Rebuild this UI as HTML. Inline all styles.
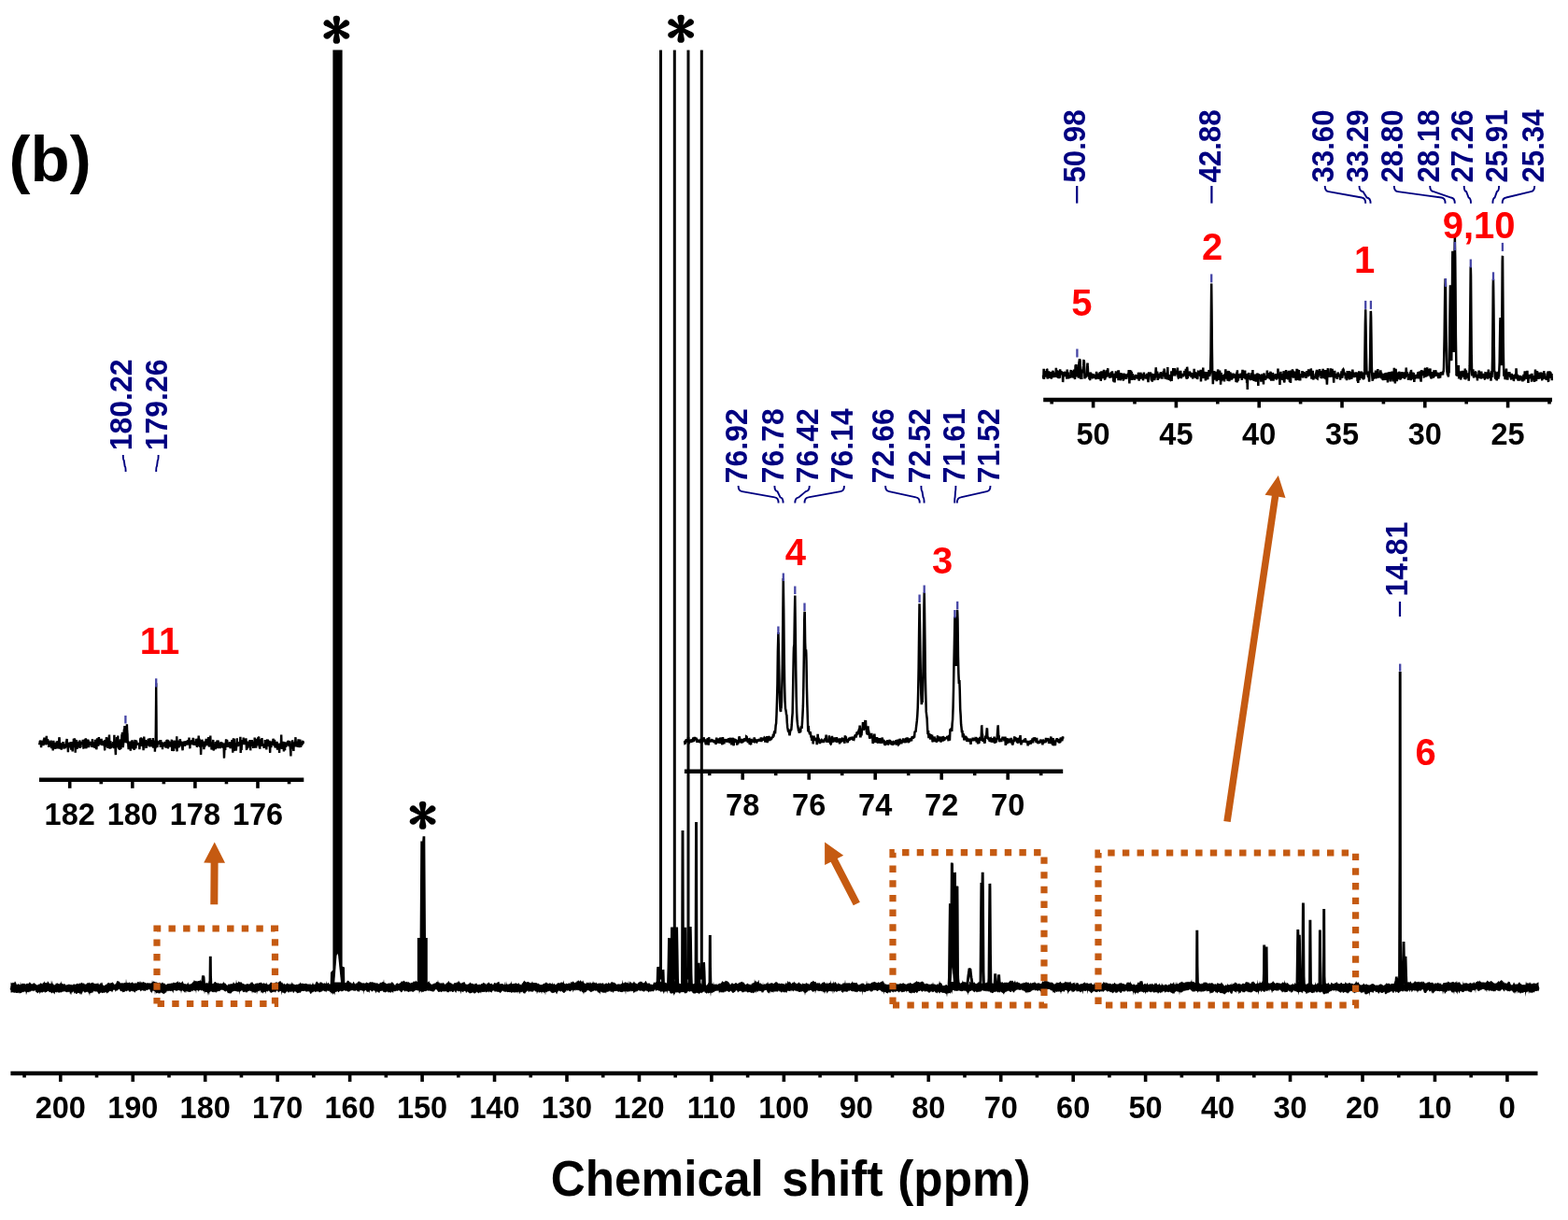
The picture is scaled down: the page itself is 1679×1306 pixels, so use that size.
<!DOCTYPE html>
<html><head><meta charset="utf-8"><title>13C NMR spectrum (b)</title>
<style>html,body{margin:0;padding:0;background:#fff;width:1679px;height:1306px;overflow:hidden}</style>
</head><body>
<svg width="1679" height="1306" viewBox="0 0 1679 1306" font-family="'Liberation Sans', Arial, sans-serif" style="display:block">
<rect width="1679" height="1306" fill="#fff"/>
<path d="M42 795.81L42.3 796.79L42.6 794.9L42.9 792.86L43.2 794.3L43.5 792.53L43.8 796.01L44.1 800.24L44.4 794.2L44.7 793.78L45 797.46L45.3 797.03L45.6 796.21L45.9 792.8L46.2 795.79L46.5 798.2L46.8 791.48L47.1 794.42L47.4 789.68L47.7 791.71L48 789.91L48.3 795.23L48.6 791.84L48.9 796.94L49.2 796.59L49.5 795.48L49.8 787.81L50.1 794.37L50.4 796.01L50.7 796.57L51 791.17L51.3 794.67L51.6 793.05L51.9 793.64L52.2 799.84L52.5 793.7L52.8 796.29L53.1 799.34L53.4 794.53L53.7 796.12L54 796.89L54.3 796.76L54.6 792.54L54.9 796.87L55.2 801.13L55.5 797.61L55.8 799.55L56.1 797.14L56.4 794.67L56.7 803.42L57 799.37L57.3 792.93L57.6 797.16L57.9 798.85L58.2 796.36L58.5 799.27L58.8 796.83L59.1 799.28L59.4 801.86L59.7 794.91L60 797.84L60.3 795.68L60.6 797.66L60.9 793.35L61.2 795.38L61.5 796.68L61.8 800.32L62.1 801.16L62.4 793.04L62.7 801.47L63 799.59L63.3 790.91L63.6 789.31L63.9 797.21L64.2 801.7L64.5 799.85L64.8 796.51L65.1 796.4L65.4 796.81L65.7 802.68L66 796.26L66.3 796.68L66.6 798.86L66.9 797.31L67.2 797.07L67.5 794.06L67.8 797.71L68.1 796.3L68.4 801.62L68.7 799.93L69 797.7L69.3 799.99L69.6 796.67L69.9 801.27L70.2 797.78L70.5 799.72L70.8 793.54L71.1 798.94L71.4 792.23L71.7 791.08L72 796.78L72.3 794.81L72.6 798.32L72.9 805.18L73.2 795.02L73.5 795.69L73.8 798.42L74.1 799.36L74.4 797.13L74.7 797.02L75 800.01L75.3 799.39L75.6 794.24L75.9 797.38L76.2 802.64L76.5 794.12L76.8 798.44L77.1 794.73L77.4 800.74L77.7 804.44L78 797.78L78.3 795.51L78.6 797.05L78.9 790.82L79.2 793.65L79.5 798.55L79.8 790.31L80.1 800.09L80.4 791.51L80.7 805.72L81 794.42L81.3 799.75L81.6 797.58L81.9 792.05L82.2 801.21L82.5 801.81L82.8 796.81L83.1 796.09L83.4 796.43L83.7 793.71L84 800.52L84.3 795.07L84.6 796.66L84.9 794.17L85.2 794.69L85.5 792.51L85.8 800.84L86.1 796.15L86.4 799.81L86.7 796.64L87 794.27L87.3 795.45L87.6 794.65L87.9 796.49L88.2 795.2L88.5 795.41L88.8 791.82L89.1 793.68L89.4 801.77L89.7 794.07L90 792.78L90.3 797.34L90.6 800.85L90.9 791.38L91.2 795.46L91.5 794.04L91.8 790.29L92.1 798.5L92.4 801.26L92.7 796.27L93 793.53L93.3 797.49L93.6 794.19L93.9 795.48L94.2 792.28L94.5 791.91L94.8 800.31L95.1 794.22L95.4 796.84L95.7 795.75L96 794.4L96.3 794.17L96.6 797.91L96.9 794.83L97.2 795.32L97.5 795.89L97.8 799.69L98.1 798.05L98.4 797.06L98.7 793.94L99 791.24L99.3 798.93L99.6 798.99L99.9 795.34L100.2 797.6L100.5 798.39L100.8 798.56L101.1 798.87L101.4 794.33L101.7 800.85L102 791.74L102.3 798.71L102.6 797.51L102.9 798.78L103.2 802.11L103.5 800.82L103.8 792.16L104.1 790.39L104.4 798.67L104.7 792.65L105 795.98L105.3 798.81L105.6 790.64L105.9 789.12L106.2 796.96L106.5 796.28L106.8 795.34L107.1 796.31L107.4 793.37L107.7 791.24L108 795.71L108.3 793.09L108.6 790.9L108.9 798.02L109.2 796.18L109.5 797.75L109.8 793.18L110.1 794.3L110.4 793.21L110.7 793.61L111 797.21L111.3 794.02L111.6 797.81L111.9 797.79L112.2 803.38L112.5 792.14L112.8 799.7L113.1 796.5L113.4 796.79L113.7 792.08L114 789.01L114.3 799.39L114.6 796.69L114.9 797.27L115.2 796.07L115.5 800.87L115.8 797.02L116.1 789.87L116.4 794.87L116.7 790.69L117 786.49L117.3 795.5L117.6 801.68L117.9 797.46L118.2 793.47L118.5 794.26L118.8 801.12L119.1 797.94L119.4 797.6L119.7 797.29L120 797.62L120.3 800.18L120.6 799.36L120.9 798.27L121.2 794.14L121.5 799.29L121.8 795.37L122.1 801.25L122.4 786.75L122.7 797.22L123 797.67L123.3 793.33L123.6 803.4L123.9 808.09L124.2 796.21L124.5 800.3L124.8 799.01L125.1 789.15L125.4 798.61L125.7 797.58L126 798.07L126.3 787.48L126.6 796.91L126.9 797.21L127.2 801.72L127.5 798.9L127.8 797.78L128.1 802.84L128.4 795.94L128.7 796.42L129 791.44L129.3 801.8L129.6 797.96L129.9 794.71L130.2 790.35L130.5 786.26L130.6 786.44L130.8 785.54L131.1 783.99L131.4 792.86L131.7 800.05L132 797.33L132.3 793.33L132.6 787.04L132.9 780.67L133.2 783.02L133.4 778.25L133.5 777.07L133.8 779.53L134.1 782.93L134.4 790.93L134.7 795.19L135 788.57L135.3 784.53L135.6 780.57L135.8 780.74L135.9 775.35L136.2 782.96L136.5 785.89L136.8 795.97L137.1 793.09L137.4 798.65L137.7 802.11L138 796.11L138.3 795.15L138.6 797.73L138.9 797.06L139.2 793.76L139.5 798.53L139.8 803.62L140.1 796.09L140.4 796.24L140.7 793.43L141 797.89L141.3 792.69L141.6 793.12L141.9 800.96L142.2 793.72L142.5 800.24L142.8 801.67L143.1 797.46L143.4 798.4L143.7 802.99L144 795.86L144.3 794.52L144.6 791.98L144.9 796.56L145.2 801.27L145.5 799.52L145.8 793.22L146.1 793.48L146.4 794.61L146.7 797.21L147 795.54L147.3 796.9L147.6 797.14L147.9 795.15L148.2 795.98L148.5 796.77L148.8 795.79L149.1 797.7L149.4 802.2L149.7 797.95L150 796.17L150.3 790.4L150.6 797.23L150.9 789.5L151.2 791.26L151.5 798.72L151.8 798.21L152.1 795.38L152.4 790.22L152.7 794.62L153 793.6L153.3 797.93L153.6 803.27L153.9 796.53L154.2 788.57L154.5 791.94L154.8 795.62L155.1 795.22L155.4 792L155.7 796.18L156 792L156.3 799.47L156.6 799.31L156.9 799.39L157.2 794.25L157.5 797.52L157.8 795.4L158.1 794.56L158.4 794.73L158.7 791.57L159 791.11L159.3 798.51L159.6 795.27L159.9 796.63L160.2 799.24L160.5 790.23L160.8 793.38L161.1 796.57L161.4 797.3L161.7 794.78L162 799.45L162.3 796.77L162.6 792.09L162.9 793.05L163.2 798.8L163.5 797.7L163.8 789.93L164.1 800.67L164.4 798.22L164.7 800.71L165 795.04L165.3 795.36L165.6 792.65L165.9 804.77L166.2 795.84L166.5 801.22L166.8 782.04L167.1 749.23L167.2 731.22L167.4 755.01L167.7 794.77L168 792.38L168.3 800.19L168.6 797.8L168.9 793.27L169.2 795.1L169.5 795.27L169.8 796.65L170.1 795.08L170.4 794.15L170.7 795.91L171 793.56L171.3 792.73L171.6 796.86L171.9 799.96L172.2 792.03L172.5 797.12L172.8 795L173.1 793.95L173.4 800.02L173.7 795.53L174 802.21L174.3 794.72L174.6 798.6L174.9 796.6L175.2 794.89L175.5 799.34L175.8 796.92L176.1 799.45L176.4 797.33L176.7 793.92L177 797.19L177.3 797.72L177.6 800.74L177.9 794.6L178.2 797.48L178.5 791.95L178.8 799.8L179.1 794.1L179.4 791.72L179.7 797.5L180 801.36L180.3 792.7L180.6 794.15L180.9 795.3L181.2 794.03L181.5 799.02L181.8 795.11L182.1 795.4L182.4 799.71L182.7 795.3L183 799.22L183.3 794.59L183.6 793.8L183.9 791.74L184.2 803.94L184.5 796.74L184.8 798.6L185.1 797.69L185.4 798.31L185.7 797.94L186 804.07L186.3 794.33L186.6 792.61L186.9 794.4L187.2 793.32L187.5 800.18L187.8 800.41L188.1 794.51L188.4 793.08L188.7 796.48L189 802.23L189.3 788.31L189.6 804.39L189.9 794.03L190.2 800.99L190.5 793.98L190.8 796.57L191.1 792.52L191.4 794.24L191.7 796.17L192 800.12L192.3 796.06L192.6 794.49L192.9 791.08L193.2 796L193.5 797.17L193.8 796.96L194.1 796.9L194.4 793.48L194.7 796.93L195 796.99L195.3 801.35L195.6 803.22L195.9 796.57L196.2 794.46L196.5 796.74L196.8 794.92L197.1 794.44L197.4 796.66L197.7 793.38L198 798.79L198.3 796.41L198.6 797.55L198.9 796.09L199.2 794.26L199.5 793.5L199.8 795.81L200.1 794.75L200.4 797.3L200.7 796.48L201 791.97L201.3 796.65L201.6 791.97L201.9 794.34L202.2 795.37L202.5 789.46L202.8 796.59L203.1 796.75L203.4 801.3L203.7 794.8L204 794.94L204.3 792.93L204.6 795.23L204.9 794.28L205.2 796.38L205.5 792.08L205.8 796.81L206.1 796.48L206.4 795.52L206.7 789.91L207 797.78L207.3 790.44L207.6 797.44L207.9 796.71L208.2 796.83L208.5 797.14L208.8 793.71L209.1 795L209.4 797.95L209.7 797.26L210 796.51L210.3 790.82L210.6 797.59L210.9 799.67L211.2 799.14L211.5 796.57L211.8 790.66L212.1 798.91L212.4 795.31L212.7 787.45L213 797.05L213.3 790.89L213.6 791.54L213.9 793.73L214.2 800.03L214.5 794.61L214.8 796.74L215.1 807.94L215.4 801.13L215.7 795.54L216 795.1L216.3 791.75L216.6 793.63L216.9 797.34L217.2 797.26L217.5 796.34L217.8 799.28L218.1 793.47L218.4 802.13L218.7 798.47L219 798.01L219.3 799.64L219.6 797.44L219.9 795.14L220.2 797.38L220.5 792.9L220.8 790.83L221.1 798.18L221.4 796.11L221.7 797.34L222 790.75L222.3 795.18L222.6 794.43L222.9 793.59L223.2 789.03L223.5 795.4L223.8 799.5L224.1 797.83L224.4 794.62L224.7 796.59L225 799.17L225.3 787.59L225.6 796.32L225.9 798.56L226.2 794.45L226.5 802.45L226.8 800.61L227.1 797.93L227.4 797.93L227.7 799.56L228 795.22L228.3 791.97L228.6 800.05L228.9 803.56L229.2 796.6L229.5 797L229.8 797.84L230.1 801.65L230.4 797.15L230.7 802.13L231 794.12L231.3 796.72L231.6 796.71L231.9 799.99L232.2 800.87L232.5 792.46L232.8 794.45L233.1 798.61L233.4 795.34L233.7 792.52L234 800.99L234.3 799.21L234.6 799.23L234.9 796.05L235.2 801.04L235.5 796.87L235.8 801.29L236.1 794.68L236.4 794.89L236.7 798.4L237 795.41L237.3 799.97L237.6 798.61L237.9 794.72L238.2 798.01L238.5 796.62L238.8 800.81L239.1 795.7L239.4 796.35L239.7 801.79L240 811.63L240.3 804.4L240.6 798.01L240.9 798.52L241.2 802.86L241.5 797.38L241.8 794.56L242.1 791.41L242.4 799.26L242.7 795.03L243 792.32L243.3 793L243.6 799.93L243.9 795.22L244.2 797.24L244.5 798.4L244.8 799.72L245.1 796.56L245.4 799.29L245.7 794.69L246 796.41L246.3 794.21L246.6 801.3L246.9 797.46L247.2 795.08L247.5 796.34L247.8 796.74L248.1 799.76L248.4 792.16L248.7 793.98L249 796.12L249.3 805.7L249.6 800.47L249.9 790.28L250.2 799.61L250.5 804.02L250.8 790.82L251.1 795.96L251.4 801.13L251.7 798.73L252 799.29L252.3 795.36L252.6 803.36L252.9 802.62L253.2 798.81L253.5 799.17L253.8 790.18L254.1 798.95L254.4 796.17L254.7 798.21L255 798.99L255.3 795.58L255.6 796.32L255.9 797.86L256.2 794.16L256.5 795.49L256.8 794.55L257.1 795.38L257.4 788.86L257.7 805.91L258 797.25L258.3 800.05L258.6 802.89L258.9 796.4L259.2 795.04L259.5 793.32L259.8 792.26L260.1 794.56L260.4 796.45L260.7 789.55L261 797.27L261.3 791.13L261.6 797.07L261.9 795.7L262.2 795.01L262.5 795.78L262.8 794.22L263.1 793.96L263.4 790.41L263.7 795.85L264 802.02L264.3 802.45L264.6 800.26L264.9 798.21L265.2 793.64L265.5 800.62L265.8 795.66L266.1 795.61L266.4 794.87L266.7 796.13L267 794.38L267.3 795.53L267.6 792.23L267.9 794.57L268.2 803.33L268.5 795.57L268.8 795.01L269.1 797.56L269.4 798.14L269.7 792.13L270 795.13L270.3 798.85L270.6 796.71L270.9 796.23L271.2 800.97L271.5 793.61L271.8 796.14L272.1 794.16L272.4 800.81L272.7 789.46L273 793.71L273.3 794.19L273.6 798.14L273.9 797.97L274.2 800.59L274.5 790.81L274.8 798.5L275.1 795.08L275.4 793.88L275.7 797.88L276 793.08L276.3 789.29L276.6 794.95L276.9 791.25L277.2 788.49L277.5 797.48L277.8 797.31L278.1 801.54L278.4 800.52L278.7 791.31L279 793.9L279.3 798.05L279.6 792.44L279.9 797.93L280.2 794.39L280.5 790.03L280.8 798.89L281.1 796.25L281.4 797.83L281.7 797.03L282 798.8L282.3 796.88L282.6 800.86L282.9 798.22L283.2 798.14L283.5 798.24L283.8 792.11L284.1 796.41L284.4 796.13L284.7 797.7L285 792.56L285.3 802.47L285.6 797.46L285.9 793.15L286.2 791.54L286.5 796.28L286.8 791.67L287.1 794.9L287.4 797.6L287.7 795.21L288 799.17L288.3 794.99L288.6 792.9L288.9 800.66L289.2 805.94L289.5 794.16L289.8 795.97L290.1 794.76L290.4 800.14L290.7 793.78L291 796L291.3 797.52L291.6 794.4L291.9 794.49L292.2 796.1L292.5 790.75L292.8 792.93L293.1 796.35L293.4 798.22L293.7 797.13L294 791.9L294.3 796.23L294.6 800.4L294.9 799.61L295.2 797.52L295.5 794.86L295.8 799.88L296.1 795.89L296.4 793.94L296.7 795.15L297 802.58L297.3 798.53L297.6 801.62L297.9 796.21L298.2 800.89L298.5 795.8L298.8 797.26L299.1 805.97L299.4 800.29L299.7 796.1L300 797.46L300.3 798.81L300.6 801.71L300.9 796.09L301.2 786.42L301.5 796.75L301.8 797.71L302.1 798L302.4 801.96L302.7 798.64L303 800.26L303.3 793.92L303.6 800.4L303.9 804.43L304.2 800.04L304.5 798.3L304.8 797.95L305.1 803.31L305.4 794.32L305.7 796.99L306 798.85L306.3 799.76L306.6 795.83L306.9 798.26L307.2 796.29L307.5 797.58L307.8 796.71L308.1 793.35L308.4 797.02L308.7 793.8L309 793.83L309.3 796.19L309.6 799.15L309.9 793.39L310.2 797.49L310.5 793.36L310.8 800.57L311.1 804.42L311.4 809.45L311.7 796L312 799.13L312.3 797.06L312.6 796.96L312.9 801.7L313.2 792.21L313.5 800.01L313.8 796.33L314.1 801.11L314.4 803.98L314.7 794.18L315 797.29L315.3 798.77L315.6 796.43L315.9 797.89L316.2 794.53L316.5 789.19L316.8 799.17L317.1 798.48L317.4 796.64L317.7 796.35L318 799.52L318.3 794.57L318.6 793.72L318.9 795.41L319.2 799.94L319.5 791.41L319.8 799.9L320.1 793.84L320.4 792.3L320.7 800.08L321 795.58L321.3 791.6L321.6 794.69L321.9 798.94L322.2 799.79L322.5 794.43L322.8 797.17L323.1 798.18L323.4 793.69L323.7 796.98L324 795.7L324.3 794.04L324.6 794.18L324.9 796.02" fill="none" stroke="#000" stroke-width="2.4" stroke-linejoin="miter" stroke-miterlimit="2"/>
<path d="M733 793.02L733.45 795.8L733.9 795.52L734.35 791.88L734.8 792.32L735.25 791.84L735.7 794.14L736.15 792.83L736.6 794.51L737.05 789.07L737.5 796.24L737.95 792.74L738.4 794.37L738.85 792.66L739.3 792.15L739.75 793.92L740.2 794.67L740.65 792.52L741.1 792.62L741.55 794.38L742 791.11L742.45 789.76L742.9 793.77L743.35 791.53L743.8 788.91L744.25 791.23L744.7 791.96L745.15 790.43L745.6 789.8L746.05 793.01L746.5 794.82L746.95 792.45L747.4 791.37L747.85 793.74L748.3 794.44L748.75 792.3L749.2 794.08L749.65 795.12L750.1 792.5L750.55 791.22L751 793.66L751.45 793.45L751.9 795.24L752.35 790.23L752.8 791.54L753.25 791.17L753.7 789.28L754.15 793.19L754.6 794.03L755.05 791.37L755.5 795.83L755.95 797.23L756.4 794.24L756.85 793.76L757.3 794.93L757.75 790.12L758.2 794.21L758.65 797.67L759.1 789.2L759.55 793.65L760 792.39L760.45 794.56L760.9 791.99L761.35 792.87L761.8 793.63L762.25 791.07L762.7 794.17L763.15 792.69L763.6 793.94L764.05 791.81L764.5 795.19L764.95 794.18L765.4 792.53L765.85 794.23L766.3 795.55L766.75 796.66L767.2 789.6L767.65 794.75L768.1 793.87L768.55 792.7L769 790.78L769.45 795.53L769.9 790.24L770.35 794.08L770.8 795.62L771.25 789.53L771.7 792.25L772.15 790.14L772.6 793.4L773.05 796.06L773.5 797.13L773.95 789.15L774.4 791.67L774.85 794.36L775.3 796.19L775.75 793.76L776.2 791.31L776.65 793.5L777.1 792.84L777.55 792.44L778 791.32L778.45 793.68L778.9 793.51L779.35 792.67L779.8 792.39L780.25 790.16L780.7 791.83L781.15 795.39L781.6 792.45L782.05 789.83L782.5 795.65L782.95 793.96L783.4 797.27L783.85 792.97L784.3 791.87L784.75 789.8L785.2 795.61L785.65 798.23L786.1 791.1L786.55 791.47L787 794.07L787.45 791.08L787.9 794.85L788.35 792.08L788.8 793.21L789.25 797.63L789.7 792.85L790.15 794.73L790.6 794.94L791.05 793.48L791.5 788.3L791.95 789.74L792.4 794.46L792.85 791.54L793.3 793.99L793.75 793.91L794.2 795.54L794.65 790.97L795.1 794.9L795.55 792.52L796 794.26L796.45 791.21L796.9 791.72L797.35 790.36L797.8 791.58L798.25 792.53L798.7 793.25L799.15 788.4L799.6 788.67L800.05 792.55L800.5 793.17L800.95 794.96L801.4 793.89L801.85 791.32L802.3 791.15L802.75 796.88L803.2 794.24L803.65 796.49L804.1 797.1L804.55 790.91L805 793.42L805.45 793.57L805.9 793.77L806.35 793.72L806.8 793L807.25 792.93L807.7 789.39L808.15 795.32L808.6 790.95L809.05 792.77L809.5 791.51L809.95 793.78L810.4 794.18L810.85 793.09L811.3 793.09L811.75 792.6L812.2 791.45L812.65 792.02L813.1 791.31L813.55 793.14L814 792.33L814.45 793.49L814.9 789.45L815.35 794.08L815.8 790.58L816.25 790.61L816.7 791.7L817.15 790.89L817.6 792.65L818.05 790.78L818.5 789.7L818.95 790.11L819.4 794.59L819.85 791.87L820.3 789.25L820.75 791.65L821.2 788.29L821.65 795.23L822.1 788.17L822.55 792.27L823 792.29L823.45 787.97L823.9 791.49L824.35 792.79L824.8 791.48L825.25 790.83L825.7 792.02L826.15 790.07L826.6 790.08L827.05 788.69L827.5 789.78L827.95 785.85L828.4 788.71L828.85 784.99L829.3 782.44L829.75 783.76L830 785.36L830.2 782.73L830.65 776.47L831.1 774.26L831.55 764.29L832 749.67L832.45 732.17L832.9 696.83L833.35 679.98L833.4 677.06L833.8 691.87L834.25 716.27L834.7 740.36L835.15 752.65L835.6 760.56L836.05 761.87L836.2 757.74L836.5 758.69L836.95 750.51L837.4 733.51L837.85 710.19L838.3 663.45L838.75 618.98L838.8 623.38L839.2 652.32L839.65 700.21L840.1 731.35L840.55 750.78L841 758.46L841.45 760.19L841.9 763.46L842 765.54L842.35 764.76L842.8 773.41L843.25 778.66L843.7 781.13L844.15 783.6L844.6 781.59L845.05 784.45L845.5 787.22L845.95 784.34L846.4 780.6L846.85 781.88L847.3 781.17L847.75 775.97L848.2 768.49L848.65 763.16L849.1 739.12L849.55 713.99L849.8 699.94L850 693.07L850.45 689.82L850.9 658.36L851.3 637.53L851.35 642.26L851.8 677.54L852.25 717.54L852.7 746.07L853.15 762.44L853.6 771.48L854.05 775.49L854.5 778.39L854.95 781.31L855.4 781.15L855.85 784.79L856.3 782.91L856.75 783.11L857.2 783.09L857.65 778.72L858.1 777.78L858.55 779.88L859 773.31L859.45 765.5L859.9 755.93L860.35 735.31L860.8 705.01L861.25 664.02L861.5 655.57L861.7 654.86L862.15 688L862.6 700.47L863.05 695.42L863.3 699.52L863.5 707.12L863.95 736.5L864.4 754.67L864.85 769.65L865.3 783.2L865.75 777.09L866.2 783.26L866.65 783.84L867.1 786.3L867.55 783.16L868 785.37L868.45 789.41L868.9 788.89L869.35 792.84L869.8 788.28L870.25 787.79L870.7 796.44L871.15 788.94L871.6 788.84L872.05 790.84L872.5 790.96L872.95 792.96L873.4 791.58L873.85 789.82L874.3 791.95L874.75 797.13L875.2 794.34L875.65 785.89L876.1 791.5L876.55 790.02L877 793.22L877.45 791.6L877.9 796.07L878.35 794.01L878.8 793.96L879.25 792.52L879.7 792.08L880.15 792.91L880.6 794.94L881.05 793.37L881.5 791.54L881.95 794.98L882.4 792.73L882.85 792.18L883.3 790.7L883.75 791.2L884.2 791.07L884.65 786.56L885.1 794.57L885.55 793.64L886 792.02L886.45 794.68L886.9 793.41L887.35 793.29L887.8 787.32L888.25 792.04L888.7 793.66L889.15 795.93L889.6 796.43L890.05 795.56L890.5 790.14L890.95 787.97L891.4 793.79L891.85 792.66L892.3 794.63L892.75 792.35L893.2 793.08L893.65 789.48L894.1 793.58L894.55 791.71L895 793.38L895.45 793.61L895.9 789.06L896.35 793.32L896.8 792.63L897.25 794.25L897.7 793.71L898.15 791.5L898.6 791.42L899.05 796.31L899.5 792.43L899.95 794.72L900.4 793.45L900.85 791.43L901.3 791.02L901.75 792.83L902.2 793.1L902.65 793.82L903.1 789.84L903.55 791.22L904 792.23L904.45 795.75L904.9 787.38L905.35 793.2L905.8 788.41L906.25 793.04L906.7 791.02L907.15 792.73L907.6 795.15L908.05 792.5L908.5 792.54L908.95 792.28L909.4 789.78L909.85 792.34L910.3 790.6L910.75 789.15L911.2 790.58L911.65 789.98L912.1 791.82L912.55 789.92L913 788.66L913.45 792.57L913.9 791.33L914.35 791.65L914.8 789.98L915.25 788.19L915.7 787.25L916.15 787.24L916.6 789.51L917.05 787.44L917.5 783.77L917.95 786.47L918.4 783.21L918.85 786.09L919.3 782.6L919.75 781.34L920.2 781.65L920.5 779.62L920.65 776.66L921.1 788.2L921.55 788.18L922 780.68L922.45 787.38L922.9 781.46L923.35 780.19L923.8 776.83L924 773L924.25 780.2L924.7 781.78L925.15 779.85L925.6 779.83L926.05 773.82L926.5 771.06L926.6 773.47L926.95 771.18L927.4 779.01L927.85 782.58L928.3 785.25L928.75 785.41L929.2 779.21L929.5 777.35L929.65 780.47L930.1 782.5L930.55 784.74L931 788.73L931.45 790.69L931.9 788.21L932.35 787.69L932.8 789.68L933.25 784.88L933.7 789.15L934.15 787.29L934.6 794.84L935.05 794.89L935.5 790.71L935.95 790.28L936.4 785.67L936.85 792.7L937.3 794.87L937.75 790.14L938.2 793.33L938.65 793.62L939.1 789.04L939.55 794.45L940 795.5L940.45 793.31L940.9 790.12L941.35 794.79L941.8 790.04L942.25 793.61L942.7 795.75L943.15 791.05L943.6 795.86L944.05 793L944.5 789.62L944.95 791.39L945.4 792.14L945.85 794.94L946.3 791.89L946.75 796.63L947.2 792.95L947.65 798.06L948.1 796.3L948.55 794.02L949 797.26L949.45 795.26L949.9 794.03L950.35 792.28L950.8 797.38L951.25 796.52L951.7 794.33L952.15 795.55L952.6 792.9L953.05 792.95L953.5 793.35L953.95 795.84L954.4 795.72L954.85 793.53L955.3 796.64L955.75 796.72L956.2 795.42L956.65 797.21L957.1 794.4L957.55 794.73L958 795.93L958.45 794.82L958.9 796.51L959.35 792.16L959.8 797.73L960.25 793.04L960.7 794.27L961.15 791.66L961.6 795.74L962.05 797.08L962.5 796.58L962.95 796L963.4 790.9L963.85 792.45L964.3 793.03L964.75 791.95L965.2 796.18L965.65 794.12L966.1 793.59L966.55 794.56L967 791.44L967.45 791.44L967.9 794.71L968.35 794.18L968.8 793.75L969.25 794.14L969.7 795.08L970.15 789.85L970.6 791.4L971.05 792.77L971.5 789.5L971.95 791.08L972.4 794.19L972.85 794.23L973.3 794.02L973.75 791.69L974.2 790.97L974.65 793.49L975.1 790.23L975.55 791.48L976 793.29L976.45 789.44L976.9 788.6L977.35 789.47L977.8 790.29L978.25 789.51L978.7 788.18L979.15 788.24L979.6 782.74L980.05 783.06L980.5 783.61L980.95 779.19L981.4 775.38L981.85 771.47L982.3 765.81L982.75 757.52L983.2 739.53L983.65 715.12L984.1 678.79L984.55 646.2L984.6 648.73L985 665.17L985.45 700.56L985.9 726.52L986.35 743.6L986.8 754.14L987.25 751.14L987.7 751.96L988.15 739.08L988.6 711.66L989.05 681.11L989.5 644.69L989.7 634.35L989.95 647.45L990.4 683.2L990.85 724.5L991.3 743.6L991.75 761.9L992.2 765.66L992.65 769.41L993.1 779.54L993.55 786.17L994 782.07L994.45 790.08L994.9 786.17L995.35 786.16L995.8 788.85L996.25 791.59L996.7 786.03L997.15 790.22L997.6 790.1L998.05 786.67L998.5 793.3L998.95 794.21L999.4 788.3L999.85 794.1L1000.3 790.71L1000.75 790.37L1001.2 793.97L1001.65 791.38L1002.1 791.66L1002.55 794.23L1003 793.8L1003.45 793.02L1003.9 788.24L1004.35 787.91L1004.8 793.6L1005.25 789.31L1005.7 791.58L1006.15 789.01L1006.6 790.88L1007.05 788.57L1007.5 794.66L1007.95 789.07L1008.4 790.92L1008.85 790.74L1009.3 793.62L1009.75 788.05L1010.2 790.9L1010.65 790.45L1011.1 791.91L1011.55 791.68L1012 789.59L1012.45 790.93L1012.9 789.47L1013.35 791.05L1013.8 789.63L1014.25 788.21L1014.7 789.23L1015.15 789.69L1015.6 793.26L1016.05 786.96L1016.5 788.01L1016.95 792.77L1017.4 781.27L1017.85 780.76L1018.3 780.34L1018.75 780.49L1019.2 782.98L1019.65 774.6L1020.1 770.32L1020.55 758.07L1021 738.59L1021.45 711.86L1021.9 689.59L1022.35 664.05L1022.4 660.27L1022.8 675.84L1023.25 694.37L1023.7 712.82L1024.15 708.69L1024.6 680.65L1025.05 652.72L1025.2 654.77L1025.5 662.95L1025.95 702.22L1026.4 721.35L1026.85 731.9L1027.3 729.08L1027.4 729.09L1027.75 739.05L1028.2 758.87L1028.65 765.61L1029.1 775.49L1029.55 779.21L1030 784.08L1030.45 781.86L1030.9 789.44L1031.35 786.22L1031.8 785.28L1032.25 791.23L1032.7 792.34L1033.15 788.89L1033.6 787.78L1034.05 789.99L1034.5 788.77L1034.95 789.8L1035.4 793.93L1035.85 791.65L1036.3 791.29L1036.75 791.85L1037.2 791.12L1037.65 793.12L1038.1 793.3L1038.55 790.77L1039 791.85L1039.45 796.77L1039.9 792.65L1040.35 791.43L1040.8 792.9L1041.25 791.95L1041.7 789.67L1042.15 793.43L1042.6 790.17L1043.05 791.05L1043.5 792.81L1043.95 791.88L1044.4 790.57L1044.85 791.04L1045.3 790.96L1045.75 794.67L1046.2 790.72L1046.65 791.03L1047.1 796.51L1047.55 791.05L1048 795.3L1048.45 794.88L1048.9 791.69L1049.35 788.83L1049.8 792.37L1050.25 791.89L1050.7 789.58L1051.15 777.56L1051.3 777.53L1051.6 784.73L1052.05 786.73L1052.5 793.87L1052.95 791.9L1053.4 790.63L1053.85 791.25L1054.3 795.85L1054.75 793.84L1055.2 787.69L1055.65 790.85L1056.1 788.34L1056.55 782.94L1056.8 779.92L1057 779.55L1057.45 790.11L1057.9 788.66L1058.35 790.76L1058.8 790.69L1059.25 790.65L1059.7 793.88L1060.15 793.21L1060.6 791.04L1061.05 790.52L1061.5 791.55L1061.95 794.58L1062.4 792.83L1062.85 790.19L1063.3 794.63L1063.75 792.02L1064.2 793L1064.65 788.65L1065.1 795.87L1065.55 790.77L1066 791.12L1066.45 794.95L1066.9 792.29L1067.35 791.26L1067.8 788.34L1068.25 781.34L1068.7 776.39L1069.15 787.14L1069.6 787.7L1070.05 794.06L1070.5 792.54L1070.95 790.65L1071.4 793.44L1071.85 792.5L1072.3 794.02L1072.75 791.07L1073.2 790.5L1073.65 788.78L1074.1 790.19L1074.55 790.48L1075 789.76L1075.45 793.42L1075.9 791.39L1076.35 788.61L1076.8 798.01L1077.25 791.05L1077.7 790.18L1078.15 795.42L1078.6 795.27L1079.05 790.41L1079.5 793.24L1079.95 790.74L1080.4 795.21L1080.85 792.19L1081.3 791.15L1081.75 792.79L1082.2 795.38L1082.65 789.94L1083.1 792.05L1083.55 792.57L1084 797.43L1084.45 796.69L1084.9 794.87L1085.35 792.59L1085.8 794.26L1086.25 788.46L1086.7 793.46L1087.15 790.07L1087.6 790.1L1088.05 791.4L1088.5 792.15L1088.95 794.09L1089.4 794.36L1089.85 790.02L1090.3 790.91L1090.75 794.31L1091.2 792.64L1091.65 795.37L1092.1 790.97L1092.55 787.1L1093 794.33L1093.45 797.42L1093.9 793.89L1094.35 792.5L1094.8 794.76L1095.25 793.96L1095.7 793.88L1096.15 791.83L1096.6 793.07L1097.05 793.33L1097.5 791.56L1097.95 790.56L1098.4 793.21L1098.85 794.95L1099.3 794.27L1099.75 793.95L1100.2 793.98L1100.65 798.34L1101.1 793.46L1101.55 795.11L1102 797.03L1102.45 793.03L1102.9 793.48L1103.35 795.12L1103.8 796.47L1104.25 793.58L1104.7 793.69L1105.15 793.12L1105.6 790.39L1106.05 795.27L1106.5 792.4L1106.95 789.32L1107.4 792.63L1107.85 789.3L1108.3 790.82L1108.75 792.98L1109.2 791.01L1109.65 795.19L1110.1 789.86L1110.55 793.5L1111 794.12L1111.45 796.02L1111.9 794.89L1112.35 793.44L1112.8 795.82L1113.25 792.83L1113.7 795.35L1114.15 791.58L1114.6 794.05L1115.05 792.76L1115.5 793.47L1115.95 792.41L1116.4 797.45L1116.85 791.58L1117.3 793.5L1117.75 793.54L1118.2 794.24L1118.65 793.91L1119.1 793.86L1119.55 795.03L1120 789.81L1120.45 792.99L1120.9 790.38L1121.35 793.46L1121.8 790.49L1122.25 790.96L1122.7 792.85L1123.15 795.91L1123.6 794.19L1124.05 793.6L1124.5 795.92L1124.95 790.99L1125.4 788.58L1125.85 792.09L1126.3 792.39L1126.75 795.57L1127.2 797.47L1127.65 790.19L1128.1 798.18L1128.55 796.27L1129 794.74L1129.45 793.75L1129.9 798.08L1130.35 793.15L1130.8 791.99L1131.25 793.28L1131.7 790.11L1132.15 793.98L1132.6 792.75L1133.05 793.68L1133.5 793.74L1133.95 790.76L1134.4 795.75L1134.85 790.86L1135.3 794.85L1135.75 789.64L1136.2 790.3L1136.65 791.27L1137.1 793.08L1137.55 791.62L1138 788.4L1138.45 790.65" fill="none" stroke="#000" stroke-width="2.5" stroke-linejoin="miter" stroke-miterlimit="2"/>
<path d="M1117 401.76L1117.33 405.44L1117.66 394.89L1117.99 406L1118.32 400.45L1118.65 398.04L1118.98 398.03L1119.31 397.14L1119.64 399.88L1119.97 403.27L1120.3 402.47L1120.63 402.64L1120.96 395.18L1121.29 395.57L1121.62 405.58L1121.95 403.7L1122.28 403.93L1122.61 404.48L1122.94 397.33L1123.27 404.73L1123.6 402.63L1123.93 401.31L1124.26 398L1124.59 400.63L1124.92 400.16L1125.25 403.49L1125.58 401.03L1125.91 405.71L1126.24 398.17L1126.57 402.16L1126.9 402.25L1127.23 397.89L1127.56 396.88L1127.89 403.91L1128.22 402.33L1128.55 400.16L1128.88 401.95L1129.21 398.53L1129.54 401.46L1129.87 398.77L1130.2 401.32L1130.53 403.88L1130.86 393.9L1131.19 403.46L1131.52 397.44L1131.85 399.83L1132.18 396.4L1132.51 400.45L1132.84 404.77L1133.17 400.16L1133.5 399.94L1133.83 405.1L1134.16 401.44L1134.49 396.94L1134.82 404.6L1135.15 395.34L1135.48 398.51L1135.81 400.32L1136.14 401.24L1136.47 397.54L1136.8 398.6L1137.13 401.16L1137.46 398.71L1137.79 398.89L1138.12 409.08L1138.45 403.95L1138.78 400.79L1139.11 401.05L1139.44 400.94L1139.77 399.56L1140.1 399.39L1140.43 397.72L1140.76 403.13L1141.09 400.8L1141.42 400.64L1141.75 401.74L1142.08 402.81L1142.41 405.67L1142.74 395.52L1143.07 399.87L1143.4 401.81L1143.73 398.48L1144.06 405.27L1144.39 404.18L1144.72 403.45L1145.05 400.86L1145.38 403.63L1145.71 404.64L1146.04 402.89L1146.37 400.41L1146.7 395.93L1147.03 404.37L1147.36 400.22L1147.69 398.67L1148.02 404.24L1148.35 402.49L1148.68 396.88L1149.01 401.12L1149.34 400.59L1149.67 404.64L1150 395.42L1150.33 400.27L1150.66 401.07L1150.99 406.05L1151.32 397.84L1151.65 390.65L1151.98 391.74L1152.31 391.07L1152.6 390.21L1152.64 393.22L1152.97 392.94L1153.3 394.91L1153.63 403.48L1153.96 401.51L1154.29 401.04L1154.62 401.62L1154.95 404.7L1155.28 389.27L1155.61 386.82L1155.94 384.73L1156 384.58L1156.27 385L1156.6 386.21L1156.93 401.04L1157.26 405.8L1157.59 404.13L1157.92 404.09L1158.25 405.9L1158.58 395.56L1158.91 397.09L1159.24 399.45L1159.57 396.62L1159.9 393.49L1160.23 391.38L1160.5 384.92L1160.56 387.73L1160.89 386.58L1161.22 395.33L1161.55 405.53L1161.88 400.24L1162.21 403.14L1162.54 404.4L1162.87 400.56L1163.2 403.88L1163.53 401.99L1163.86 401.16L1164.19 393.08L1164.5 388.62L1164.52 389.97L1164.85 393.82L1165.18 401.1L1165.51 400.9L1165.84 400.91L1166.17 401.72L1166.5 405.84L1166.83 400.5L1167.16 407.19L1167.49 398.44L1167.82 400.49L1168.15 405.14L1168.48 404.07L1168.81 399.69L1169.14 402.1L1169.47 400.19L1169.8 405.2L1170.13 404.21L1170.46 400.22L1170.79 403.79L1171.12 401.35L1171.45 402.31L1171.78 402.76L1172.11 400.76L1172.44 403.94L1172.77 404.07L1173.1 403.97L1173.43 406.16L1173.76 401.76L1174.09 397.9L1174.42 401.09L1174.75 403.31L1175.08 402.75L1175.41 404.54L1175.74 405.28L1176.07 402.34L1176.4 402.37L1176.73 399.58L1177.06 406.05L1177.39 401.91L1177.72 399.3L1178.05 399.21L1178.38 401.46L1178.71 407.78L1179.04 405.28L1179.37 397.4L1179.7 402.43L1180.03 403.68L1180.36 404.85L1180.69 403.95L1181.02 400.81L1181.35 404.19L1181.68 401.1L1182.01 395.71L1182.34 400.62L1182.67 400.7L1183 405.96L1183.33 406.29L1183.66 399.57L1183.99 403.48L1184.32 403.22L1184.65 398.34L1184.98 396.37L1185.31 402.65L1185.64 403.39L1185.97 396.64L1186.3 394.28L1186.63 402.87L1186.96 401.12L1187.29 400.13L1187.62 401.94L1187.95 399.37L1188.28 404.77L1188.61 403.02L1188.94 401.2L1189.27 403.89L1189.6 402.89L1189.93 398.14L1190.26 402.53L1190.59 401.53L1190.92 397.43L1191.25 400.91L1191.58 404.36L1191.91 401.02L1192.24 407.5L1192.57 408.43L1192.9 402.02L1193.23 399.78L1193.56 409.37L1193.89 401.94L1194.22 400.12L1194.55 401.64L1194.88 398.59L1195.21 398.67L1195.54 403.66L1195.87 401.65L1196.2 403.77L1196.53 404.54L1196.86 400.53L1197.19 396.58L1197.52 407.09L1197.85 396.27L1198.18 400.28L1198.51 403.97L1198.84 402.5L1199.17 404.01L1199.5 406.14L1199.83 406.18L1200.16 399.37L1200.49 400.18L1200.82 402.1L1201.15 403.31L1201.48 405.91L1201.81 399.82L1202.14 401.49L1202.47 403.67L1202.8 406.81L1203.13 407.28L1203.46 399.64L1203.79 402.17L1204.12 400.26L1204.45 405.55L1204.78 404.26L1205.11 401.67L1205.44 400.85L1205.77 403.74L1206.1 405.93L1206.43 400.32L1206.76 401.73L1207.09 403.12L1207.42 402.81L1207.75 403.82L1208.08 399.53L1208.41 400.81L1208.74 395.98L1209.07 402.87L1209.4 410.57L1209.73 396.09L1210.06 400.64L1210.39 405.52L1210.72 402.18L1211.05 396.56L1211.38 406.35L1211.71 398.03L1212.04 406.97L1212.37 400.7L1212.7 400.29L1213.03 402.63L1213.36 402.46L1213.69 404.44L1214.02 404.11L1214.35 402.01L1214.68 406.7L1215.01 404.74L1215.34 403.32L1215.67 402.86L1216 402.11L1216.33 402.15L1216.66 404.51L1216.99 403.89L1217.32 402.48L1217.65 405.59L1217.98 401.48L1218.31 403.7L1218.64 405.04L1218.97 398.71L1219.3 401.42L1219.63 407.58L1219.96 399.17L1220.29 405.9L1220.62 398.81L1220.95 403.48L1221.28 398.76L1221.61 400.17L1221.94 400.93L1222.27 400.36L1222.6 405.32L1222.93 404.75L1223.26 404.85L1223.59 402.67L1223.92 407.27L1224.25 405.31L1224.58 403.04L1224.91 398.62L1225.24 404.16L1225.57 404.03L1225.9 402.23L1226.23 404.19L1226.56 404.36L1226.89 400.92L1227.22 403.67L1227.55 402.95L1227.88 402.83L1228.21 400.71L1228.54 400.31L1228.87 402.15L1229.2 406.34L1229.53 409.18L1229.86 400.54L1230.19 398.33L1230.52 400.59L1230.85 399L1231.18 400.32L1231.51 402.91L1231.84 398.69L1232.17 399.94L1232.5 404.12L1232.83 406.42L1233.16 407.37L1233.49 404.73L1233.82 408.77L1234.15 399.9L1234.48 402.37L1234.81 402.02L1235.14 402.86L1235.47 404.71L1235.8 400.38L1236.13 406.89L1236.46 405.47L1236.79 402.5L1237.12 402.86L1237.45 398.26L1237.78 393.4L1238.11 401.05L1238.44 402.33L1238.77 402.03L1239.1 397.77L1239.43 399.83L1239.76 406.86L1240.09 403.57L1240.42 403.2L1240.75 400.23L1241.08 403.56L1241.41 405.29L1241.74 403.59L1242.07 399.87L1242.4 402.06L1242.73 398.33L1243.06 400.15L1243.39 402.99L1243.72 399.39L1244.05 400.35L1244.38 405.64L1244.71 400.52L1245.04 403.49L1245.37 400.08L1245.7 397.4L1246.03 401.02L1246.36 399.86L1246.69 394.59L1247.02 397.15L1247.35 399.63L1247.68 405.64L1248.01 399.12L1248.34 400.83L1248.67 402.92L1249 401.83L1249.33 399.82L1249.66 406.29L1249.99 405.13L1250.32 393.12L1250.65 403.91L1250.98 402.58L1251.31 403.95L1251.64 401.11L1251.97 403.44L1252.3 406.93L1252.63 406.24L1252.96 406.48L1253.29 404.13L1253.62 403.71L1253.95 403.76L1254.28 397.21L1254.61 407.97L1254.94 401.51L1255.27 401.78L1255.6 401.12L1255.93 402.24L1256.26 393.99L1256.59 401.45L1256.92 396.69L1257.25 397.58L1257.58 394.8L1257.91 395.24L1258.24 402.55L1258.57 399.13L1258.9 400.35L1259.23 400.13L1259.56 396.98L1259.89 398.41L1260.22 396.66L1260.55 399.66L1260.88 393.59L1261.21 399.39L1261.54 403.53L1261.87 404.47L1262.2 404.27L1262.53 402.2L1262.86 397.43L1263.19 403.5L1263.52 402.27L1263.85 401.46L1264.18 396.76L1264.51 401.85L1264.84 405.1L1265.17 402.97L1265.5 399.88L1265.83 402.35L1266.16 400.62L1266.49 401.18L1266.82 403.3L1267.15 401.71L1267.48 400.85L1267.81 401.84L1268.14 398.01L1268.47 397.46L1268.8 402.17L1269.13 398.74L1269.46 402.41L1269.79 394.78L1270.12 404.45L1270.45 400.33L1270.78 405.94L1271.11 392.78L1271.44 395.31L1271.77 405.13L1272.1 401.17L1272.43 401.65L1272.76 401.08L1273.09 401.2L1273.42 402.41L1273.75 397.5L1274.08 400.19L1274.41 399.61L1274.74 401.31L1275.07 398.77L1275.4 401.05L1275.73 404.08L1276.06 400.13L1276.39 400.21L1276.72 402.35L1277.05 403.5L1277.38 405.5L1277.71 400.4L1278.04 401.93L1278.37 404.16L1278.7 394.8L1279.03 401.32L1279.36 402.34L1279.69 400.62L1280.02 398.19L1280.35 402.78L1280.68 404.88L1281.01 400.66L1281.34 399.42L1281.67 400.29L1282 405.94L1282.33 404.96L1282.66 401.15L1282.99 397.54L1283.32 397.02L1283.65 400.03L1283.98 400.07L1284.31 401.94L1284.64 397.5L1284.97 400.72L1285.3 402.83L1285.63 395.77L1285.96 408.48L1286.29 403.02L1286.62 402.88L1286.95 397.06L1287.28 397.96L1287.61 404.49L1287.94 404.09L1288.27 393.52L1288.6 404.98L1288.93 398.97L1289.26 403.32L1289.59 397.81L1289.92 402.19L1290.25 399.45L1290.58 403.2L1290.91 407.3L1291.24 403.49L1291.57 404.7L1291.9 400.48L1292.23 398.23L1292.56 401.56L1292.89 404.85L1293.22 406.25L1293.55 401.38L1293.88 402.4L1294.21 400.34L1294.54 396.14L1294.87 401.92L1295.2 402.77L1295.53 400.34L1295.86 400.79L1296.19 391.91L1296.52 378.72L1296.85 339.06L1297.18 303.42L1297.2 305.27L1297.51 330.33L1297.84 372.03L1298.17 397.29L1298.5 398.72L1298.83 411.15L1299.16 402.53L1299.49 398.41L1299.82 397L1300.15 406.69L1300.48 403.9L1300.81 403.23L1301.14 397.63L1301.47 400.2L1301.8 398.13L1302.13 405.53L1302.46 400.37L1302.79 408.21L1303.12 403.73L1303.45 401.06L1303.78 406.39L1304.11 395.42L1304.44 399.48L1304.77 400.88L1305.1 405.59L1305.43 405.63L1305.76 403.35L1306.09 396.55L1306.42 400.55L1306.75 398.74L1307.08 411.75L1307.41 400.88L1307.74 399L1308.07 408.26L1308.4 402.1L1308.73 404.59L1309.06 401.15L1309.39 402.54L1309.72 402.54L1310.05 402.47L1310.38 406.8L1310.71 401.2L1311.04 408.44L1311.37 400.41L1311.7 403.29L1312.03 401.56L1312.36 395.3L1312.69 405.65L1313.02 403.29L1313.35 398.17L1313.68 400.25L1314.01 397.43L1314.34 403.51L1314.67 407.61L1315 406.52L1315.33 398.5L1315.66 397.14L1315.99 404.35L1316.32 408.05L1316.65 402.84L1316.98 406.05L1317.31 398.24L1317.64 402.35L1317.97 404.13L1318.3 401.41L1318.63 406.63L1318.96 404.94L1319.29 400.76L1319.62 399.59L1319.95 405.17L1320.28 403.56L1320.61 399.61L1320.94 404.19L1321.27 401.02L1321.6 404.87L1321.93 402.8L1322.26 401.92L1322.59 400.38L1322.92 403.51L1323.25 402.72L1323.58 408.93L1323.91 402.74L1324.24 398.58L1324.57 409.52L1324.9 396.39L1325.23 408.2L1325.56 400.16L1325.89 407.37L1326.22 402.35L1326.55 404.68L1326.88 403.04L1327.21 402.6L1327.54 404.62L1327.87 400.91L1328.2 404.5L1328.53 399.51L1328.86 404.34L1329.19 401.35L1329.52 402.67L1329.85 406.88L1330.18 400.31L1330.51 395.79L1330.84 399.4L1331.17 401.7L1331.5 404.8L1331.83 400.61L1332.16 402.06L1332.49 401.12L1332.82 403.28L1333.15 396.56L1333.48 404.91L1333.81 405.97L1334.14 400.34L1334.47 402.79L1334.8 400.11L1335.13 409.89L1335.46 405.04L1335.79 416.87L1336.12 402.36L1336.45 400.22L1336.78 401.49L1337.11 399.01L1337.44 403.7L1337.77 404.03L1338.1 405.99L1338.43 404.33L1338.76 401.72L1339.09 407.18L1339.42 404.9L1339.75 405.71L1340.08 399.3L1340.41 400.38L1340.74 401L1341.07 401.79L1341.4 396.05L1341.73 406.89L1342.06 402.38L1342.39 405.76L1342.72 405.53L1343.05 407.84L1343.38 404.89L1343.71 404.26L1344.04 400.69L1344.37 403.46L1344.7 408.68L1345.03 401.49L1345.36 400.81L1345.69 403.95L1346.02 408.24L1346.35 399.56L1346.68 401.63L1347.01 403.56L1347.34 413.01L1347.67 400.3L1348 402.57L1348.33 405.45L1348.66 400.81L1348.99 404.3L1349.32 404.38L1349.65 401.91L1349.98 404.18L1350.31 408.56L1350.64 403.45L1350.97 401.68L1351.3 400.65L1351.63 403.77L1351.96 406.35L1352.29 403.49L1352.62 404.01L1352.95 411.48L1353.28 400.55L1353.61 399.54L1353.94 403.85L1354.27 402.28L1354.6 404.79L1354.93 406.9L1355.26 404.08L1355.59 402.29L1355.92 404.56L1356.25 404.44L1356.58 402.59L1356.91 396.63L1357.24 404.99L1357.57 402.2L1357.9 399.16L1358.23 404.99L1358.56 401.13L1358.89 401.05L1359.22 404.83L1359.55 400.24L1359.88 406.2L1360.21 399.57L1360.54 397.81L1360.87 403.6L1361.2 407.62L1361.53 399.84L1361.86 406.33L1362.19 406L1362.52 407.39L1362.85 399.14L1363.18 400.46L1363.51 407.79L1363.84 402.36L1364.17 402.48L1364.5 404.76L1364.83 404.44L1365.16 400.72L1365.49 401.79L1365.82 404.49L1366.15 403.3L1366.48 400.1L1366.81 406.49L1367.14 405.12L1367.47 401.37L1367.8 400.61L1368.13 405.3L1368.46 394.64L1368.79 402.67L1369.12 400.42L1369.45 400.15L1369.78 405.11L1370.11 403.25L1370.44 412.03L1370.77 401.57L1371.1 403.42L1371.43 397.77L1371.76 405.45L1372.09 400.32L1372.42 402.9L1372.75 406.33L1373.08 405.95L1373.41 403.73L1373.74 406.23L1374.07 400.72L1374.4 399.14L1374.73 397.24L1375.06 409.41L1375.39 408.34L1375.72 401.01L1376.05 402.06L1376.38 401L1376.71 403.54L1377.04 396.15L1377.37 404.68L1377.7 405.38L1378.03 399.74L1378.36 398.68L1378.69 399.07L1379.02 403.63L1379.35 406.46L1379.68 398.65L1380.01 396.88L1380.34 402.11L1380.67 402.62L1381 409.02L1381.33 399.52L1381.66 404.05L1381.99 410L1382.32 396.44L1382.65 400.69L1382.98 403.58L1383.31 404.05L1383.64 399.82L1383.97 395.35L1384.3 399.04L1384.63 396.96L1384.96 399.82L1385.29 404.75L1385.62 399.42L1385.95 401.69L1386.28 397.54L1386.61 404.36L1386.94 399.36L1387.27 398.01L1387.6 407.3L1387.93 402.39L1388.26 403.48L1388.59 394.91L1388.92 405.82L1389.25 406.74L1389.58 395.54L1389.91 400.27L1390.24 399.35L1390.57 404.63L1390.9 396.16L1391.23 402.21L1391.56 407.53L1391.89 401.58L1392.22 407.43L1392.55 401.19L1392.88 400.13L1393.21 404.01L1393.54 400.84L1393.87 401.39L1394.2 399.76L1394.53 397.19L1394.86 400.05L1395.19 403.28L1395.52 404.47L1395.85 400.78L1396.18 401.98L1396.51 398.02L1396.84 400.42L1397.17 400.48L1397.5 400.53L1397.83 401.15L1398.16 402.08L1398.49 404.84L1398.82 403.4L1399.15 402.58L1399.48 397.04L1399.81 398.35L1400.14 401.07L1400.47 401.24L1400.8 403.24L1401.13 395.29L1401.46 401.47L1401.79 401.29L1402.12 399.82L1402.45 398.36L1402.78 401.61L1403.11 400.37L1403.44 402.38L1403.77 394.47L1404.1 397.99L1404.43 405.73L1404.76 401.59L1405.09 403.96L1405.42 399.85L1405.75 396.74L1406.08 405.41L1406.41 405.43L1406.74 403.69L1407.07 404.71L1407.4 402.37L1407.73 405.07L1408.06 402.9L1408.39 405.38L1408.72 400.82L1409.05 400.62L1409.38 399.12L1409.71 399.42L1410.04 395.9L1410.37 405.14L1410.7 405.37L1411.03 403.25L1411.36 404.1L1411.69 401.65L1412.02 402.49L1412.35 396.65L1412.68 400.7L1413.01 395.19L1413.34 398.79L1413.67 400.04L1414 399.95L1414.33 397.58L1414.66 405.03L1414.99 404.1L1415.32 399.29L1415.65 397.07L1415.98 399.42L1416.31 403.94L1416.64 394.92L1416.97 403.53L1417.3 400.57L1417.63 405.22L1417.96 404.22L1418.29 401.06L1418.62 399.89L1418.95 404.94L1419.28 395.98L1419.61 406.14L1419.94 398.36L1420.27 398.4L1420.6 406.08L1420.93 411.6L1421.26 404.98L1421.59 398.43L1421.92 394.18L1422.25 401.87L1422.58 401.12L1422.91 399.27L1423.24 400.73L1423.57 399L1423.9 403.82L1424.23 400.89L1424.56 400.51L1424.89 394.22L1425.22 401.99L1425.55 396.59L1425.88 403.54L1426.21 401.11L1426.54 394.8L1426.87 400.17L1427.2 397.46L1427.53 403.01L1427.86 402.68L1428.19 409.65L1428.52 398.84L1428.85 402.85L1429.18 396.94L1429.51 402.34L1429.84 400.59L1430.17 402.08L1430.5 401.31L1430.83 404.59L1431.16 400.27L1431.49 400.8L1431.82 405.83L1432.15 401.19L1432.48 399.73L1432.81 398.57L1433.14 401.49L1433.47 401.35L1433.8 403.51L1434.13 400.95L1434.46 403.68L1434.79 400.68L1435.12 406.59L1435.45 401.4L1435.78 403.72L1436.11 402.8L1436.44 397.43L1436.77 404.88L1437.1 400.3L1437.43 404.56L1437.76 395.32L1438.09 395.8L1438.42 395.34L1438.75 395.99L1439.08 400.45L1439.41 401.59L1439.74 398.6L1440.07 400.64L1440.4 399.57L1440.73 404.09L1441.06 404.01L1441.39 402.73L1441.72 403.84L1442.05 407.24L1442.38 403.88L1442.71 397.02L1443.04 401.19L1443.37 400.93L1443.7 404.48L1444.03 403.42L1444.36 404.65L1444.69 397.04L1445.02 406.37L1445.35 401.49L1445.68 405.03L1446.01 403.52L1446.34 399.22L1446.67 399.43L1447 403.93L1447.33 405.66L1447.66 399.17L1447.99 398.45L1448.32 395.56L1448.65 399.12L1448.98 399.72L1449.31 401.16L1449.64 404.01L1449.97 400.55L1450.3 398.58L1450.63 400.92L1450.96 401.88L1451.29 402.61L1451.62 402.57L1451.95 401.6L1452.28 398.38L1452.61 401.26L1452.94 398.9L1453.27 401.66L1453.6 408.09L1453.93 399.65L1454.26 410L1454.59 406.13L1454.92 404.55L1455.25 397.22L1455.58 402L1455.91 406.88L1456.24 398.65L1456.57 400.08L1456.9 403.39L1457.23 403.51L1457.56 397.74L1457.89 398.46L1458.22 403.35L1458.55 403.39L1458.88 404.79L1459.21 401.97L1459.54 404.48L1459.87 406.33L1460.2 398.66L1460.53 405.49L1460.86 403.02L1461.19 397.53L1461.52 373.65L1461.85 347.79L1462.18 333.03L1462.2 331.21L1462.51 348.14L1462.84 372.55L1463.17 388.89L1463.5 401.12L1463.83 399L1464.16 397.75L1464.49 399.44L1464.82 402.79L1465.15 403.1L1465.48 402.4L1465.81 404.44L1466.14 408.65L1466.47 398.07L1466.8 397.91L1467.13 382.31L1467.46 351.62L1467.79 333.01L1467.9 333.56L1468.12 339.47L1468.45 362.06L1468.78 390.39L1469.11 399.86L1469.44 404.25L1469.77 407.77L1470.1 398.9L1470.43 405.97L1470.76 404.38L1471.09 400.17L1471.42 402.72L1471.75 401.61L1472.08 399.26L1472.41 405.44L1472.74 400.52L1473.07 396.59L1473.4 405.5L1473.73 401.42L1474.06 404.1L1474.39 403.59L1474.72 402L1475.05 401.77L1475.38 395.07L1475.71 401.69L1476.04 399.43L1476.37 404.55L1476.7 400.54L1477.03 400.94L1477.36 403.29L1477.69 399.4L1478.02 400.77L1478.35 396.26L1478.68 404.24L1479.01 398.47L1479.34 405.37L1479.67 402.54L1480 401.43L1480.33 404.06L1480.66 406.14L1480.99 406.58L1481.32 399.74L1481.65 407.17L1481.98 403.1L1482.31 407.06L1482.64 399.69L1482.97 402.45L1483.3 402.64L1483.63 399.03L1483.96 401.56L1484.29 405.79L1484.62 406.44L1484.95 405.01L1485.28 403.84L1485.61 401.58L1485.94 409.36L1486.27 398.76L1486.6 399.19L1486.93 400.54L1487.26 403.48L1487.59 401.49L1487.92 405.32L1488.25 398.03L1488.58 405.49L1488.91 408.37L1489.24 405.61L1489.57 401.96L1489.9 401L1490.23 402.27L1490.56 397.56L1490.89 406.15L1491.22 397.62L1491.55 402.38L1491.88 408.55L1492.21 401.47L1492.54 406.15L1492.87 393.86L1493.2 401.08L1493.53 401L1493.86 410.49L1494.19 400.03L1494.52 394.95L1494.85 398.05L1495.18 407.54L1495.51 402.91L1495.84 408.24L1496.17 398.56L1496.5 401.91L1496.83 406.26L1497.16 400.87L1497.49 399.82L1497.82 402.98L1498.15 397.84L1498.48 398.93L1498.81 400.11L1499.14 402.71L1499.47 405.82L1499.8 406.14L1500.13 401.96L1500.46 403.28L1500.79 401.58L1501.12 398.12L1501.45 403.78L1501.78 400.23L1502.11 404.82L1502.44 400.79L1502.77 399.32L1503.1 403.48L1503.43 400.73L1503.76 398.34L1504.09 405.62L1504.42 403.37L1504.75 403.35L1505.08 402.6L1505.41 400.6L1505.74 393.61L1506.07 400.56L1506.4 400.92L1506.73 403.59L1507.06 398.2L1507.39 403.72L1507.72 402.33L1508.05 406.79L1508.38 399.95L1508.71 402.23L1509.04 402.95L1509.37 403.99L1509.7 406.16L1510.03 403.62L1510.36 397.76L1510.69 407.25L1511.02 395.92L1511.35 404.08L1511.68 406.17L1512.01 399.93L1512.34 401.9L1512.67 401.8L1513 398.54L1513.33 403.15L1513.66 399L1513.99 402.98L1514.32 408.82L1514.65 405.34L1514.98 406.15L1515.31 403.23L1515.64 403.42L1515.97 401.19L1516.3 401.66L1516.63 404.6L1516.96 404.26L1517.29 403.29L1517.62 401.77L1517.95 405L1518.28 398.26L1518.61 400.1L1518.94 402.42L1519.27 405.23L1519.6 397.85L1519.93 398.36L1520.26 402.45L1520.59 403.91L1520.92 404.12L1521.25 406.39L1521.58 408.68L1521.91 397.85L1522.24 396.13L1522.57 399.83L1522.9 398.13L1523.23 401.64L1523.56 399.78L1523.89 401.93L1524.22 400.35L1524.55 396.94L1524.88 403.27L1525.21 403.16L1525.54 400.03L1525.87 394.63L1526.2 394.14L1526.53 397.04L1526.86 402.48L1527.19 403.37L1527.52 401.5L1527.85 401.48L1528.18 393.34L1528.51 402.35L1528.84 399.07L1529.17 400.33L1529.5 398.17L1529.83 394.93L1530.16 399.88L1530.49 402.29L1530.82 397.78L1531.15 396.26L1531.48 394.56L1531.81 403.75L1532.14 402.72L1532.47 405.42L1532.8 403.84L1533.13 402.05L1533.46 398.02L1533.79 402.98L1534.12 400.76L1534.45 398.35L1534.78 404.46L1535.11 402.24L1535.44 396.41L1535.77 403.27L1536.1 401.49L1536.43 399.73L1536.76 399.42L1537.09 397.65L1537.42 396.27L1537.75 401.68L1538.08 402.27L1538.41 399.75L1538.74 401.58L1539.07 399.6L1539.4 399.66L1539.73 402.33L1540.06 402.26L1540.39 405.14L1540.72 399.29L1541.05 401.8L1541.38 400.2L1541.71 401.38L1542.04 404.58L1542.37 401.93L1542.7 398.27L1543.03 399.25L1543.36 398.84L1543.69 399.85L1544.02 398.59L1544.35 399.11L1544.68 400.09L1545.01 401.52L1545.34 397.44L1545.67 398.54L1546 393.23L1546.33 378.14L1546.66 359.86L1546.99 332.22L1547.32 307L1547.6 301.8L1547.65 298.15L1547.98 307.7L1548.31 340.48L1548.64 363.61L1548.97 378.65L1549.3 396.64L1549.63 398.88L1549.96 400.76L1550.29 401.84L1550.62 399.91L1550.95 403.52L1551.28 394.28L1551.61 399.26L1551.94 381.37L1552.27 350.64L1552.6 328.84L1552.93 305.19L1553 310.26L1553.26 316.83L1553.59 344.15L1553.92 368.19L1554.25 386.13L1554.58 358.37L1554.91 321.09L1555.24 277.25L1555.4 268.81L1555.57 285.02L1555.9 322.93L1556.23 370.61L1556.56 377.02L1556.89 357.38L1557.22 318.61L1557.55 271.83L1557.88 252.36L1557.9 260.65L1558.21 274.28L1558.54 309.47L1558.87 359.35L1559.2 381.52L1559.53 402.31L1559.86 400.08L1560.19 398.18L1560.52 403.01L1560.85 398.97L1561.18 402.36L1561.51 398.86L1561.84 391.09L1562.17 405.57L1562.5 397.83L1562.83 403.71L1563.16 402.6L1563.49 399.09L1563.82 397.18L1564.15 406.57L1564.48 401.45L1564.81 404.67L1565.14 401.8L1565.47 403.66L1565.8 401.5L1566.13 396.9L1566.46 398.47L1566.79 402L1567.12 397.23L1567.45 399.82L1567.78 400.56L1568.11 404.25L1568.44 405.82L1568.77 394.64L1569.1 402.19L1569.43 406.43L1569.76 396.8L1570.09 397.66L1570.42 404.54L1570.75 401.51L1571.08 399.31L1571.41 401.63L1571.74 403.23L1572.07 401.33L1572.4 402.25L1572.73 407.56L1573.06 402.09L1573.39 399.67L1573.72 391.4L1574.05 363.65L1574.38 324.33L1574.71 287.92L1574.8 285.48L1575.04 295.1L1575.37 339.41L1575.7 379.22L1576.03 395.3L1576.36 402.34L1576.69 397.78L1577.02 399.49L1577.35 395.43L1577.68 400.63L1578.01 404.37L1578.34 402.89L1578.67 400.26L1579 402.95L1579.33 402.33L1579.66 398.8L1579.99 398.44L1580.32 398.72L1580.65 402.89L1580.98 403.31L1581.31 402.77L1581.64 400.78L1581.97 407.34L1582.3 400.99L1582.63 403.11L1582.96 402.19L1583.29 404.82L1583.62 396.58L1583.95 403.27L1584.28 401.13L1584.61 401.46L1584.94 398.56L1585.27 399.55L1585.6 405.46L1585.93 404.43L1586.26 397.47L1586.59 402.57L1586.92 400.36L1587.25 405.11L1587.58 403.24L1587.91 404.21L1588.24 401.74L1588.57 402.07L1588.9 399.97L1589.23 401.69L1589.56 400.25L1589.89 405.71L1590.22 406.08L1590.55 399.36L1590.88 399.43L1591.21 399.76L1591.54 399.66L1591.87 398.48L1592.2 399.95L1592.53 404.03L1592.86 404.27L1593.19 402L1593.52 401.58L1593.85 395.56L1594.18 400.38L1594.51 398.85L1594.84 401.05L1595.17 399.87L1595.5 405.05L1595.83 399.59L1596.16 402.16L1596.49 407.6L1596.82 402.12L1597.15 397.05L1597.48 403.93L1597.81 397.71L1598.14 380.98L1598.47 347.02L1598.8 306.61L1599 298.76L1599.13 305.56L1599.46 331.33L1599.79 370.92L1600.12 397.63L1600.45 396.98L1600.78 403.22L1601.11 405.55L1601.44 402.18L1601.77 401.03L1602.1 406.36L1602.43 398.26L1602.76 407.46L1603.09 399.73L1603.42 402.55L1603.75 399.14L1604.08 399.22L1604.41 405.48L1604.74 402.66L1605.07 403.5L1605.4 395.01L1605.73 387.43L1606.06 363.2L1606.39 344.07L1606.6 340.17L1606.72 342.1L1607.05 361.46L1607.38 380.43L1607.71 391.16L1608.04 370.25L1608.37 331.41L1608.7 280.37L1608.9 274.38L1609.03 274.07L1609.36 318.3L1609.69 365.53L1610.02 387.53L1610.35 402.77L1610.68 399.72L1611.01 397.3L1611.34 403.17L1611.67 406.19L1612 405L1612.33 400.21L1612.66 397.59L1612.99 394.66L1613.32 400.84L1613.65 401.21L1613.98 402.31L1614.31 406.57L1614.64 402.22L1614.97 399.55L1615.3 399.44L1615.63 399.95L1615.96 400.81L1616.29 398.12L1616.62 401.9L1616.95 402.64L1617.28 403.19L1617.61 403.52L1617.94 404.87L1618.27 406.46L1618.6 399.89L1618.93 402.02L1619.26 402.57L1619.59 402.46L1619.92 405.42L1620.25 405.14L1620.58 401.03L1620.91 408.03L1621.24 404.54L1621.57 405.08L1621.9 401.15L1622.23 405.38L1622.56 402.01L1622.89 400.11L1623.22 403.37L1623.55 394.37L1623.88 399.7L1624.21 404.37L1624.54 405.42L1624.87 400.92L1625.2 405.92L1625.53 406.57L1625.86 406.5L1626.19 404.05L1626.52 402.09L1626.85 407.7L1627.18 401.87L1627.51 404.47L1627.84 406.44L1628.17 402.64L1628.5 403.97L1628.83 403.87L1629.16 404.68L1629.49 403.75L1629.82 406.47L1630.15 406.34L1630.48 408.34L1630.81 402.95L1631.14 405.36L1631.47 400.96L1631.8 401.88L1632.13 407.45L1632.46 402.3L1632.79 397.37L1633.12 401.46L1633.45 401.51L1633.78 397.54L1634.11 403.68L1634.44 405.62L1634.77 401.49L1635.1 406.01L1635.43 396.78L1635.76 405.31L1636.09 402.99L1636.42 409.86L1636.75 403.08L1637.08 402.93L1637.41 402.93L1637.74 401.95L1638.07 401.84L1638.4 405.07L1638.73 403.79L1639.06 403.87L1639.39 403.79L1639.72 400.88L1640.05 408.66L1640.38 399.9L1640.71 405.74L1641.04 402.4L1641.37 406.05L1641.7 402.22L1642.03 406.19L1642.36 404.38L1642.69 406.42L1643.02 408.87L1643.35 403.52L1643.68 403.34L1644.01 395.64L1644.34 402.91L1644.67 405.54L1645 408L1645.33 403.01L1645.66 402.32L1645.99 396.99L1646.32 405.37L1646.65 400.61L1646.98 398.68L1647.31 405.7L1647.64 403.92L1647.97 404.42L1648.3 403.1L1648.63 400.73L1648.96 405.37L1649.29 400.08L1649.62 398.67L1649.95 399.66L1650.28 399.33L1650.61 405.07L1650.94 400.28L1651.27 407.39L1651.6 398.7L1651.93 400.52L1652.26 401.67L1652.59 404.86L1652.92 404.63L1653.25 397.07L1653.58 404.33L1653.91 401.55L1654.24 399.67L1654.57 405.59L1654.9 403.55L1655.23 403.67L1655.56 406.61L1655.89 405.43L1656.22 402.67L1656.55 404.65L1656.88 406.74L1657.21 400.4L1657.54 397.53L1657.87 408.04L1658.2 408.53L1658.53 397.4L1658.86 403.39L1659.19 398.01L1659.52 398.33L1659.85 400.86L1660.18 398.03L1660.51 405.04L1660.84 399.56L1661.17 403.34L1661.5 400.13L1661.83 407.23" fill="none" stroke="#000" stroke-width="2.5" stroke-linejoin="miter" stroke-miterlimit="2"/>
<line x1="11.4" y1="1149" x2="1646.5" y2="1149" stroke="#000" stroke-width="4.5"/>
<line x1="64.8" y1="1149" x2="64.8" y2="1158" stroke="#000" stroke-width="3.6"/>
<line x1="142.26" y1="1149" x2="142.26" y2="1158" stroke="#000" stroke-width="3.6"/>
<line x1="219.71" y1="1149" x2="219.71" y2="1158" stroke="#000" stroke-width="3.6"/>
<line x1="297.17" y1="1149" x2="297.17" y2="1158" stroke="#000" stroke-width="3.6"/>
<line x1="374.62" y1="1149" x2="374.62" y2="1158" stroke="#000" stroke-width="3.6"/>
<line x1="452.08" y1="1149" x2="452.08" y2="1158" stroke="#000" stroke-width="3.6"/>
<line x1="529.53" y1="1149" x2="529.53" y2="1158" stroke="#000" stroke-width="3.6"/>
<line x1="606.99" y1="1149" x2="606.99" y2="1158" stroke="#000" stroke-width="3.6"/>
<line x1="684.44" y1="1149" x2="684.44" y2="1158" stroke="#000" stroke-width="3.6"/>
<line x1="761.9" y1="1149" x2="761.9" y2="1158" stroke="#000" stroke-width="3.6"/>
<line x1="839.35" y1="1149" x2="839.35" y2="1158" stroke="#000" stroke-width="3.6"/>
<line x1="916.81" y1="1149" x2="916.81" y2="1158" stroke="#000" stroke-width="3.6"/>
<line x1="994.26" y1="1149" x2="994.26" y2="1158" stroke="#000" stroke-width="3.6"/>
<line x1="1071.72" y1="1149" x2="1071.72" y2="1158" stroke="#000" stroke-width="3.6"/>
<line x1="1149.17" y1="1149" x2="1149.17" y2="1158" stroke="#000" stroke-width="3.6"/>
<line x1="1226.62" y1="1149" x2="1226.62" y2="1158" stroke="#000" stroke-width="3.6"/>
<line x1="1304.08" y1="1149" x2="1304.08" y2="1158" stroke="#000" stroke-width="3.6"/>
<line x1="1381.54" y1="1149" x2="1381.54" y2="1158" stroke="#000" stroke-width="3.6"/>
<line x1="1458.99" y1="1149" x2="1458.99" y2="1158" stroke="#000" stroke-width="3.6"/>
<line x1="1536.45" y1="1149" x2="1536.45" y2="1158" stroke="#000" stroke-width="3.6"/>
<line x1="1613.9" y1="1149" x2="1613.9" y2="1158" stroke="#000" stroke-width="3.6"/>
<line x1="26.07" y1="1149" x2="26.07" y2="1153.5" stroke="#000" stroke-width="3.6"/>
<line x1="103.53" y1="1149" x2="103.53" y2="1153.5" stroke="#000" stroke-width="3.6"/>
<line x1="180.98" y1="1149" x2="180.98" y2="1153.5" stroke="#000" stroke-width="3.6"/>
<line x1="258.44" y1="1149" x2="258.44" y2="1153.5" stroke="#000" stroke-width="3.6"/>
<line x1="335.89" y1="1149" x2="335.89" y2="1153.5" stroke="#000" stroke-width="3.6"/>
<line x1="413.35" y1="1149" x2="413.35" y2="1153.5" stroke="#000" stroke-width="3.6"/>
<line x1="490.8" y1="1149" x2="490.8" y2="1153.5" stroke="#000" stroke-width="3.6"/>
<line x1="568.26" y1="1149" x2="568.26" y2="1153.5" stroke="#000" stroke-width="3.6"/>
<line x1="645.71" y1="1149" x2="645.71" y2="1153.5" stroke="#000" stroke-width="3.6"/>
<line x1="723.17" y1="1149" x2="723.17" y2="1153.5" stroke="#000" stroke-width="3.6"/>
<line x1="800.62" y1="1149" x2="800.62" y2="1153.5" stroke="#000" stroke-width="3.6"/>
<line x1="878.08" y1="1149" x2="878.08" y2="1153.5" stroke="#000" stroke-width="3.6"/>
<line x1="955.53" y1="1149" x2="955.53" y2="1153.5" stroke="#000" stroke-width="3.6"/>
<line x1="1032.99" y1="1149" x2="1032.99" y2="1153.5" stroke="#000" stroke-width="3.6"/>
<line x1="1110.44" y1="1149" x2="1110.44" y2="1153.5" stroke="#000" stroke-width="3.6"/>
<line x1="1187.9" y1="1149" x2="1187.9" y2="1153.5" stroke="#000" stroke-width="3.6"/>
<line x1="1265.35" y1="1149" x2="1265.35" y2="1153.5" stroke="#000" stroke-width="3.6"/>
<line x1="1342.81" y1="1149" x2="1342.81" y2="1153.5" stroke="#000" stroke-width="3.6"/>
<line x1="1420.26" y1="1149" x2="1420.26" y2="1153.5" stroke="#000" stroke-width="3.6"/>
<line x1="1497.72" y1="1149" x2="1497.72" y2="1153.5" stroke="#000" stroke-width="3.6"/>
<line x1="1575.17" y1="1149" x2="1575.17" y2="1153.5" stroke="#000" stroke-width="3.6"/>
<text x="64.8" y="1196.7" text-anchor="middle" font-size="32.5" font-weight="bold">200</text>
<text x="142.26" y="1196.7" text-anchor="middle" font-size="32.5" font-weight="bold">190</text>
<text x="219.71" y="1196.7" text-anchor="middle" font-size="32.5" font-weight="bold">180</text>
<text x="297.17" y="1196.7" text-anchor="middle" font-size="32.5" font-weight="bold">170</text>
<text x="374.62" y="1196.7" text-anchor="middle" font-size="32.5" font-weight="bold">160</text>
<text x="452.08" y="1196.7" text-anchor="middle" font-size="32.5" font-weight="bold">150</text>
<text x="529.53" y="1196.7" text-anchor="middle" font-size="32.5" font-weight="bold">140</text>
<text x="606.99" y="1196.7" text-anchor="middle" font-size="32.5" font-weight="bold">130</text>
<text x="684.44" y="1196.7" text-anchor="middle" font-size="32.5" font-weight="bold">120</text>
<text x="761.9" y="1196.7" text-anchor="middle" font-size="32.5" font-weight="bold">110</text>
<text x="839.35" y="1196.7" text-anchor="middle" font-size="32.5" font-weight="bold">100</text>
<text x="916.81" y="1196.7" text-anchor="middle" font-size="32.5" font-weight="bold">90</text>
<text x="994.26" y="1196.7" text-anchor="middle" font-size="32.5" font-weight="bold">80</text>
<text x="1071.72" y="1196.7" text-anchor="middle" font-size="32.5" font-weight="bold">70</text>
<text x="1149.17" y="1196.7" text-anchor="middle" font-size="32.5" font-weight="bold">60</text>
<text x="1226.62" y="1196.7" text-anchor="middle" font-size="32.5" font-weight="bold">50</text>
<text x="1304.08" y="1196.7" text-anchor="middle" font-size="32.5" font-weight="bold">40</text>
<text x="1381.54" y="1196.7" text-anchor="middle" font-size="32.5" font-weight="bold">30</text>
<text x="1458.99" y="1196.7" text-anchor="middle" font-size="32.5" font-weight="bold">20</text>
<text x="1536.45" y="1196.7" text-anchor="middle" font-size="32.5" font-weight="bold">10</text>
<text x="1613.9" y="1196.7" text-anchor="middle" font-size="32.5" font-weight="bold">0</text>
<line x1="42" y1="834.8" x2="325.3" y2="834.8" stroke="#000" stroke-width="4.5"/>
<line x1="74.7" y1="834.8" x2="74.7" y2="843.8" stroke="#000" stroke-width="3.6"/>
<line x1="141.8" y1="834.8" x2="141.8" y2="843.8" stroke="#000" stroke-width="3.6"/>
<line x1="208.9" y1="834.8" x2="208.9" y2="843.8" stroke="#000" stroke-width="3.6"/>
<line x1="276" y1="834.8" x2="276" y2="843.8" stroke="#000" stroke-width="3.6"/>
<line x1="108.25" y1="834.8" x2="108.25" y2="839.3" stroke="#000" stroke-width="3.6"/>
<line x1="175.35" y1="834.8" x2="175.35" y2="839.3" stroke="#000" stroke-width="3.6"/>
<line x1="242.45" y1="834.8" x2="242.45" y2="839.3" stroke="#000" stroke-width="3.6"/>
<line x1="309.55" y1="834.8" x2="309.55" y2="839.3" stroke="#000" stroke-width="3.6"/>
<text x="74.7" y="882.5" text-anchor="middle" font-size="32.5" font-weight="bold">182</text>
<text x="141.8" y="882.5" text-anchor="middle" font-size="32.5" font-weight="bold">180</text>
<text x="208.9" y="882.5" text-anchor="middle" font-size="32.5" font-weight="bold">178</text>
<text x="276" y="882.5" text-anchor="middle" font-size="32.5" font-weight="bold">176</text>
<line x1="732.9" y1="825.7" x2="1138.2" y2="825.7" stroke="#000" stroke-width="4.5"/>
<line x1="795.2" y1="825.7" x2="795.2" y2="834.7" stroke="#000" stroke-width="3.6"/>
<line x1="866.2" y1="825.7" x2="866.2" y2="834.7" stroke="#000" stroke-width="3.6"/>
<line x1="937.2" y1="825.7" x2="937.2" y2="834.7" stroke="#000" stroke-width="3.6"/>
<line x1="1008.2" y1="825.7" x2="1008.2" y2="834.7" stroke="#000" stroke-width="3.6"/>
<line x1="1079.2" y1="825.7" x2="1079.2" y2="834.7" stroke="#000" stroke-width="3.6"/>
<line x1="759.7" y1="825.7" x2="759.7" y2="830.2" stroke="#000" stroke-width="3.6"/>
<line x1="830.7" y1="825.7" x2="830.7" y2="830.2" stroke="#000" stroke-width="3.6"/>
<line x1="901.7" y1="825.7" x2="901.7" y2="830.2" stroke="#000" stroke-width="3.6"/>
<line x1="972.7" y1="825.7" x2="972.7" y2="830.2" stroke="#000" stroke-width="3.6"/>
<line x1="1043.7" y1="825.7" x2="1043.7" y2="830.2" stroke="#000" stroke-width="3.6"/>
<line x1="1114.7" y1="825.7" x2="1114.7" y2="830.2" stroke="#000" stroke-width="3.6"/>
<text x="795.2" y="873.4" text-anchor="middle" font-size="32.5" font-weight="bold">78</text>
<text x="866.2" y="873.4" text-anchor="middle" font-size="32.5" font-weight="bold">76</text>
<text x="937.2" y="873.4" text-anchor="middle" font-size="32.5" font-weight="bold">74</text>
<text x="1008.2" y="873.4" text-anchor="middle" font-size="32.5" font-weight="bold">72</text>
<text x="1079.2" y="873.4" text-anchor="middle" font-size="32.5" font-weight="bold">70</text>
<line x1="1117.2" y1="428" x2="1662" y2="428" stroke="#000" stroke-width="4.5"/>
<line x1="1170.6" y1="428" x2="1170.6" y2="436.5" stroke="#000" stroke-width="3.6"/>
<line x1="1259.4" y1="428" x2="1259.4" y2="436.5" stroke="#000" stroke-width="3.6"/>
<line x1="1348.2" y1="428" x2="1348.2" y2="436.5" stroke="#000" stroke-width="3.6"/>
<line x1="1437" y1="428" x2="1437" y2="436.5" stroke="#000" stroke-width="3.6"/>
<line x1="1525.8" y1="428" x2="1525.8" y2="436.5" stroke="#000" stroke-width="3.6"/>
<line x1="1614.6" y1="428" x2="1614.6" y2="436.5" stroke="#000" stroke-width="3.6"/>
<line x1="1126.2" y1="428" x2="1126.2" y2="432.5" stroke="#000" stroke-width="3.6"/>
<line x1="1215" y1="428" x2="1215" y2="432.5" stroke="#000" stroke-width="3.6"/>
<line x1="1303.8" y1="428" x2="1303.8" y2="432.5" stroke="#000" stroke-width="3.6"/>
<line x1="1392.6" y1="428" x2="1392.6" y2="432.5" stroke="#000" stroke-width="3.6"/>
<line x1="1481.4" y1="428" x2="1481.4" y2="432.5" stroke="#000" stroke-width="3.6"/>
<line x1="1570.2" y1="428" x2="1570.2" y2="432.5" stroke="#000" stroke-width="3.6"/>
<line x1="1659" y1="428" x2="1659" y2="432.5" stroke="#000" stroke-width="3.6"/>
<text x="1170.6" y="475.7" text-anchor="middle" font-size="32.5" font-weight="bold">50</text>
<text x="1259.4" y="475.7" text-anchor="middle" font-size="32.5" font-weight="bold">45</text>
<text x="1348.2" y="475.7" text-anchor="middle" font-size="32.5" font-weight="bold">40</text>
<text x="1437" y="475.7" text-anchor="middle" font-size="32.5" font-weight="bold">35</text>
<text x="1525.8" y="475.7" text-anchor="middle" font-size="32.5" font-weight="bold">30</text>
<text x="1614.6" y="475.7" text-anchor="middle" font-size="32.5" font-weight="bold">25</text>
<path d="M11.5 1051.26 L12 1052.49 L12.5 1051.85 L13 1052.97 L13.5 1051.42 L14 1052.24 L14.5 1051.92 L15 1051.67 L15.5 1051.74 L16 1050.32 L16.5 1051.2 L17 1051.62 L17.5 1053.16 L18 1054.02 L18.5 1054.28 L19 1053.08 L19.5 1053.21 L20 1053.5 L20.5 1053.84 L21 1054.13 L21.5 1054.17 L22 1050.87 L22.5 1053.71 L23 1053.61 L23.5 1053.22 L24 1052.42 L24.5 1052.86 L25 1053.1 L25.5 1053 L26 1052.78 L26.5 1052.82 L27 1053.79 L27.5 1053.66 L28 1053 L28.5 1053.28 L29 1052.34 L29.5 1053.13 L30 1052.77 L30.5 1053.28 L31 1052 L31.5 1051.8 L32 1051.37 L32.5 1052.26 L33 1052.46 L33.5 1053.13 L34 1053.46 L34.5 1053.47 L35 1052.86 L35.5 1052.72 L36 1052.66 L36.5 1052.06 L37 1052.41 L37.5 1052.95 L38 1053.32 L38.5 1053.98 L39 1053.69 L39.5 1054.59 L40 1054.63 L40.5 1054.01 L41 1054.34 L41.5 1053.26 L42 1053.81 L42.5 1053.39 L43 1052.74 L43.5 1052.1 L44 1053.1 L44.5 1052.42 L45 1053.59 L45.5 1053.27 L46 1051.53 L46.5 1052.51 L47 1051.27 L47.5 1050.22 L48 1052.1 L48.5 1051.99 L49 1052.31 L49.5 1051.77 L50 1052.47 L50.5 1052.07 L51 1049.63 L51.5 1051.13 L52 1050.96 L52.5 1052.43 L53 1052.68 L53.5 1053.08 L54 1052.67 L54.5 1052.99 L55 1049.37 L55.5 1052.88 L56 1049.66 L56.5 1053.15 L57 1052.94 L57.5 1054.1 L58 1054.86 L58.5 1054.47 L59 1053.73 L59.5 1053.64 L60 1052.03 L60.5 1053.03 L61 1052.64 L61.5 1052.32 L62 1052.64 L62.5 1053.25 L63 1052.84 L63.5 1053.24 L64 1053.65 L64.5 1051.82 L65 1052.81 L65.5 1049.99 L66 1052.45 L66.5 1052.74 L67 1053.04 L67.5 1053.42 L68 1053.5 L68.5 1053.07 L69 1053.66 L69.5 1053.02 L70 1053.67 L70.5 1054.67 L71 1054.54 L71.5 1054.43 L72 1054.42 L72.5 1053.9 L73 1054.06 L73.5 1053.32 L74 1054.23 L74.5 1053.66 L75 1053.52 L75.5 1054.2 L76 1054.35 L76.5 1053.39 L77 1054.92 L77.5 1054.1 L78 1054.46 L78.5 1053.51 L79 1053.47 L79.5 1053.51 L80 1053.5 L80.5 1053.63 L81 1054.25 L81.5 1053.39 L82 1052.85 L82.5 1052.97 L83 1052.64 L83.5 1053.09 L84 1053.54 L84.5 1053.34 L85 1052.37 L85.5 1052.73 L86 1052.5 L86.5 1052.9 L87 1051.62 L87.5 1052.24 L88 1051.55 L88.5 1053 L89 1052.51 L89.5 1052.78 L90 1052.28 L90.5 1053.48 L91 1053.58 L91.5 1053.9 L92 1052.96 L92.5 1053.86 L93 1052.5 L93.5 1052.28 L94 1052.26 L94.5 1052.56 L95 1051.92 L95.5 1051.62 L96 1052.6 L96.5 1052.7 L97 1052.35 L97.5 1052.43 L98 1052.37 L98.5 1051.95 L99 1051.59 L99.5 1052.33 L100 1051.61 L100.5 1052.67 L101 1053.3 L101.5 1052.81 L102 1053.11 L102.5 1053.43 L103 1052.32 L103.5 1053.04 L104 1052.9 L104.5 1053.03 L105 1051.52 L105.5 1053.27 L106 1053.85 L106.5 1053.8 L107 1053.3 L107.5 1051.87 L108 1053.47 L108.5 1052.09 L109 1051.54 L109.5 1052.05 L110 1053.8 L110.5 1054.69 L111 1054.99 L111.5 1055 L112 1055.29 L112.5 1055.2 L113 1053.66 L113.5 1054.54 L114 1054.68 L114.5 1053.01 L115 1052.63 L115.5 1052.31 L116 1051.78 L116.5 1052.29 L117 1051.81 L117.5 1053.24 L118 1051.83 L118.5 1052.74 L119 1052 L119.5 1052.31 L120 1051.76 L120.5 1051.33 L121 1052.13 L121.5 1052.29 L122 1053.38 L122.5 1053.83 L123 1053.82 L123.5 1053.46 L124 1052.97 L124.5 1052.16 L125 1050.79 L125.5 1050.06 L126 1050.18 L126.5 1050.29 L127 1050.54 L127.5 1050.39 L128 1051.13 L128.5 1051.67 L129 1052.41 L129.5 1052.61 L130 1052.24 L130.5 1052.22 L131 1052.3 L131.5 1052.69 L132 1051.77 L132.5 1052.6 L133 1052.58 L133.5 1051.86 L134 1051.97 L134.5 1052.23 L135 1047.77 L135.5 1051.2 L136 1052.49 L136.5 1051.48 L137 1052.31 L137.5 1052.01 L138 1051.79 L138.5 1051.3 L139 1052.29 L139.5 1052.3 L140 1052.52 L140.5 1051.89 L141 1051.92 L141.5 1051.22 L142 1051.56 L142.5 1052.32 L143 1052.14 L143.5 1053.08 L144 1052.46 L144.5 1052.39 L145 1051.71 L145.5 1052.82 L146 1052.61 L146.5 1052.38 L147 1051.21 L147.5 1050.84 L148 1051.68 L148.5 1050.83 L149 1051.63 L149.5 1051.6 L150 1049.64 L150.5 1051.33 L151 1052.11 L151.5 1050.75 L152 1052.38 L152.5 1051.4 L153 1050.65 L153.5 1051.28 L154 1051.18 L154.5 1051.61 L155 1051.93 L155.5 1051.87 L156 1052.23 L156.5 1052.84 L157 1052.07 L157.5 1052.48 L158 1052.21 L158.5 1052.35 L159 1052.37 L159.5 1052.39 L160 1052.39 L160.5 1052.32 L161 1052.41 L161.5 1052.74 L162 1052.11 L162.5 1052.18 L163 1048.96 L163.5 1051.47 L164 1050.74 L164.5 1050.32 L165 1050.99 L165.5 1050.83 L166 1051.14 L166.5 1051.5 L167 1051.06 L167.5 1051.55 L168 1051.74 L168.5 1051.66 L169 1052.07 L169.5 1052.39 L170 1052.32 L170.5 1052.52 L171 1051.34 L171.5 1052.41 L172 1052.37 L172.5 1052.67 L173 1052.51 L173.5 1051.89 L174 1051.37 L174.5 1052.23 L175 1052.26 L175.5 1052.81 L176 1053.22 L176.5 1052.17 L177 1053.57 L177.5 1054.24 L178 1053.7 L178.5 1053.98 L179 1053.26 L179.5 1053.26 L180 1052.83 L180.5 1053.16 L181 1052.84 L181.5 1053.04 L182 1052.68 L182.5 1052.77 L183 1052.96 L183.5 1052.31 L184 1052.4 L184.5 1052.7 L185 1052.08 L185.5 1051.86 L186 1051.74 L186.5 1051.82 L187 1052.01 L187.5 1052.16 L188 1052.19 L188.5 1051.75 L189 1051.19 L189.5 1051.51 L190 1050.68 L190.5 1049.9 L191 1051.63 L191.5 1051.94 L192 1051.04 L192.5 1051.36 L193 1052 L193.5 1052.28 L194 1052.1 L194.5 1051.51 L195 1050.77 L195.5 1050.17 L196 1051.3 L196.5 1052.77 L197 1052.64 L197.5 1053.66 L198 1053.13 L198.5 1053.24 L199 1053.71 L199.5 1053.64 L200 1053.52 L200.5 1052.58 L201 1053.01 L201.5 1051.1 L202 1053.43 L202.5 1053.77 L203 1053.34 L203.5 1053.87 L204 1053.32 L204.5 1053.16 L205 1053.3 L205.5 1052.59 L206 1051.49 L206.5 1051.47 L207 1051.25 L207.5 1050 L208 1048.75 L208.5 1050.14 L209 1050.34 L209.5 1050.33 L210 1049.88 L210.5 1050.52 L211 1050.23 L211.5 1050.42 L212 1050.27 L212.5 1049.88 L213 1049.94 L213.5 1049.86 L214 1050 L214.5 1048.61 L215 1050.49 L215.5 1050.84 L216 1051.09 L216.5 1050.24 L217 1050.92 L217.5 1051.38 L218 1051.45 L218.5 1051.28 L219 1052.11 L219.5 1052.09 L220 1052.57 L220.5 1052.58 L221 1052.14 L221.5 1051.51 L222 1052.75 L222.5 1051.87 L223 1053.21 L223.5 1049.81 L224 1051.38 L224.5 1052.62 L225 1052.6 L225.5 1052.51 L226 1052.39 L226.5 1051.13 L227 1053.49 L227.5 1052.9 L228 1052.82 L228.5 1052.71 L229 1052.61 L229.5 1051.36 L230 1051.13 L230.5 1050.98 L231 1050.97 L231.5 1052.24 L232 1051.85 L232.5 1052.6 L233 1052.44 L233.5 1052.3 L234 1052.56 L234.5 1052.46 L235 1052.95 L235.5 1053.08 L236 1052.62 L236.5 1052.85 L237 1052.38 L237.5 1053.1 L238 1053.33 L238.5 1052.11 L239 1052.24 L239.5 1050.54 L240 1052.19 L240.5 1052.58 L241 1052.4 L241.5 1052.83 L242 1053.4 L242.5 1053.92 L243 1054.82 L243.5 1055.07 L244 1053.87 L244.5 1053.61 L245 1053.64 L245.5 1053.42 L246 1053.38 L246.5 1053.31 L247 1053.73 L247.5 1052.68 L248 1053.23 L248.5 1053.57 L249 1052.48 L249.5 1052.84 L250 1050.83 L250.5 1052.29 L251 1052.6 L251.5 1053.37 L252 1052.13 L252.5 1052.7 L253 1048.42 L253.5 1051.79 L254 1052.28 L254.5 1052.27 L255 1051.5 L255.5 1050.21 L256 1050.94 L256.5 1051.35 L257 1051.76 L257.5 1051.3 L258 1051.52 L258.5 1051.34 L259 1052.05 L259.5 1052.96 L260 1052.39 L260.5 1052.93 L261 1053.18 L261.5 1053.5 L262 1053.83 L262.5 1054.1 L263 1053.15 L263.5 1053.73 L264 1053.63 L264.5 1052.71 L265 1053.16 L265.5 1053.08 L266 1053.68 L266.5 1053.09 L267 1053.91 L267.5 1052.84 L268 1053.04 L268.5 1051.7 L269 1051.51 L269.5 1051.77 L270 1051.29 L270.5 1051.46 L271 1052.74 L271.5 1053.38 L272 1052.66 L272.5 1053.94 L273 1053.62 L273.5 1052.77 L274 1052.76 L274.5 1053.04 L275 1051.95 L275.5 1052.4 L276 1052.71 L276.5 1052.8 L277 1052.32 L277.5 1052.15 L278 1051.82 L278.5 1052.31 L279 1051.87 L279.5 1051.83 L280 1051.57 L280.5 1052.83 L281 1052.76 L281.5 1052.39 L282 1053.21 L282.5 1051.87 L283 1052.59 L283.5 1053.29 L284 1052.16 L284.5 1053 L285 1053.25 L285.5 1051.29 L286 1053.84 L286.5 1053.35 L287 1054.45 L287.5 1053.86 L288 1053.67 L288.5 1053.5 L289 1052.65 L289.5 1052.35 L290 1051.27 L290.5 1051.97 L291 1051.55 L291.5 1052.58 L292 1053.68 L292.5 1053.79 L293 1053.98 L293.5 1051.93 L294 1053.21 L294.5 1051.46 L295 1052.26 L295.5 1050.94 L296 1051.73 L296.5 1051.06 L297 1052.54 L297.5 1051.77 L298 1051.54 L298.5 1051.36 L299 1050.94 L299.5 1050.07 L300 1050.8 L300.5 1049.82 L301 1051.65 L301.5 1052 L302 1051.07 L302.5 1052.52 L303 1052.43 L303.5 1053.57 L304 1053.7 L304.5 1052.42 L305 1053.19 L305.5 1054.03 L306 1053.54 L306.5 1053.41 L307 1053.27 L307.5 1052.51 L308 1052.35 L308.5 1053.32 L309 1053.59 L309.5 1052.97 L310 1053.9 L310.5 1053.8 L311 1052.05 L311.5 1053.55 L312 1053.39 L312.5 1050.73 L313 1053.24 L313.5 1052.16 L314 1053.36 L314.5 1053.59 L315 1054.09 L315.5 1053.74 L316 1054.08 L316.5 1054.37 L317 1054.07 L317.5 1053.84 L318 1053.59 L318.5 1054.09 L319 1053.77 L319.5 1053.36 L320 1053.65 L320.5 1052.73 L321 1053.04 L321.5 1051.45 L322 1051.82 L322.5 1053.21 L323 1052.49 L323.5 1052.91 L324 1052.31 L324.5 1053.05 L325 1053.05 L325.5 1052.98 L326 1053.07 L326.5 1053.31 L327 1053.02 L327.5 1052.53 L328 1052.93 L328.5 1052.98 L329 1053.6 L329.5 1053.43 L330 1053.47 L330.5 1053.59 L331 1053.6 L331.5 1054.12 L332 1052.27 L332.5 1053.6 L333 1054.44 L333.5 1053.88 L334 1053.73 L334.5 1053.17 L335 1051.26 L335.5 1053.85 L336 1053.02 L336.5 1054.08 L337 1054.36 L337.5 1053.28 L338 1051.9 L338.5 1051.15 L339 1050.5 L339.5 1050.78 L340 1051.47 L340.5 1051.86 L341 1052.03 L341.5 1052.79 L342 1053.03 L342.5 1051.35 L343 1051.87 L343.5 1051.06 L344 1052.11 L344.5 1051.31 L345 1052.45 L345.5 1052.12 L346 1053.36 L346.5 1052.39 L347 1052.84 L347.5 1052.32 L348 1052.28 L348.5 1052.74 L349 1053.13 L349.5 1049.96 L350 1052.65 L350.5 1053.12 L351 1051.76 L351.5 1052.03 L352 1052.23 L352.5 1053.5 L353 1053.4 L353.5 1053.57 L354 1053.13 L354.5 1053.64 L355 1053.71 L355.5 1053.13 L356 1053.31 L356.5 1053.59 L357 1053.63 L357.5 1053.35 L358 1054.26 L358.5 1054.25 L359 1056 L359.5 1056.29 L360 1055.94 L360.5 1053.56 L361 1053.86 L361.5 1052.54 L362 1052.49 L362.5 1051.8 L363 1052.67 L363.5 1052.28 L364 1052.14 L364.5 1051.8 L365 1051.1 L365.5 1050.49 L366 1050.55 L366.5 1051.37 L367 1052.32 L367.5 1049.5 L368 1052.48 L368.5 1050.97 L369 1051.79 L369.5 1051.99 L370 1051.97 L370.5 1052.09 L371 1051.43 L371.5 1050.5 L372 1049.61 L372.5 1049.83 L373 1050.25 L373.5 1049.67 L374 1051.11 L374.5 1051.72 L375 1050.66 L375.5 1052.2 L376 1051.51 L376.5 1052.76 L377 1052.72 L377.5 1052.7 L378 1051.7 L378.5 1050.86 L379 1051.03 L379.5 1052.54 L380 1052.93 L380.5 1053.69 L381 1051.99 L381.5 1052.93 L382 1052.22 L382.5 1052.38 L383 1050.99 L383.5 1051.28 L384 1050.3 L384.5 1050.57 L385 1050.7 L385.5 1051.41 L386 1051.19 L386.5 1051.35 L387 1052.41 L387.5 1052.02 L388 1052.45 L388.5 1052.41 L389 1051.95 L389.5 1052.21 L390 1052.84 L390.5 1052.65 L391 1052.02 L391.5 1052.42 L392 1052.29 L392.5 1051.37 L393 1051.76 L393.5 1052.17 L394 1052.09 L394.5 1052.55 L395 1052.6 L395.5 1051.99 L396 1050.68 L396.5 1051.59 L397 1051.01 L397.5 1051.65 L398 1051.05 L398.5 1050.88 L399 1052.31 L399.5 1050.87 L400 1052.34 L400.5 1051.48 L401 1052.46 L401.5 1051.38 L402 1052.53 L402.5 1052.76 L403 1051.68 L403.5 1052.42 L404 1052.39 L404.5 1052.51 L405 1053.09 L405.5 1053.32 L406 1053.38 L406.5 1052.72 L407 1051.27 L407.5 1052.2 L408 1051.81 L408.5 1052.06 L409 1051.25 L409.5 1051.37 L410 1051.19 L410.5 1051.09 L411 1048.24 L411.5 1051.95 L412 1051.64 L412.5 1052.25 L413 1052.51 L413.5 1052.75 L414 1053.2 L414.5 1053.03 L415 1053.16 L415.5 1052.45 L416 1052.59 L416.5 1052.69 L417 1052.37 L417.5 1052.46 L418 1052.63 L418.5 1052.48 L419 1051.74 L419.5 1051.36 L420 1051.19 L420.5 1052.08 L421 1051.81 L421.5 1052.93 L422 1053.8 L422.5 1054.13 L423 1054.77 L423.5 1054.24 L424 1052.68 L424.5 1052.71 L425 1052.91 L425.5 1051.81 L426 1053.08 L426.5 1053.02 L427 1053.04 L427.5 1052.73 L428 1052.38 L428.5 1052.23 L429 1051.78 L429.5 1051.31 L430 1049.87 L430.5 1050.92 L431 1050.66 L431.5 1050.24 L432 1050.6 L432.5 1049.83 L433 1049.82 L433.5 1050.7 L434 1051.37 L434.5 1051.37 L435 1051.17 L435.5 1050.99 L436 1050.46 L436.5 1051.78 L437 1051.36 L437.5 1050.65 L438 1052.18 L438.5 1051.6 L439 1052.61 L439.5 1052.66 L440 1051.53 L440.5 1052.24 L441 1051.84 L441.5 1051.97 L442 1051.48 L442.5 1051.15 L443 1049.99 L443.5 1051 L444 1050.53 L444.5 1051.1 L445 1050.13 L445.5 1049.44 L446 1050.84 L446.5 1051.01 L447 1050.56 L447.5 1051.54 L448 1051.14 L448.5 1051.61 L449 1051.9 L449.5 1050.79 L450 1052.15 L450.5 1050.67 L451 1047.73 L451.5 1051.41 L452 1051.62 L452.5 1050.64 L453 1050.78 L453.5 1050.94 L454 1051.92 L454.5 1051.98 L455 1051.19 L455.5 1052.72 L456 1051.72 L456.5 1051.8 L457 1052.38 L457.5 1051.77 L458 1051.02 L458.5 1051.43 L459 1050.19 L459.5 1050.24 L460 1051.89 L460.5 1052.21 L461 1053.08 L461.5 1053.55 L462 1053.63 L462.5 1053.67 L463 1053.86 L463.5 1053.13 L464 1053.16 L464.5 1053.21 L465 1052.09 L465.5 1052.74 L466 1052.71 L466.5 1052.2 L467 1051.39 L467.5 1050.97 L468 1051.35 L468.5 1051.16 L469 1048.69 L469.5 1051.94 L470 1051.04 L470.5 1051.94 L471 1052.7 L471.5 1052.15 L472 1052.7 L472.5 1051.89 L473 1052.66 L473.5 1052.79 L474 1051.38 L474.5 1052.07 L475 1052.82 L475.5 1052.46 L476 1053.02 L476.5 1054.29 L477 1053.38 L477.5 1052.48 L478 1053.31 L478.5 1051.56 L479 1052.44 L479.5 1051.24 L480 1050.54 L480.5 1049.78 L481 1051.7 L481.5 1051.23 L482 1052.53 L482.5 1052.29 L483 1051.59 L483.5 1052.92 L484 1052.94 L484.5 1053.45 L485 1053.53 L485.5 1053.62 L486 1053.13 L486.5 1051.92 L487 1051.94 L487.5 1052.09 L488 1052.55 L488.5 1052.33 L489 1051.28 L489.5 1051.54 L490 1051.75 L490.5 1051.23 L491 1049.54 L491.5 1050.86 L492 1050.72 L492.5 1052.07 L493 1052.51 L493.5 1052.74 L494 1052.09 L494.5 1052.7 L495 1051.69 L495.5 1052.06 L496 1051.37 L496.5 1051.53 L497 1051.42 L497.5 1050.99 L498 1052.23 L498.5 1053.5 L499 1053.45 L499.5 1053.67 L500 1053.73 L500.5 1053.88 L501 1053.37 L501.5 1053.78 L502 1052.82 L502.5 1053.04 L503 1051.65 L503.5 1051.48 L504 1052.52 L504.5 1052.88 L505 1051.98 L505.5 1053.33 L506 1052.87 L506.5 1053.26 L507 1053.33 L507.5 1053.78 L508 1053.44 L508.5 1053.56 L509 1052.3 L509.5 1053.12 L510 1053.01 L510.5 1052.25 L511 1053.91 L511.5 1053.83 L512 1054.43 L512.5 1053.89 L513 1053.36 L513.5 1053.74 L514 1054.85 L514.5 1053.74 L515 1053.59 L515.5 1052.84 L516 1053.42 L516.5 1053.12 L517 1052.28 L517.5 1051.55 L518 1052.65 L518.5 1052.37 L519 1052.21 L519.5 1052.81 L520 1053.16 L520.5 1053.7 L521 1054.02 L521.5 1052.06 L522 1053.17 L522.5 1052.39 L523 1051.41 L523.5 1051.53 L524 1052.35 L524.5 1053.12 L525 1052.82 L525.5 1053.4 L526 1052.76 L526.5 1052.67 L527 1052.88 L527.5 1053.88 L528 1054.15 L528.5 1053.38 L529 1052.31 L529.5 1051.78 L530 1052.46 L530.5 1052.31 L531 1052.45 L531.5 1052.57 L532 1052.26 L532.5 1051.82 L533 1051.36 L533.5 1051.28 L534 1050.95 L534.5 1050.86 L535 1052.96 L535.5 1053.42 L536 1053.18 L536.5 1052.89 L537 1053.02 L537.5 1053.22 L538 1053.01 L538.5 1053.07 L539 1053.63 L539.5 1053.8 L540 1054.58 L540.5 1050.86 L541 1054.29 L541.5 1053.83 L542 1050.2 L542.5 1052.93 L543 1053.43 L543.5 1053.61 L544 1054.1 L544.5 1053.55 L545 1053.28 L545.5 1053.21 L546 1053.13 L546.5 1052.21 L547 1052.64 L547.5 1049.92 L548 1052.69 L548.5 1053.24 L549 1053.21 L549.5 1053.21 L550 1052.99 L550.5 1053.05 L551 1052.2 L551.5 1052.93 L552 1052.66 L552.5 1052.04 L553 1052.46 L553.5 1053.22 L554 1052.91 L554.5 1053.33 L555 1052.13 L555.5 1052.36 L556 1053.62 L556.5 1053.67 L557 1053.59 L557.5 1053.72 L558 1054.66 L558.5 1053.67 L559 1052.59 L559.5 1052.58 L560 1051.79 L560.5 1050.59 L561 1050.81 L561.5 1049.47 L562 1050.37 L562.5 1051.05 L563 1050.78 L563.5 1051.54 L564 1051.79 L564.5 1051.07 L565 1051.34 L565.5 1050.84 L566 1051.13 L566.5 1051.54 L567 1051.91 L567.5 1051.84 L568 1052.48 L568.5 1052.37 L569 1051.96 L569.5 1051.62 L570 1050.33 L570.5 1051.65 L571 1052.19 L571.5 1051.95 L572 1052.11 L572.5 1052.08 L573 1052.2 L573.5 1052.11 L574 1051.97 L574.5 1052.6 L575 1051.83 L575.5 1053.46 L576 1052.58 L576.5 1052.96 L577 1052.83 L577.5 1053.73 L578 1053.65 L578.5 1054.16 L579 1054.09 L579.5 1054.14 L580 1053.64 L580.5 1054.18 L581 1053.81 L581.5 1053.41 L582 1052.7 L582.5 1052.82 L583 1052.88 L583.5 1052.74 L584 1051.54 L584.5 1052.11 L585 1051.62 L585.5 1052 L586 1051.69 L586.5 1052.95 L587 1052.97 L587.5 1053.01 L588 1052.55 L588.5 1052.47 L589 1052.26 L589.5 1052.48 L590 1053.18 L590.5 1052.91 L591 1053.47 L591.5 1051.2 L592 1053.76 L592.5 1053.2 L593 1053.42 L593.5 1052.76 L594 1053.11 L594.5 1054.41 L595 1053.92 L595.5 1053.85 L596 1053.62 L596.5 1053.3 L597 1052.01 L597.5 1052.55 L598 1052.08 L598.5 1052.43 L599 1051.97 L599.5 1052.56 L600 1052.57 L600.5 1051.61 L601 1051.46 L601.5 1051.62 L602 1051.82 L602.5 1051.67 L603 1051.47 L603.5 1049.19 L604 1052.37 L604.5 1053.31 L605 1052.66 L605.5 1053.65 L606 1052.7 L606.5 1052.44 L607 1053.24 L607.5 1053.03 L608 1053.19 L608.5 1052.8 L609 1052.18 L609.5 1052.88 L610 1051.53 L610.5 1052.84 L611 1052.94 L611.5 1050.69 L612 1050.96 L612.5 1051.65 L613 1051.03 L613.5 1050.27 L614 1051.08 L614.5 1051.33 L615 1052.27 L615.5 1052.11 L616 1051.8 L616.5 1051.29 L617 1051.8 L617.5 1050.95 L618 1049.56 L618.5 1050.3 L619 1050.59 L619.5 1048.96 L620 1050.07 L620.5 1050.79 L621 1050.03 L621.5 1049.12 L622 1050.11 L622.5 1050.95 L623 1049.79 L623.5 1050.87 L624 1050.88 L624.5 1049.31 L625 1051.48 L625.5 1052.5 L626 1052.17 L626.5 1052.97 L627 1053.21 L627.5 1052.57 L628 1053.04 L628.5 1051.61 L629 1051.57 L629.5 1052.57 L630 1052.11 L630.5 1052.55 L631 1050.47 L631.5 1052.44 L632 1052.45 L632.5 1051.08 L633 1053.01 L633.5 1052.48 L634 1051.99 L634.5 1051.92 L635 1050.08 L635.5 1051.57 L636 1052.28 L636.5 1051.46 L637 1052.02 L637.5 1052.76 L638 1051.45 L638.5 1051.81 L639 1052.56 L639.5 1052.94 L640 1053.05 L640.5 1052.63 L641 1052.61 L641.5 1052.44 L642 1052.87 L642.5 1052.41 L643 1052.55 L643.5 1052.61 L644 1052.56 L644.5 1052.99 L645 1052.59 L645.5 1051.91 L646 1052.62 L646.5 1053.13 L647 1053.96 L647.5 1052.99 L648 1053.52 L648.5 1052.38 L649 1052.48 L649.5 1052.34 L650 1053.36 L650.5 1052.93 L651 1052.65 L651.5 1051.28 L652 1052.58 L652.5 1052.77 L653 1052.29 L653.5 1052.81 L654 1052.4 L654.5 1051.24 L655 1051.06 L655.5 1051.09 L656 1052.02 L656.5 1051.2 L657 1051.97 L657.5 1052.01 L658 1051.34 L658.5 1052.95 L659 1052.1 L659.5 1053.38 L660 1053.18 L660.5 1054.07 L661 1054.1 L661.5 1053.32 L662 1053.33 L662.5 1053.69 L663 1052.94 L663.5 1054.01 L664 1052.94 L664.5 1053.86 L665 1053.5 L665.5 1052.77 L666 1052.69 L666.5 1048.82 L667 1052.35 L667.5 1052.36 L668 1052.43 L668.5 1052.23 L669 1051.37 L669.5 1051.62 L670 1051.48 L670.5 1051.42 L671 1052.34 L671.5 1051.74 L672 1052.62 L672.5 1052.26 L673 1049.43 L673.5 1053.03 L674 1052.61 L674.5 1050.28 L675 1051.5 L675.5 1051.19 L676 1051.74 L676.5 1052.46 L677 1052.52 L677.5 1052.25 L678 1052.21 L678.5 1050.97 L679 1050.48 L679.5 1051.48 L680 1052.28 L680.5 1052.34 L681 1053.02 L681.5 1052.94 L682 1052.61 L682.5 1053.66 L683 1052.58 L683.5 1052.04 L684 1051.18 L684.5 1051.76 L685 1050.67 L685.5 1051 L686 1050.15 L686.5 1051.14 L687 1050.86 L687.5 1050.75 L688 1052.21 L688.5 1052.16 L689 1051.9 L689.5 1052.41 L690 1051.4 L690.5 1051.75 L691 1050.09 L691.5 1050.06 L692 1050.74 L692.5 1051.81 L693 1051.98 L693.5 1053.09 L694 1052.79 L694.5 1052.24 L695 1052.63 L695.5 1052.19 L696 1053.31 L696.5 1053.65 L697 1054.01 L697.5 1053.52 L698 1054.05 L698.5 1054.36 L699 1054.19 L699.5 1052.91 L700 1051.61 L700.5 1051.39 L701 1051.81 L701.5 1051.96 L702 1051.82 L702.5 1050.65 L703 1051.36 L703.5 1050.54 L704 1050.51 L704.5 1050.99 L705 1050.84 L705.5 1050.75 L706 1050.5 L706.5 1050.55 L707 1050.46 L707.5 1051.15 L708 1051.33 L708.5 1052.05 L709 1052.21 L709.5 1051.77 L710 1051.08 L710.5 1052.21 L711 1052.24 L711.5 1051.93 L712 1051.66 L712.5 1051.52 L713 1052.6 L713.5 1051.81 L714 1053.03 L714.5 1052.92 L715 1053.82 L715.5 1053.67 L716 1052.94 L716.5 1052.72 L717 1053.25 L717.5 1052.84 L718 1053.56 L718.5 1054.03 L719 1054.04 L719.5 1053.58 L720 1053.1 L720.5 1052.58 L721 1053.47 L721.5 1053.65 L722 1052.08 L722.5 1053.15 L723 1053.16 L723.5 1052.8 L724 1052.76 L724.5 1053.74 L725 1052.28 L725.5 1053.79 L726 1053.86 L726.5 1053.87 L727 1053.18 L727.5 1052.57 L728 1053.09 L728.5 1053.14 L729 1052.87 L729.5 1053.44 L730 1054.1 L730.5 1053.8 L731 1053.61 L731.5 1052.41 L732 1053.95 L732.5 1054.23 L733 1053.83 L733.5 1055.11 L734 1054.31 L734.5 1053.96 L735 1053.73 L735.5 1049.62 L736 1052.85 L736.5 1052.14 L737 1051.81 L737.5 1051.82 L738 1052.59 L738.5 1052.85 L739 1052.4 L739.5 1053.07 L740 1052.93 L740.5 1053.45 L741 1052.2 L741.5 1053.27 L742 1053.44 L742.5 1053.22 L743 1053.1 L743.5 1052.97 L744 1052.5 L744.5 1053.28 L745 1052.48 L745.5 1052.41 L746 1052.16 L746.5 1051.88 L747 1051.74 L747.5 1053.14 L748 1053.04 L748.5 1054.52 L749 1052.85 L749.5 1053.85 L750 1053.14 L750.5 1052.43 L751 1053.37 L751.5 1053.78 L752 1054.63 L752.5 1054.8 L753 1054.27 L753.5 1054.86 L754 1054.01 L754.5 1054.49 L755 1054.81 L755.5 1054.29 L756 1054.78 L756.5 1054.74 L757 1054.18 L757.5 1053.77 L758 1053.36 L758.5 1051.93 L759 1052.25 L759.5 1052.13 L760 1051.83 L760.5 1052.47 L761 1052.71 L761.5 1051.83 L762 1053.13 L762.5 1052.83 L763 1052.87 L763.5 1053.87 L764 1050.64 L764.5 1054.11 L765 1053.75 L765.5 1053.35 L766 1053.99 L766.5 1053.45 L767 1053.5 L767.5 1054.18 L768 1052.34 L768.5 1054.74 L769 1054.02 L769.5 1053.26 L770 1052.74 L770.5 1052.4 L771 1053.03 L771.5 1052.8 L772 1052.28 L772.5 1052.12 L773 1050.56 L773.5 1049.98 L774 1051.19 L774.5 1050.77 L775 1051.41 L775.5 1051.16 L776 1050.97 L776.5 1050.27 L777 1049.59 L777.5 1050.39 L778 1049.92 L778.5 1050.17 L779 1050.41 L779.5 1051.04 L780 1050.83 L780.5 1051.92 L781 1052.15 L781.5 1053.39 L782 1053.63 L782.5 1053.89 L783 1052.79 L783.5 1052.53 L784 1052.52 L784.5 1052.44 L785 1052.81 L785.5 1053.38 L786 1052.97 L786.5 1053.26 L787 1052.57 L787.5 1052.29 L788 1051.93 L788.5 1052.12 L789 1052.94 L789.5 1053.35 L790 1052.53 L790.5 1053.09 L791 1052.32 L791.5 1051.95 L792 1051.54 L792.5 1051.68 L793 1051.61 L793.5 1050.88 L794 1051.47 L794.5 1050.64 L795 1050.87 L795.5 1051.77 L796 1051.73 L796.5 1051.44 L797 1052.58 L797.5 1053.31 L798 1053.96 L798.5 1054.02 L799 1054.37 L799.5 1052.94 L800 1053.11 L800.5 1052.55 L801 1053.05 L801.5 1053.76 L802 1053.24 L802.5 1053.82 L803 1054.29 L803.5 1055.03 L804 1054.81 L804.5 1053.74 L805 1052.61 L805.5 1052.45 L806 1053.35 L806.5 1052.04 L807 1052.01 L807.5 1051.9 L808 1048 L808.5 1050.91 L809 1049.87 L809.5 1050.36 L810 1051.33 L810.5 1051.48 L811 1051.09 L811.5 1050.95 L812 1049.57 L812.5 1049.01 L813 1052.48 L813.5 1052.58 L814 1052.47 L814.5 1052.14 L815 1052.91 L815.5 1053.3 L816 1053.64 L816.5 1054.29 L817 1051.36 L817.5 1054.12 L818 1054.08 L818.5 1053.03 L819 1053.53 L819.5 1053.65 L820 1053 L820.5 1052.45 L821 1053.12 L821.5 1052.61 L822 1051.12 L822.5 1051.69 L823 1053.49 L823.5 1052.81 L824 1053.43 L824.5 1052.39 L825 1052.13 L825.5 1052.44 L826 1052.68 L826.5 1052.01 L827 1052.02 L827.5 1052.95 L828 1052.83 L828.5 1053.02 L829 1052.65 L829.5 1052.05 L830 1052.02 L830.5 1051.36 L831 1050.79 L831.5 1051.17 L832 1051.79 L832.5 1051.53 L833 1052.78 L833.5 1052.95 L834 1052.24 L834.5 1052.63 L835 1053.11 L835.5 1053.15 L836 1052.74 L836.5 1052.95 L837 1052.37 L837.5 1053.04 L838 1052.88 L838.5 1052.95 L839 1053.3 L839.5 1053.21 L840 1053.87 L840.5 1053.91 L841 1051.54 L841.5 1052.55 L842 1053.2 L842.5 1052.57 L843 1052.11 L843.5 1049.7 L844 1050.76 L844.5 1051.65 L845 1051.1 L845.5 1050.53 L846 1052.09 L846.5 1051.17 L847 1052.9 L847.5 1052.96 L848 1052.76 L848.5 1051.5 L849 1052.44 L849.5 1051.75 L850 1051.34 L850.5 1050.56 L851 1052.19 L851.5 1052.37 L852 1051.65 L852.5 1053.59 L853 1054.07 L853.5 1053.24 L854 1052.6 L854.5 1052.31 L855 1052.64 L855.5 1050.73 L856 1052.68 L856.5 1053.05 L857 1053.32 L857.5 1052.79 L858 1053.92 L858.5 1053.14 L859 1053.7 L859.5 1052.12 L860 1052.89 L860.5 1053.12 L861 1053.24 L861.5 1053.07 L862 1053.5 L862.5 1053.32 L863 1051.7 L863.5 1051.95 L864 1052.89 L864.5 1052.57 L865 1053.17 L865.5 1052.54 L866 1053.98 L866.5 1053.75 L867 1053.55 L867.5 1052.36 L868 1052.25 L868.5 1050.78 L869 1051.24 L869.5 1051.05 L870 1050.68 L870.5 1049.74 L871 1050.1 L871.5 1050.4 L872 1051.1 L872.5 1051.05 L873 1051.36 L873.5 1050.42 L874 1052.46 L874.5 1052.47 L875 1052.22 L875.5 1052.14 L876 1052.43 L876.5 1052.71 L877 1051.61 L877.5 1052.79 L878 1051.93 L878.5 1053.98 L879 1053.33 L879.5 1053.39 L880 1052.2 L880.5 1051.82 L881 1052.03 L881.5 1051.73 L882 1051.23 L882.5 1051.03 L883 1051.82 L883.5 1051.81 L884 1052.64 L884.5 1052.81 L885 1053.36 L885.5 1051.23 L886 1052.84 L886.5 1052.93 L887 1052.49 L887.5 1052.16 L888 1052.44 L888.5 1051.78 L889 1052.04 L889.5 1049.1 L890 1053.05 L890.5 1052.52 L891 1052.13 L891.5 1052.23 L892 1052.74 L892.5 1050 L893 1052.73 L893.5 1052.34 L894 1050.75 L894.5 1051.46 L895 1051.39 L895.5 1052.24 L896 1053.5 L896.5 1053.37 L897 1053.62 L897.5 1051.53 L898 1053.18 L898.5 1052.97 L899 1052.39 L899.5 1053.51 L900 1053.78 L900.5 1053.88 L901 1053.36 L901.5 1053.44 L902 1053.92 L902.5 1051.93 L903 1053.11 L903.5 1052.01 L904 1052.77 L904.5 1051.9 L905 1048.66 L905.5 1052.82 L906 1052.52 L906.5 1052.24 L907 1052.53 L907.5 1052.53 L908 1051.89 L908.5 1052.44 L909 1052.53 L909.5 1052.05 L910 1052.54 L910.5 1052.93 L911 1052.57 L911.5 1051.97 L912 1052.56 L912.5 1050.5 L913 1050.77 L913.5 1052.04 L914 1052.17 L914.5 1052.11 L915 1051.81 L915.5 1052.15 L916 1052.17 L916.5 1051.91 L917 1052.17 L917.5 1051.61 L918 1053 L918.5 1053.79 L919 1053.41 L919.5 1054.26 L920 1054.68 L920.5 1053.4 L921 1053.85 L921.5 1053.55 L922 1052.91 L922.5 1052.78 L923 1052.77 L923.5 1052.69 L924 1052.18 L924.5 1053.17 L925 1052.13 L925.5 1053.52 L926 1054.19 L926.5 1054.01 L927 1053.79 L927.5 1052.89 L928 1049.39 L928.5 1052.69 L929 1052.92 L929.5 1052.66 L930 1051.81 L930.5 1053.28 L931 1052.44 L931.5 1052.96 L932 1052.96 L932.5 1052.46 L933 1052.31 L933.5 1051.67 L934 1051.53 L934.5 1051.72 L935 1051.11 L935.5 1051.54 L936 1051.05 L936.5 1050.93 L937 1050.83 L937.5 1051.66 L938 1051.5 L938.5 1052.08 L939 1052.05 L939.5 1052.18 L940 1051.84 L940.5 1050.97 L941 1051.69 L941.5 1051.95 L942 1051.68 L942.5 1051.69 L943 1050.91 L943.5 1051.2 L944 1051.05 L944.5 1050.36 L945 1050.3 L945.5 1051.07 L946 1049.49 L946.5 1052.49 L947 1051.76 L947.5 1053.68 L948 1053.13 L948.5 1053.74 L949 1053.07 L949.5 1054.14 L950 1053.85 L950.5 1054.03 L951 1053.77 L951.5 1054.44 L952 1052.62 L952.5 1054.42 L953 1053.32 L953.5 1053.25 L954 1053.24 L954.5 1053.48 L955 1052.61 L955.5 1053.18 L956 1053.54 L956.5 1051.88 L957 1052.95 L957.5 1052.01 L958 1053.08 L958.5 1053.51 L959 1053.02 L959.5 1053.03 L960 1052.98 L960.5 1053.82 L961 1053.39 L961.5 1053.27 L962 1053.72 L962.5 1053.34 L963 1053.65 L963.5 1052.86 L964 1052.47 L964.5 1052.71 L965 1053.37 L965.5 1053.04 L966 1053 L966.5 1052.14 L967 1052.77 L967.5 1051.93 L968 1052.9 L968.5 1053.06 L969 1053.36 L969.5 1053.19 L970 1053.98 L970.5 1053.14 L971 1054.08 L971.5 1053.1 L972 1053.08 L972.5 1052.2 L973 1052.69 L973.5 1052.73 L974 1052.47 L974.5 1051.78 L975 1052.15 L975.5 1052.47 L976 1052.93 L976.5 1053.32 L977 1052.8 L977.5 1053.59 L978 1052.25 L978.5 1052.38 L979 1052.34 L979.5 1051.48 L980 1051.66 L980.5 1050.9 L981 1051 L981.5 1049.94 L982 1050.42 L982.5 1050.89 L983 1051.43 L983.5 1050.84 L984 1050.95 L984.5 1051.66 L985 1051.22 L985.5 1051.59 L986 1051.49 L986.5 1050.61 L987 1051.45 L987.5 1050.22 L988 1050.85 L988.5 1051.81 L989 1050.56 L989.5 1052.98 L990 1052.57 L990.5 1053.45 L991 1053.42 L991.5 1052.57 L992 1053.25 L992.5 1052.72 L993 1052.82 L993.5 1053.58 L994 1053.05 L994.5 1053.9 L995 1053.49 L995.5 1053.95 L996 1053.36 L996.5 1053.67 L997 1053.95 L997.5 1052.67 L998 1053.54 L998.5 1053.18 L999 1051.05 L999.5 1053.19 L1000 1053.87 L1000.5 1053.29 L1001 1053.84 L1001.5 1053.25 L1002 1054.78 L1002.5 1054.88 L1003 1054.3 L1003.5 1052.41 L1004 1054.57 L1004.5 1053.66 L1005 1052.73 L1005.5 1052.47 L1006 1049.58 L1006.5 1051.8 L1007 1052.29 L1007.5 1051.95 L1008 1052.73 L1008.5 1052.71 L1009 1054.8 L1009.5 1055.16 L1010 1055.59 L1010.5 1055.44 L1011 1055.06 L1011.5 1054.98 L1012 1054.55 L1012.5 1054.51 L1013 1053.94 L1013.5 1054 L1014 1054.82 L1014.5 1055.37 L1015 1054.8 L1015.5 1054.77 L1016 1054.23 L1016.5 1053.69 L1017 1054.02 L1017.5 1053.31 L1018 1053.3 L1018.5 1052.42 L1019 1049.71 L1019.5 1051.94 L1020 1052.01 L1020.5 1050.95 L1021 1050.21 L1021.5 1050.63 L1022 1050.56 L1022.5 1051.26 L1023 1049.99 L1023.5 1051.07 L1024 1050.63 L1024.5 1049.2 L1025 1050.49 L1025.5 1051.48 L1026 1050.02 L1026.5 1051.99 L1027 1051.27 L1027.5 1052.08 L1028 1051.93 L1028.5 1052.73 L1029 1052.51 L1029.5 1051.75 L1030 1052.05 L1030.5 1049.02 L1031 1051.71 L1031.5 1050.22 L1032 1051.35 L1032.5 1051.16 L1033 1051.07 L1033.5 1051.24 L1034 1051.66 L1034.5 1051.85 L1035 1051.06 L1035.5 1052.17 L1036 1051.98 L1036.5 1052.89 L1037 1053.85 L1037.5 1053.85 L1038 1051.57 L1038.5 1050.45 L1039 1051.53 L1039.5 1051.71 L1040 1051.44 L1040.5 1052.07 L1041 1051.52 L1041.5 1051.88 L1042 1051.48 L1042.5 1052.05 L1043 1051.89 L1043.5 1051.1 L1044 1052.47 L1044.5 1053 L1045 1052.62 L1045.5 1053.27 L1046 1053.05 L1046.5 1052.51 L1047 1051.75 L1047.5 1051.86 L1048 1050.99 L1048.5 1051.62 L1049 1051.51 L1049.5 1050.32 L1050 1052.05 L1050.5 1052.35 L1051 1051.73 L1051.5 1052.75 L1052 1053.14 L1052.5 1053.3 L1053 1053.45 L1053.5 1052.73 L1054 1052.87 L1054.5 1052.03 L1055 1052.93 L1055.5 1051.68 L1056 1052.19 L1056.5 1052.04 L1057 1050.6 L1057.5 1052.29 L1058 1051.5 L1058.5 1046.49 L1059 1052.55 L1059.5 1052.4 L1060 1052.76 L1060.5 1052.54 L1061 1052.59 L1061.5 1052.42 L1062 1051.65 L1062.5 1052.68 L1063 1052.67 L1063.5 1053.1 L1064 1052.12 L1064.5 1052.89 L1065 1051.05 L1065.5 1050.95 L1066 1050.84 L1066.5 1051.79 L1067 1051.58 L1067.5 1051.19 L1068 1053.84 L1068.5 1053.38 L1069 1053.29 L1069.5 1052.56 L1070 1052.6 L1070.5 1052.57 L1071 1051.63 L1071.5 1051.58 L1072 1051.14 L1072.5 1051.62 L1073 1051.93 L1073.5 1050.73 L1074 1051.96 L1074.5 1052.4 L1075 1051.82 L1075.5 1051.98 L1076 1051.28 L1076.5 1052.11 L1077 1051.65 L1077.5 1051.44 L1078 1052.14 L1078.5 1051.49 L1079 1051.73 L1079.5 1052.33 L1080 1051.23 L1080.5 1051.36 L1081 1050.39 L1081.5 1049.72 L1082 1049.73 L1082.5 1050.26 L1083 1049.32 L1083.5 1050.24 L1084 1050.23 L1084.5 1049.62 L1085 1050.78 L1085.5 1051.45 L1086 1051.46 L1086.5 1050.14 L1087 1049.3 L1087.5 1051.66 L1088 1051.53 L1088.5 1051.32 L1089 1051.81 L1089.5 1050.44 L1090 1051.94 L1090.5 1051.82 L1091 1051.75 L1091.5 1052.32 L1092 1052.15 L1092.5 1052.85 L1093 1053.65 L1093.5 1053.22 L1094 1052.57 L1094.5 1052.74 L1095 1052.15 L1095.5 1052.26 L1096 1052.67 L1096.5 1051.46 L1097 1052.08 L1097.5 1052.19 L1098 1051.67 L1098.5 1051.28 L1099 1051.18 L1099.5 1051.78 L1100 1051.84 L1100.5 1052.12 L1101 1051.42 L1101.5 1051.74 L1102 1052.78 L1102.5 1052.92 L1103 1052.4 L1103.5 1051.56 L1104 1052.8 L1104.5 1052.83 L1105 1051.99 L1105.5 1052.46 L1106 1051.98 L1106.5 1052.05 L1107 1051.77 L1107.5 1051.98 L1108 1050.13 L1108.5 1051.88 L1109 1052.34 L1109.5 1052.41 L1110 1052.8 L1110.5 1052.74 L1111 1052.68 L1111.5 1051.9 L1112 1052.28 L1112.5 1052.96 L1113 1051.5 L1113.5 1052.93 L1114 1052.92 L1114.5 1053.02 L1115 1053.05 L1115.5 1052.32 L1116 1050.75 L1116.5 1050.28 L1117 1050.98 L1117.5 1050.2 L1118 1051.63 L1118.5 1047.6 L1119 1048.42 L1119.5 1050.31 L1120 1050.2 L1120.5 1049.86 L1121 1050.7 L1121.5 1050.6 L1122 1049.96 L1122.5 1051.14 L1123 1050.89 L1123.5 1051.48 L1124 1051.49 L1124.5 1051.23 L1125 1052.61 L1125.5 1051.68 L1126 1050.89 L1126.5 1051.83 L1127 1052.32 L1127.5 1052.2 L1128 1052.69 L1128.5 1053.05 L1129 1054.13 L1129.5 1053.26 L1130 1052.72 L1130.5 1053.37 L1131 1051.01 L1131.5 1052.31 L1132 1052.31 L1132.5 1051.65 L1133 1052.09 L1133.5 1052.09 L1134 1052.04 L1134.5 1051.54 L1135 1051.25 L1135.5 1050.51 L1136 1051.4 L1136.5 1052.21 L1137 1052.47 L1137.5 1052 L1138 1052.96 L1138.5 1052.19 L1139 1052 L1139.5 1051.76 L1140 1052 L1140.5 1050.23 L1141 1051.59 L1141.5 1050.97 L1142 1051.59 L1142.5 1051.13 L1143 1051.55 L1143.5 1051.44 L1144 1051.49 L1144.5 1051.53 L1145 1051.47 L1145.5 1051.16 L1146 1051.46 L1146.5 1050.16 L1147 1053.06 L1147.5 1052.55 L1148 1052.73 L1148.5 1052.38 L1149 1052.39 L1149.5 1052.09 L1150 1051.97 L1150.5 1052.87 L1151 1050.79 L1151.5 1053.74 L1152 1053.56 L1152.5 1052.13 L1153 1051.85 L1153.5 1052.3 L1154 1052.3 L1154.5 1052.24 L1155 1053.21 L1155.5 1053.68 L1156 1054.4 L1156.5 1053.32 L1157 1053.34 L1157.5 1053.3 L1158 1053.21 L1158.5 1053.14 L1159 1052.43 L1159.5 1053.14 L1160 1052.29 L1160.5 1051.63 L1161 1052.47 L1161.5 1050.75 L1162 1052.43 L1162.5 1052.61 L1163 1052.25 L1163.5 1052.34 L1164 1052.66 L1164.5 1051.89 L1165 1052.78 L1165.5 1053.34 L1166 1052.44 L1166.5 1052.92 L1167 1052.64 L1167.5 1052.78 L1168 1052.18 L1168.5 1052.35 L1169 1052.67 L1169.5 1053.41 L1170 1054.07 L1170.5 1053.89 L1171 1054.1 L1171.5 1053.36 L1172 1051.84 L1172.5 1053.76 L1173 1053.92 L1173.5 1052.6 L1174 1053.61 L1174.5 1052.96 L1175 1052.77 L1175.5 1052.46 L1176 1053.17 L1176.5 1053.46 L1177 1054.01 L1177.5 1053.53 L1178 1053.91 L1178.5 1054.26 L1179 1054.94 L1179.5 1053.51 L1180 1053.25 L1180.5 1052.78 L1181 1052.39 L1181.5 1050.78 L1182 1051.79 L1182.5 1051.68 L1183 1051.6 L1183.5 1053.12 L1184 1050.74 L1184.5 1052.54 L1185 1051.77 L1185.5 1052.62 L1186 1052.57 L1186.5 1052.83 L1187 1052.61 L1187.5 1053.61 L1188 1052.44 L1188.5 1052.7 L1189 1053.03 L1189.5 1053.28 L1190 1052.94 L1190.5 1053.87 L1191 1053.83 L1191.5 1052.63 L1192 1052.89 L1192.5 1053.26 L1193 1052.54 L1193.5 1051.73 L1194 1052.01 L1194.5 1053.31 L1195 1053.17 L1195.5 1053.37 L1196 1053.68 L1196.5 1053.17 L1197 1053.51 L1197.5 1053.6 L1198 1052.85 L1198.5 1052.27 L1199 1052.97 L1199.5 1052.62 L1200 1051.77 L1200.5 1052.08 L1201 1052.83 L1201.5 1052.57 L1202 1053.19 L1202.5 1052.82 L1203 1052.98 L1203.5 1053.48 L1204 1052.91 L1204.5 1054 L1205 1054.09 L1205.5 1053.7 L1206 1053.17 L1206.5 1051.95 L1207 1051.41 L1207.5 1051.56 L1208 1052.23 L1208.5 1051.1 L1209 1052.45 L1209.5 1051.4 L1210 1051.92 L1210.5 1050.31 L1211 1052.63 L1211.5 1052.45 L1212 1053.72 L1212.5 1054.12 L1213 1053.96 L1213.5 1054.37 L1214 1052.59 L1214.5 1053.82 L1215 1054.05 L1215.5 1054.43 L1216 1054.44 L1216.5 1054.06 L1217 1054.54 L1217.5 1053.67 L1218 1054.12 L1218.5 1053.94 L1219 1053.3 L1219.5 1053.58 L1220 1053.93 L1220.5 1054.49 L1221 1054.11 L1221.5 1054.73 L1222 1055.28 L1222.5 1054.04 L1223 1054.15 L1223.5 1055.05 L1224 1054.06 L1224.5 1054.11 L1225 1053.43 L1225.5 1052.82 L1226 1053.61 L1226.5 1052.62 L1227 1053.99 L1227.5 1053.45 L1228 1052.69 L1228.5 1051.82 L1229 1053.38 L1229.5 1053.95 L1230 1053.4 L1230.5 1054.33 L1231 1053.3 L1231.5 1053.01 L1232 1053.81 L1232.5 1053.66 L1233 1052.65 L1233.5 1052.75 L1234 1053.93 L1234.5 1053.08 L1235 1053.91 L1235.5 1053.95 L1236 1053.75 L1236.5 1052.15 L1237 1052.82 L1237.5 1052.45 L1238 1053.09 L1238.5 1052.02 L1239 1053.79 L1239.5 1054.02 L1240 1054.22 L1240.5 1053.81 L1241 1053.46 L1241.5 1052.31 L1242 1053.88 L1242.5 1054.6 L1243 1054.42 L1243.5 1054.86 L1244 1051.73 L1244.5 1054.28 L1245 1053.3 L1245.5 1054.45 L1246 1054.59 L1246.5 1054.55 L1247 1054.69 L1247.5 1053.87 L1248 1053.54 L1248.5 1054.25 L1249 1053.3 L1249.5 1054.83 L1250 1054.35 L1250.5 1054.84 L1251 1054.4 L1251.5 1053.61 L1252 1054.01 L1252.5 1054.29 L1253 1052.41 L1253.5 1052.55 L1254 1052.47 L1254.5 1053.2 L1255 1053 L1255.5 1053.19 L1256 1052.04 L1256.5 1051.13 L1257 1052.96 L1257.5 1053.89 L1258 1050.84 L1258.5 1054.22 L1259 1053.32 L1259.5 1053.21 L1260 1050.52 L1260.5 1053.31 L1261 1052.63 L1261.5 1053.32 L1262 1053.38 L1262.5 1052.27 L1263 1051.94 L1263.5 1052.03 L1264 1051.35 L1264.5 1051.69 L1265 1050.49 L1265.5 1051.48 L1266 1050.6 L1266.5 1051.73 L1267 1051.51 L1267.5 1051.89 L1268 1052.21 L1268.5 1052.33 L1269 1051.06 L1269.5 1051.45 L1270 1051.63 L1270.5 1050.63 L1271 1051.81 L1271.5 1050.89 L1272 1050.73 L1272.5 1051.51 L1273 1050.59 L1273.5 1051.5 L1274 1051.05 L1274.5 1051.46 L1275 1049.89 L1275.5 1050.88 L1276 1047.88 L1276.5 1051.29 L1277 1050.57 L1277.5 1051.28 L1278 1050.9 L1278.5 1050.82 L1279 1051.64 L1279.5 1051.72 L1280 1052.39 L1280.5 1052.76 L1281 1052.6 L1281.5 1049.26 L1282 1053.17 L1282.5 1052.74 L1283 1051.18 L1283.5 1052.28 L1284 1051.81 L1284.5 1052.65 L1285 1053.31 L1285.5 1053.06 L1286 1053.65 L1286.5 1053.15 L1287 1051.91 L1287.5 1053.19 L1288 1053.02 L1288.5 1052.37 L1289 1051.09 L1289.5 1052.24 L1290 1051.33 L1290.5 1051.51 L1291 1052.1 L1291.5 1051.19 L1292 1052.18 L1292.5 1051.59 L1293 1052.96 L1293.5 1052.54 L1294 1053.01 L1294.5 1052.25 L1295 1052.65 L1295.5 1052.12 L1296 1052.97 L1296.5 1052.46 L1297 1052.19 L1297.5 1052.34 L1298 1051.95 L1298.5 1052.56 L1299 1052.95 L1299.5 1053.18 L1300 1053.77 L1300.5 1053.61 L1301 1053.38 L1301.5 1053.28 L1302 1053.32 L1302.5 1053.9 L1303 1053.33 L1303.5 1052.05 L1304 1052.44 L1304.5 1052.5 L1305 1052.95 L1305.5 1052.92 L1306 1052.64 L1306.5 1053.23 L1307 1053.03 L1307.5 1052.24 L1308 1051.13 L1308.5 1052.22 L1309 1053.35 L1309.5 1053.35 L1310 1054.28 L1310.5 1054.53 L1311 1055.79 L1311.5 1055.22 L1312 1054.98 L1312.5 1053.71 L1313 1054.67 L1313.5 1054.8 L1314 1054.53 L1314.5 1052.6 L1315 1054.27 L1315.5 1053.93 L1316 1054.45 L1316.5 1054.56 L1317 1053.92 L1317.5 1053.43 L1318 1054.2 L1318.5 1054.05 L1319 1051.63 L1319.5 1053.92 L1320 1053.9 L1320.5 1052.95 L1321 1053.35 L1321.5 1052.79 L1322 1052.04 L1322.5 1051.33 L1323 1052.24 L1323.5 1052.32 L1324 1051.57 L1324.5 1052.8 L1325 1053.34 L1325.5 1053.7 L1326 1052.88 L1326.5 1053 L1327 1052.3 L1327.5 1053.47 L1328 1053.5 L1328.5 1053.17 L1329 1054.15 L1329.5 1053.55 L1330 1053.58 L1330.5 1052.51 L1331 1052.91 L1331.5 1052.46 L1332 1053.05 L1332.5 1053.35 L1333 1053.12 L1333.5 1051.92 L1334 1050.85 L1334.5 1051.23 L1335 1051.43 L1335.5 1051.04 L1336 1051.69 L1336.5 1051.6 L1337 1051.43 L1337.5 1051.67 L1338 1053.04 L1338.5 1052.63 L1339 1052.54 L1339.5 1053.03 L1340 1051.8 L1340.5 1050.94 L1341 1051.28 L1341.5 1051.3 L1342 1049.95 L1342.5 1051.3 L1343 1051.41 L1343.5 1052.1 L1344 1052.66 L1344.5 1053.55 L1345 1052.92 L1345.5 1052.56 L1346 1053.22 L1346.5 1048.43 L1347 1053.11 L1347.5 1052.41 L1348 1052.22 L1348.5 1052.44 L1349 1049.73 L1349.5 1051.73 L1350 1052.02 L1350.5 1052.35 L1351 1051.61 L1351.5 1050.17 L1352 1051.21 L1352.5 1049.25 L1353 1050.64 L1353.5 1050.78 L1354 1050.29 L1354.5 1051.6 L1355 1052 L1355.5 1051.96 L1356 1048.57 L1356.5 1052.25 L1357 1052.11 L1357.5 1051.17 L1358 1051.75 L1358.5 1053.16 L1359 1053.19 L1359.5 1052.3 L1360 1052.82 L1360.5 1052.61 L1361 1051.88 L1361.5 1051.96 L1362 1051.95 L1362.5 1051.06 L1363 1050.54 L1363.5 1050.14 L1364 1051.39 L1364.5 1051.68 L1365 1052.01 L1365.5 1053.34 L1366 1052.34 L1366.5 1052.77 L1367 1052.11 L1367.5 1051.88 L1368 1052.12 L1368.5 1052.44 L1369 1052.48 L1369.5 1052.19 L1370 1052.36 L1370.5 1052.87 L1371 1053.22 L1371.5 1052.68 L1372 1052.51 L1372.5 1052.56 L1373 1052.33 L1373.5 1051.59 L1374 1050.88 L1374.5 1052.14 L1375 1052.21 L1375.5 1049 L1376 1051.86 L1376.5 1052.63 L1377 1051.04 L1377.5 1052.88 L1378 1052.39 L1378.5 1051.88 L1379 1052.16 L1379.5 1052.88 L1380 1054.02 L1380.5 1053.56 L1381 1055.07 L1381.5 1054.9 L1382 1054.2 L1382.5 1053.88 L1383 1054.06 L1383.5 1053.83 L1384 1052.56 L1384.5 1053.2 L1385 1054.02 L1385.5 1053.73 L1386 1053.32 L1386.5 1051.51 L1387 1053.05 L1387.5 1052.92 L1388 1052.95 L1388.5 1052.84 L1389 1051.92 L1389.5 1050.74 L1390 1051.36 L1390.5 1050.95 L1391 1050.6 L1391.5 1050.51 L1392 1049.92 L1392.5 1051.11 L1393 1050.51 L1393.5 1052.23 L1394 1052.62 L1394.5 1053.76 L1395 1053.58 L1395.5 1051.04 L1396 1053.06 L1396.5 1054.25 L1397 1053.53 L1397.5 1053.62 L1398 1053.42 L1398.5 1053.66 L1399 1053.15 L1399.5 1053.82 L1400 1053.03 L1400.5 1052.27 L1401 1053.11 L1401.5 1052.48 L1402 1051.58 L1402.5 1050.26 L1403 1052.14 L1403.5 1051.26 L1404 1052.95 L1404.5 1051.74 L1405 1053.51 L1405.5 1053.21 L1406 1054.71 L1406.5 1054.44 L1407 1054.54 L1407.5 1053.93 L1408 1053.79 L1408.5 1051.11 L1409 1053.86 L1409.5 1053.62 L1410 1053.54 L1410.5 1052.29 L1411 1053.02 L1411.5 1052.19 L1412 1052.61 L1412.5 1053.82 L1413 1052.94 L1413.5 1053.69 L1414 1053.68 L1414.5 1054.4 L1415 1053.93 L1415.5 1054.11 L1416 1053.8 L1416.5 1054.53 L1417 1053.8 L1417.5 1053.06 L1418 1053.68 L1418.5 1052.88 L1419 1052.05 L1419.5 1052.81 L1420 1052.56 L1420.5 1052.95 L1421 1052.9 L1421.5 1052.4 L1422 1052.94 L1422.5 1051.79 L1423 1052.49 L1423.5 1053.51 L1424 1054.19 L1424.5 1053.76 L1425 1053.03 L1425.5 1051.52 L1426 1052.21 L1426.5 1052.33 L1427 1053.08 L1427.5 1053.02 L1428 1053.07 L1428.5 1053.39 L1429 1051.98 L1429.5 1052.53 L1430 1052.6 L1430.5 1051.82 L1431 1052.02 L1431.5 1050.69 L1432 1052.11 L1432.5 1052.96 L1433 1052.3 L1433.5 1053.29 L1434 1053.32 L1434.5 1053.12 L1435 1053.35 L1435.5 1052.3 L1436 1051.74 L1436.5 1051.95 L1437 1052.58 L1437.5 1053.31 L1438 1053.07 L1438.5 1053.03 L1439 1053.21 L1439.5 1053.07 L1440 1052.89 L1440.5 1051.04 L1441 1051.86 L1441.5 1052.79 L1442 1051.92 L1442.5 1052.75 L1443 1053 L1443.5 1052.99 L1444 1051.69 L1444.5 1052.29 L1445 1052.41 L1445.5 1051.75 L1446 1052.91 L1446.5 1052.42 L1447 1053.09 L1447.5 1052.59 L1448 1053.01 L1448.5 1052.86 L1449 1053.62 L1449.5 1053.6 L1450 1052.93 L1450.5 1053.09 L1451 1052.52 L1451.5 1051.75 L1452 1050.28 L1452.5 1050.79 L1453 1052.02 L1453.5 1051.86 L1454 1051.8 L1454.5 1051.17 L1455 1052.2 L1455.5 1053.3 L1456 1053.81 L1456.5 1054.09 L1457 1054.71 L1457.5 1054.18 L1458 1054.29 L1458.5 1054.14 L1459 1054.14 L1459.5 1053.84 L1460 1052.36 L1460.5 1053.05 L1461 1053.58 L1461.5 1053.89 L1462 1054 L1462.5 1053.67 L1463 1053.14 L1463.5 1053.6 L1464 1054.03 L1464.5 1054.31 L1465 1054.33 L1465.5 1054.11 L1466 1055.35 L1466.5 1054.04 L1467 1054.61 L1467.5 1053.93 L1468 1053.66 L1468.5 1053.52 L1469 1052.97 L1469.5 1053.01 L1470 1053.5 L1470.5 1052.93 L1471 1053.37 L1471.5 1054.06 L1472 1054.08 L1472.5 1054.42 L1473 1054.72 L1473.5 1054.45 L1474 1055.34 L1474.5 1053.99 L1475 1054.49 L1475.5 1054.76 L1476 1054.94 L1476.5 1054.03 L1477 1054.08 L1477.5 1053.62 L1478 1054.02 L1478.5 1053.19 L1479 1053.19 L1479.5 1054.05 L1480 1053.65 L1480.5 1054.69 L1481 1054.61 L1481.5 1055.18 L1482 1054.68 L1482.5 1054.53 L1483 1053.99 L1483.5 1053.81 L1484 1052.99 L1484.5 1052.3 L1485 1052.74 L1485.5 1052.94 L1486 1052.67 L1486.5 1052.71 L1487 1052.7 L1487.5 1053.17 L1488 1052.18 L1488.5 1054.05 L1489 1053.13 L1489.5 1053.66 L1490 1052.64 L1490.5 1052.8 L1491 1053.27 L1491.5 1052.95 L1492 1053.05 L1492.5 1052.27 L1493 1053.43 L1493.5 1053.36 L1494 1052.46 L1494.5 1052.87 L1495 1052.18 L1495.5 1052.92 L1496 1053.26 L1496.5 1053.38 L1497 1053.01 L1497.5 1052.88 L1498 1052.47 L1498.5 1052.02 L1499 1051.09 L1499.5 1050.24 L1500 1051.1 L1500.5 1051.66 L1501 1051.49 L1501.5 1053.25 L1502 1053.98 L1502.5 1054.42 L1503 1054.16 L1503.5 1051.31 L1504 1052.32 L1504.5 1051.22 L1505 1051.64 L1505.5 1051.1 L1506 1051.58 L1506.5 1050.47 L1507 1051.82 L1507.5 1051.13 L1508 1051.35 L1508.5 1051.4 L1509 1050.89 L1509.5 1051.75 L1510 1050.9 L1510.5 1050.29 L1511 1051.47 L1511.5 1052.55 L1512 1052.52 L1512.5 1052.27 L1513 1052.87 L1513.5 1051.95 L1514 1051.53 L1514.5 1051.22 L1515 1050.01 L1515.5 1050.39 L1516 1051.15 L1516.5 1051.32 L1517 1051.08 L1517.5 1051.38 L1518 1051.11 L1518.5 1051.35 L1519 1050.62 L1519.5 1051.07 L1520 1051.93 L1520.5 1050.93 L1521 1050.9 L1521.5 1051.5 L1522 1050.89 L1522.5 1050.14 L1523 1051.64 L1523.5 1051.2 L1524 1050.29 L1524.5 1051.08 L1525 1051.32 L1525.5 1052.25 L1526 1052.44 L1526.5 1052.47 L1527 1052.43 L1527.5 1052.14 L1528 1052.26 L1528.5 1051.49 L1529 1051.41 L1529.5 1051.75 L1530 1050.65 L1530.5 1051.37 L1531 1051.42 L1531.5 1052.05 L1532 1051.77 L1532.5 1052.25 L1533 1051.69 L1533.5 1051.4 L1534 1052.26 L1534.5 1052.78 L1535 1051.62 L1535.5 1053.59 L1536 1053.53 L1536.5 1052.53 L1537 1052.41 L1537.5 1051.96 L1538 1053.23 L1538.5 1053.02 L1539 1052.12 L1539.5 1051.87 L1540 1052.42 L1540.5 1052.73 L1541 1051.6 L1541.5 1053.1 L1542 1053.25 L1542.5 1053.01 L1543 1051.8 L1543.5 1054.36 L1544 1054.34 L1544.5 1053.86 L1545 1053.14 L1545.5 1052.1 L1546 1052.14 L1546.5 1052.01 L1547 1051.99 L1547.5 1051.97 L1548 1052.3 L1548.5 1051.82 L1549 1051.28 L1549.5 1051.75 L1550 1051.85 L1550.5 1050.22 L1551 1051.25 L1551.5 1050.97 L1552 1051.24 L1552.5 1052.05 L1553 1051.98 L1553.5 1051.46 L1554 1051.78 L1554.5 1051.39 L1555 1051.04 L1555.5 1051.25 L1556 1050.79 L1556.5 1051.28 L1557 1051.5 L1557.5 1051.75 L1558 1052.01 L1558.5 1050.89 L1559 1051.53 L1559.5 1051.54 L1560 1049.53 L1560.5 1052.38 L1561 1051.56 L1561.5 1051.56 L1562 1052.02 L1562.5 1051.25 L1563 1051.23 L1563.5 1051.92 L1564 1053.81 L1564.5 1053.44 L1565 1053.21 L1565.5 1054.24 L1566 1054.25 L1566.5 1049.96 L1567 1053.45 L1567.5 1052.21 L1568 1052.35 L1568.5 1052.79 L1569 1051.9 L1569.5 1052.57 L1570 1052.43 L1570.5 1051.92 L1571 1052.85 L1571.5 1052.78 L1572 1052.83 L1572.5 1052.99 L1573 1053.01 L1573.5 1052.28 L1574 1052.51 L1574.5 1052.05 L1575 1051.81 L1575.5 1053.07 L1576 1052.53 L1576.5 1052.46 L1577 1052.58 L1577.5 1052.59 L1578 1051.22 L1578.5 1051.34 L1579 1052.43 L1579.5 1052.56 L1580 1052.13 L1580.5 1051.19 L1581 1050.63 L1581.5 1050.97 L1582 1050.83 L1582.5 1049.84 L1583 1050.67 L1583.5 1050.52 L1584 1050.69 L1584.5 1049.15 L1585 1050.76 L1585.5 1050.88 L1586 1050.63 L1586.5 1051.76 L1587 1051.84 L1587.5 1051.3 L1588 1051.74 L1588.5 1051.3 L1589 1051.82 L1589.5 1051.66 L1590 1051.29 L1590.5 1052.33 L1591 1051.34 L1591.5 1051.48 L1592 1050.57 L1592.5 1049.42 L1593 1049.92 L1593.5 1050.54 L1594 1050.86 L1594.5 1050.73 L1595 1051.81 L1595.5 1050.66 L1596 1050.38 L1596.5 1049.94 L1597 1050.03 L1597.5 1050.75 L1598 1050.94 L1598.5 1051.37 L1599 1052.17 L1599.5 1051.95 L1600 1052.76 L1600.5 1053.1 L1601 1051.62 L1601.5 1052.99 L1602 1052.7 L1602.5 1052.32 L1603 1051.66 L1603.5 1051.55 L1604 1050.86 L1604.5 1050.17 L1605 1050.33 L1605.5 1051.38 L1606 1050.35 L1606.5 1050.34 L1607 1049.86 L1607.5 1049.01 L1608 1049.55 L1608.5 1049.9 L1609 1049.39 L1609.5 1051.15 L1610 1051.72 L1610.5 1050.99 L1611 1052.28 L1611.5 1052.13 L1612 1052.92 L1612.5 1051.9 L1613 1052.59 L1613.5 1052.89 L1614 1052.23 L1614.5 1051.67 L1615 1050.14 L1615.5 1051.08 L1616 1051.27 L1616.5 1051.06 L1617 1051.68 L1617.5 1053.64 L1618 1053.59 L1618.5 1054.64 L1619 1054.16 L1619.5 1054.38 L1620 1053.51 L1620.5 1052.85 L1621 1051.37 L1621.5 1052.28 L1622 1052.92 L1622.5 1053.38 L1623 1054.22 L1623.5 1053.38 L1624 1053.06 L1624.5 1053.75 L1625 1053.5 L1625.5 1053.17 L1626 1052.12 L1626.5 1051.89 L1627 1051.1 L1627.5 1052.08 L1628 1053.18 L1628.5 1053.2 L1629 1052.65 L1629.5 1054.26 L1630 1054.54 L1630.5 1054.17 L1631 1054.21 L1631.5 1054.31 L1632 1053.68 L1632.5 1053.93 L1633 1054.65 L1633.5 1053.72 L1634 1050.31 L1634.5 1052.61 L1635 1052.52 L1635.5 1052.27 L1636 1052.5 L1636.5 1052.71 L1637 1052.25 L1637.5 1052.69 L1638 1051.12 L1638.5 1052.94 L1639 1051.32 L1639.5 1053.14 L1640 1053.15 L1640.5 1053.44 L1641 1052.38 L1641.5 1052.86 L1642 1052.73 L1642.5 1052.31 L1643 1052.85 L1643.5 1052.53 L1644 1052.64 L1644.5 1052.69 L1645 1053.2 L1645.5 1052.44 L1646 1051.64 L1646.5 1052.08 L1647 1051.84 L1647.5 1051.21 L1647.5 1061.45 L1647 1060.4 L1646.5 1060.59 L1646 1060.64 L1645.5 1061.31 L1645 1060.65 L1644.5 1061.05 L1644 1061.02 L1643.5 1061.24 L1643 1062.38 L1642.5 1062.18 L1642 1062.35 L1641.5 1061.95 L1641 1062.68 L1640.5 1063.16 L1640 1062.44 L1639.5 1062.29 L1639 1062.97 L1638.5 1062.7 L1638 1062.18 L1637.5 1061.98 L1637 1064.15 L1636.5 1060.89 L1636 1060.83 L1635.5 1062.35 L1635 1061.63 L1634.5 1061.9 L1634 1063.17 L1633.5 1066.9 L1633 1062.07 L1632.5 1061.89 L1632 1061.99 L1631.5 1062.41 L1631 1062.47 L1630.5 1062.94 L1630 1062.87 L1629.5 1062.76 L1629 1062.87 L1628.5 1063.12 L1628 1064.14 L1627.5 1062.47 L1627 1062.94 L1626.5 1062.55 L1626 1061.86 L1625.5 1063.42 L1625 1061.34 L1624.5 1060.8 L1624 1064.12 L1623.5 1060.93 L1623 1062.45 L1622.5 1062 L1622 1064.31 L1621.5 1062.19 L1621 1063.03 L1620.5 1062.23 L1620 1062.31 L1619.5 1060.93 L1619 1060.44 L1618.5 1060.14 L1618 1061.1 L1617.5 1060.52 L1617 1060.83 L1616.5 1061.65 L1616 1060.87 L1615.5 1060.93 L1615 1061.26 L1614.5 1061.3 L1614 1060.52 L1613.5 1060.73 L1613 1059.68 L1612.5 1060.52 L1612 1059.5 L1611.5 1059.53 L1611 1061.78 L1610.5 1060.99 L1610 1060.65 L1609.5 1059.64 L1609 1059.13 L1608.5 1058.83 L1608 1059.63 L1607.5 1059.59 L1607 1060.34 L1606.5 1060.4 L1606 1061.49 L1605.5 1060.48 L1605 1060.85 L1604.5 1060.49 L1604 1061.19 L1603.5 1060.23 L1603 1059.74 L1602.5 1059.94 L1602 1059.75 L1601.5 1061.07 L1601 1061.62 L1600.5 1060.79 L1600 1061.39 L1599.5 1061.11 L1599 1061.4 L1598.5 1060.66 L1598 1060.69 L1597.5 1060.65 L1597 1060.52 L1596.5 1060.96 L1596 1060.28 L1595.5 1060.35 L1595 1060.35 L1594.5 1061.41 L1594 1060.61 L1593.5 1059.82 L1593 1059.78 L1592.5 1059.92 L1592 1062.6 L1591.5 1060.3 L1591 1060.16 L1590.5 1059.82 L1590 1060.93 L1589.5 1058.89 L1589 1058.53 L1588.5 1058.68 L1588 1058.88 L1587.5 1058.75 L1587 1058.94 L1586.5 1059.93 L1586 1058.98 L1585.5 1059.89 L1585 1060.19 L1584.5 1060.29 L1584 1060.78 L1583.5 1061.18 L1583 1060.56 L1582.5 1060.62 L1582 1060.71 L1581.5 1059.07 L1581 1058.56 L1580.5 1059 L1580 1063.43 L1579.5 1059.44 L1579 1060.51 L1578.5 1060.58 L1578 1059.14 L1577.5 1059.52 L1577 1060.02 L1576.5 1060.47 L1576 1061.96 L1575.5 1061.7 L1575 1062.73 L1574.5 1061.69 L1574 1061.69 L1573.5 1061.44 L1573 1061.88 L1572.5 1061.24 L1572 1061.12 L1571.5 1060.28 L1571 1061.22 L1570.5 1060.85 L1570 1060.2 L1569.5 1061.2 L1569 1060.82 L1568.5 1060.79 L1568 1061.01 L1567.5 1062.33 L1567 1061.87 L1566.5 1062.36 L1566 1061.65 L1565.5 1062.27 L1565 1061.58 L1564.5 1061.01 L1564 1060.79 L1563.5 1061.37 L1563 1062.84 L1562.5 1063.59 L1562 1062 L1561.5 1061.15 L1561 1061.78 L1560.5 1064.71 L1560 1062.7 L1559.5 1062.6 L1559 1062.21 L1558.5 1061.45 L1558 1061.61 L1557.5 1061.62 L1557 1064.84 L1556.5 1061.9 L1556 1062.75 L1555.5 1062.23 L1555 1062.48 L1554.5 1062.18 L1554 1061.6 L1553.5 1060.87 L1553 1060.44 L1552.5 1060.35 L1552 1060.43 L1551.5 1061.02 L1551 1060.69 L1550.5 1060.61 L1550 1060.53 L1549.5 1061.27 L1549 1061.97 L1548.5 1062.08 L1548 1062.67 L1547.5 1063.35 L1547 1064.3 L1546.5 1062 L1546 1061.31 L1545.5 1061.88 L1545 1064.77 L1544.5 1061.26 L1544 1060.97 L1543.5 1061 L1543 1060.96 L1542.5 1061.09 L1542 1060.69 L1541.5 1061.79 L1541 1060.63 L1540.5 1060.97 L1540 1061.06 L1539.5 1061.04 L1539 1060.91 L1538.5 1060.75 L1538 1060.49 L1537.5 1060.73 L1537 1060.98 L1536.5 1061.33 L1536 1061.67 L1535.5 1062.41 L1535 1062.8 L1534.5 1063.68 L1534 1062.64 L1533.5 1061.99 L1533 1063.97 L1532.5 1060.48 L1532 1060.86 L1531.5 1061.1 L1531 1061.38 L1530.5 1061.43 L1530 1060.21 L1529.5 1059.66 L1529 1059.64 L1528.5 1060.97 L1528 1060.99 L1527.5 1062.18 L1527 1062.69 L1526.5 1062.91 L1526 1063.09 L1525.5 1062.83 L1525 1062.86 L1524.5 1061.39 L1524 1059.86 L1523.5 1059.18 L1523 1058.8 L1522.5 1060.12 L1522 1059.42 L1521.5 1061.09 L1521 1060.87 L1520.5 1060.58 L1520 1060.46 L1519.5 1060.25 L1519 1061.55 L1518.5 1060.85 L1518 1062.99 L1517.5 1061.46 L1517 1060.74 L1516.5 1060.48 L1516 1060.73 L1515.5 1060.09 L1515 1061.52 L1514.5 1060.47 L1514 1059.71 L1513.5 1060.14 L1513 1060.48 L1512.5 1060.42 L1512 1062.29 L1511.5 1061.8 L1511 1060 L1510.5 1060.09 L1510 1061.25 L1509.5 1062.1 L1509 1059.88 L1508.5 1060.32 L1508 1060.76 L1507.5 1060.64 L1507 1061.67 L1506.5 1061.62 L1506 1061.79 L1505.5 1060.86 L1505 1061.18 L1504.5 1061.59 L1504 1060.95 L1503.5 1060.23 L1503 1061.02 L1502.5 1061.55 L1502 1061.62 L1501.5 1060.94 L1501 1061.29 L1500.5 1060.79 L1500 1060.68 L1499.5 1061.66 L1499 1061.4 L1498.5 1062.11 L1498 1063.17 L1497.5 1062.74 L1497 1062.91 L1496.5 1062.03 L1496 1061.82 L1495.5 1061.47 L1495 1062.32 L1494.5 1062.78 L1494 1061.21 L1493.5 1061.1 L1493 1061.51 L1492.5 1062.6 L1492 1063.16 L1491.5 1062.56 L1491 1062.28 L1490.5 1061.23 L1490 1061.05 L1489.5 1061.4 L1489 1061.58 L1488.5 1062.11 L1488 1061.86 L1487.5 1062.65 L1487 1062.77 L1486.5 1062.38 L1486 1063.05 L1485.5 1062.83 L1485 1063.95 L1484.5 1063.54 L1484 1064.75 L1483.5 1063.78 L1483 1064.28 L1482.5 1061.67 L1482 1061.73 L1481.5 1062.16 L1481 1062.49 L1480.5 1063 L1480 1062.82 L1479.5 1062.99 L1479 1063.03 L1478.5 1062.54 L1478 1061.62 L1477.5 1062.59 L1477 1062.56 L1476.5 1063.82 L1476 1063.84 L1475.5 1062.84 L1475 1062.01 L1474.5 1061.65 L1474 1062.23 L1473.5 1062.02 L1473 1062.24 L1472.5 1060.77 L1472 1060.79 L1471.5 1060.72 L1471 1061.41 L1470.5 1063.27 L1470 1062.22 L1469.5 1062.18 L1469 1062.5 L1468.5 1061.91 L1468 1061.5 L1467.5 1062.17 L1467 1061.9 L1466.5 1066.59 L1466 1063 L1465.5 1063.28 L1465 1063.67 L1464.5 1063.51 L1464 1064.14 L1463.5 1064.56 L1463 1063.89 L1462.5 1064.55 L1462 1064.46 L1461.5 1063.98 L1461 1062.63 L1460.5 1061.86 L1460 1061.77 L1459.5 1062.92 L1459 1062.01 L1458.5 1062.91 L1458 1061.9 L1457.5 1063.38 L1457 1062.53 L1456.5 1061.5 L1456 1062.12 L1455.5 1061.53 L1455 1061.26 L1454.5 1061.54 L1454 1061.99 L1453.5 1061.88 L1453 1061.43 L1452.5 1062.04 L1452 1063.06 L1451.5 1062.28 L1451 1062.5 L1450.5 1063.57 L1450 1062.33 L1449.5 1062.44 L1449 1062.7 L1448.5 1061.84 L1448 1061.44 L1447.5 1060.65 L1447 1060.99 L1446.5 1060.58 L1446 1061.4 L1445.5 1061.16 L1445 1061.59 L1444.5 1062.31 L1444 1063.55 L1443.5 1063.24 L1443 1062.43 L1442.5 1063.8 L1442 1061.93 L1441.5 1062.98 L1441 1062 L1440.5 1061.7 L1440 1062.25 L1439.5 1062.16 L1439 1062.14 L1438.5 1062.93 L1438 1063.02 L1437.5 1061.66 L1437 1061.58 L1436.5 1061.77 L1436 1062.76 L1435.5 1062.65 L1435 1062.26 L1434.5 1062.17 L1434 1061.46 L1433.5 1061.78 L1433 1060.82 L1432.5 1060.83 L1432 1061.01 L1431.5 1060.53 L1431 1059.83 L1430.5 1062.31 L1430 1059.85 L1429.5 1059.95 L1429 1060.63 L1428.5 1060.25 L1428 1060.78 L1427.5 1060.37 L1427 1059.72 L1426.5 1060.52 L1426 1060.48 L1425.5 1061.34 L1425 1060.8 L1424.5 1061.1 L1424 1061.96 L1423.5 1061.6 L1423 1062.36 L1422.5 1063.16 L1422 1063.69 L1421.5 1063.3 L1421 1062.88 L1420.5 1063.73 L1420 1063.81 L1419.5 1063.31 L1419 1064.16 L1418.5 1064 L1418 1064.55 L1417.5 1064.24 L1417 1064.06 L1416.5 1063.22 L1416 1061.89 L1415.5 1061.57 L1415 1061.88 L1414.5 1062.51 L1414 1062.3 L1413.5 1062.59 L1413 1061.96 L1412.5 1062.52 L1412 1062.11 L1411.5 1061.19 L1411 1061.7 L1410.5 1062.45 L1410 1062.46 L1409.5 1061.9 L1409 1062.82 L1408.5 1060.97 L1408 1061.48 L1407.5 1062.45 L1407 1063.19 L1406.5 1062.35 L1406 1062.93 L1405.5 1063.37 L1405 1062.44 L1404.5 1063.09 L1404 1062.92 L1403.5 1062.06 L1403 1061.79 L1402.5 1062.2 L1402 1062.25 L1401.5 1062.93 L1401 1062.27 L1400.5 1062.63 L1400 1063.81 L1399.5 1063.04 L1399 1063.9 L1398.5 1063.77 L1398 1062.07 L1397.5 1062.1 L1397 1061.72 L1396.5 1060.89 L1396 1060.83 L1395.5 1061.07 L1395 1062.98 L1394.5 1063.17 L1394 1061.53 L1393.5 1062.54 L1393 1062.14 L1392.5 1061.78 L1392 1061.83 L1391.5 1062.06 L1391 1062.19 L1390.5 1065.51 L1390 1062.27 L1389.5 1062.13 L1389 1061.76 L1388.5 1061.48 L1388 1061.91 L1387.5 1060.84 L1387 1061.34 L1386.5 1061.36 L1386 1060.75 L1385.5 1060.24 L1385 1060.5 L1384.5 1061.52 L1384 1061.9 L1383.5 1062.21 L1383 1062.57 L1382.5 1062.65 L1382 1061.64 L1381.5 1061.49 L1381 1060.94 L1380.5 1061.64 L1380 1060.69 L1379.5 1060.35 L1379 1061.04 L1378.5 1061.88 L1378 1061.9 L1377.5 1062.03 L1377 1061.95 L1376.5 1061.95 L1376 1062.63 L1375.5 1062.1 L1375 1061.51 L1374.5 1061.47 L1374 1061.69 L1373.5 1061.75 L1373 1062.86 L1372.5 1061.53 L1372 1060.73 L1371.5 1060.84 L1371 1059.51 L1370.5 1059.98 L1370 1059.27 L1369.5 1059.78 L1369 1060.14 L1368.5 1061.35 L1368 1060.02 L1367.5 1060.75 L1367 1060.05 L1366.5 1061.24 L1366 1060.12 L1365.5 1060.22 L1365 1059.78 L1364.5 1060.03 L1364 1061.27 L1363.5 1060.68 L1363 1060.99 L1362.5 1061.75 L1362 1063.54 L1361.5 1061 L1361 1059.96 L1360.5 1059.78 L1360 1059.01 L1359.5 1059.97 L1359 1061.86 L1358.5 1059.34 L1358 1060.68 L1357.5 1060.17 L1357 1060.83 L1356.5 1061.34 L1356 1060.39 L1355.5 1060.36 L1355 1061.78 L1354.5 1061.14 L1354 1061.85 L1353.5 1061.98 L1353 1061.34 L1352.5 1061.23 L1352 1060.85 L1351.5 1060.14 L1351 1061.57 L1350.5 1062.18 L1350 1060.94 L1349.5 1060.42 L1349 1060.58 L1348.5 1061.12 L1348 1062.16 L1347.5 1065.12 L1347 1062.4 L1346.5 1061.44 L1346 1062.08 L1345.5 1062.38 L1345 1061.9 L1344.5 1061.4 L1344 1061.79 L1343.5 1060.98 L1343 1061.02 L1342.5 1060.71 L1342 1060.49 L1341.5 1061.29 L1341 1062.22 L1340.5 1061.71 L1340 1062.41 L1339.5 1062.58 L1339 1062.37 L1338.5 1061.75 L1338 1062.73 L1337.5 1061.96 L1337 1061.8 L1336.5 1061.46 L1336 1062.38 L1335.5 1061.12 L1335 1061.45 L1334.5 1060.62 L1334 1061.64 L1333.5 1061.09 L1333 1062.35 L1332.5 1061.9 L1332 1062.71 L1331.5 1062.08 L1331 1061.67 L1330.5 1062.49 L1330 1060.99 L1329.5 1060.71 L1329 1062.03 L1328.5 1063.02 L1328 1062.37 L1327.5 1062.81 L1327 1063.19 L1326.5 1064.13 L1326 1061.36 L1325.5 1061.69 L1325 1060.83 L1324.5 1061.25 L1324 1063.45 L1323.5 1061.58 L1323 1061.86 L1322.5 1062.37 L1322 1061.2 L1321.5 1061.3 L1321 1060.39 L1320.5 1060.64 L1320 1061.8 L1319.5 1063.66 L1319 1063.46 L1318.5 1063.89 L1318 1063.17 L1317.5 1063.17 L1317 1061.87 L1316.5 1061.43 L1316 1061.83 L1315.5 1062.5 L1315 1062.86 L1314.5 1061.75 L1314 1061.95 L1313.5 1062.61 L1313 1063.26 L1312.5 1063.2 L1312 1063.83 L1311.5 1064.24 L1311 1064.85 L1310.5 1063.68 L1310 1063.63 L1309.5 1063.53 L1309 1063.28 L1308.5 1062.9 L1308 1063.32 L1307.5 1063.35 L1307 1063.12 L1306.5 1062.83 L1306 1062.91 L1305.5 1061.82 L1305 1061.7 L1304.5 1061.95 L1304 1062.41 L1303.5 1063.2 L1303 1063.23 L1302.5 1062.25 L1302 1061.87 L1301.5 1062.72 L1301 1061.08 L1300.5 1060.87 L1300 1061.43 L1299.5 1061.75 L1299 1062.67 L1298.5 1062.4 L1298 1062.69 L1297.5 1062.8 L1297 1063.34 L1296.5 1062.52 L1296 1063.89 L1295.5 1063.28 L1295 1061.11 L1294.5 1061.32 L1294 1060.65 L1293.5 1060.94 L1293 1060.94 L1292.5 1061.34 L1292 1061.61 L1291.5 1060.2 L1291 1060.24 L1290.5 1061.01 L1290 1060.91 L1289.5 1061.12 L1289 1061.75 L1288.5 1061.03 L1288 1062.07 L1287.5 1061.36 L1287 1061.32 L1286.5 1061.4 L1286 1062.56 L1285.5 1061.26 L1285 1061.18 L1284.5 1061.44 L1284 1061.26 L1283.5 1061.55 L1283 1061.5 L1282.5 1063.1 L1282 1061.55 L1281.5 1061.11 L1281 1061.02 L1280.5 1060.68 L1280 1060.41 L1279.5 1061.9 L1279 1060.9 L1278.5 1061.54 L1278 1061.69 L1277.5 1061.45 L1277 1061.5 L1276.5 1061.31 L1276 1060.54 L1275.5 1060.34 L1275 1060.2 L1274.5 1059.09 L1274 1059.16 L1273.5 1059.34 L1273 1059.65 L1272.5 1060.15 L1272 1059.72 L1271.5 1060.26 L1271 1060.28 L1270.5 1059.82 L1270 1061.17 L1269.5 1059.94 L1269 1060.76 L1268.5 1061.01 L1268 1060.05 L1267.5 1061.37 L1267 1061 L1266.5 1061.46 L1266 1062.24 L1265.5 1062.6 L1265 1061.75 L1264.5 1062.95 L1264 1062.16 L1263.5 1061.89 L1263 1065.13 L1262.5 1062.3 L1262 1061.64 L1261.5 1061.57 L1261 1061.38 L1260.5 1061.64 L1260 1060.72 L1259.5 1061.06 L1259 1061.67 L1258.5 1061.75 L1258 1062.26 L1257.5 1063.41 L1257 1063.86 L1256.5 1062.94 L1256 1064.32 L1255.5 1063.21 L1255 1062.96 L1254.5 1063.12 L1254 1062.22 L1253.5 1062.39 L1253 1062.02 L1252.5 1061.59 L1252 1061.75 L1251.5 1062.41 L1251 1061.61 L1250.5 1062.21 L1250 1061.79 L1249.5 1061.58 L1249 1062.04 L1248.5 1061.7 L1248 1061.84 L1247.5 1063.22 L1247 1061.48 L1246.5 1061.33 L1246 1061.28 L1245.5 1061.23 L1245 1061.63 L1244.5 1061.84 L1244 1063.24 L1243.5 1061.82 L1243 1063.08 L1242.5 1063.22 L1242 1062.1 L1241.5 1062.28 L1241 1062.83 L1240.5 1062.96 L1240 1063.98 L1239.5 1062.77 L1239 1061.9 L1238.5 1062.54 L1238 1062.04 L1237.5 1061.98 L1237 1062.73 L1236.5 1062.34 L1236 1062.16 L1235.5 1062.41 L1235 1062.63 L1234.5 1061.53 L1234 1061.43 L1233.5 1061.39 L1233 1062.37 L1232.5 1062.37 L1232 1062.31 L1231.5 1061.87 L1231 1062.34 L1230.5 1061.31 L1230 1061.13 L1229.5 1061.45 L1229 1062.45 L1228.5 1062.08 L1228 1062.82 L1227.5 1061.89 L1227 1062.26 L1226.5 1064.48 L1226 1062.45 L1225.5 1061.71 L1225 1062.58 L1224.5 1063.01 L1224 1061.76 L1223.5 1062.11 L1223 1061.66 L1222.5 1061.38 L1222 1061.87 L1221.5 1061.22 L1221 1061.87 L1220.5 1062.05 L1220 1061.54 L1219.5 1062.16 L1219 1062.88 L1218.5 1063.78 L1218 1063.08 L1217.5 1062.53 L1217 1062.51 L1216.5 1062.92 L1216 1063.35 L1215.5 1064.88 L1215 1063.02 L1214.5 1062.8 L1214 1062.12 L1213.5 1065.69 L1213 1061.18 L1212.5 1061.43 L1212 1060.84 L1211.5 1061.05 L1211 1060.83 L1210.5 1061.74 L1210 1060.73 L1209.5 1061.46 L1209 1061.66 L1208.5 1060.92 L1208 1061.35 L1207.5 1061.76 L1207 1061.38 L1206.5 1060.46 L1206 1060.39 L1205.5 1060.37 L1205 1062.06 L1204.5 1060.84 L1204 1061.22 L1203.5 1062.07 L1203 1061.34 L1202.5 1061.06 L1202 1061.06 L1201.5 1061.53 L1201 1062.18 L1200.5 1062.99 L1200 1062.95 L1199.5 1062.66 L1199 1061.82 L1198.5 1061.72 L1198 1061.17 L1197.5 1061.4 L1197 1061.8 L1196.5 1062.65 L1196 1062.21 L1195.5 1062.72 L1195 1063.15 L1194.5 1062.84 L1194 1061.57 L1193.5 1061.57 L1193 1062.6 L1192.5 1062.29 L1192 1062.65 L1191.5 1063.47 L1191 1062.59 L1190.5 1062.18 L1190 1062.39 L1189.5 1062.07 L1189 1061.51 L1188.5 1062.24 L1188 1061.44 L1187.5 1061.07 L1187 1061.08 L1186.5 1061.56 L1186 1061.24 L1185.5 1061.63 L1185 1060.75 L1184.5 1060.54 L1184 1060.34 L1183.5 1059.95 L1183 1060.18 L1182.5 1060.78 L1182 1061.11 L1181.5 1061.69 L1181 1061.92 L1180.5 1060.85 L1180 1061.8 L1179.5 1061.34 L1179 1061.24 L1178.5 1060.97 L1178 1062.03 L1177.5 1062 L1177 1061.4 L1176.5 1060.98 L1176 1061.79 L1175.5 1061.36 L1175 1061.64 L1174.5 1062.28 L1174 1062.04 L1173.5 1061.92 L1173 1061.84 L1172.5 1061.79 L1172 1060.87 L1171.5 1061.28 L1171 1061.14 L1170.5 1061.4 L1170 1062.04 L1169.5 1062.17 L1169 1063.58 L1168.5 1063 L1168 1062.68 L1167.5 1062.1 L1167 1061.58 L1166.5 1061.62 L1166 1060.77 L1165.5 1060.76 L1165 1060.74 L1164.5 1064.32 L1164 1060.59 L1163.5 1060.21 L1163 1060.6 L1162.5 1061.26 L1162 1060.73 L1161.5 1060.95 L1161 1060.54 L1160.5 1060.77 L1160 1060.97 L1159.5 1064.33 L1159 1062.13 L1158.5 1060.73 L1158 1061.86 L1157.5 1062.34 L1157 1061.88 L1156.5 1062.6 L1156 1060.81 L1155.5 1061.71 L1155 1061.08 L1154.5 1061.23 L1154 1061.36 L1153.5 1061.12 L1153 1062.31 L1152.5 1060.45 L1152 1060.21 L1151.5 1060.35 L1151 1060.75 L1150.5 1061.56 L1150 1061.3 L1149.5 1061.88 L1149 1061.78 L1148.5 1061.34 L1148 1062.86 L1147.5 1060.76 L1147 1060.83 L1146.5 1059.84 L1146 1060.92 L1145.5 1060.88 L1145 1060.89 L1144.5 1062.36 L1144 1062.4 L1143.5 1064.58 L1143 1061.24 L1142.5 1060.77 L1142 1059.37 L1141.5 1059.26 L1141 1059.14 L1140.5 1060.21 L1140 1060.71 L1139.5 1061.85 L1139 1061.91 L1138.5 1061.11 L1138 1060.98 L1137.5 1061 L1137 1062.03 L1136.5 1061.76 L1136 1064.43 L1135.5 1061.9 L1135 1061.83 L1134.5 1061.29 L1134 1061.43 L1133.5 1061.69 L1133 1061.36 L1132.5 1061.53 L1132 1061.73 L1131.5 1061.71 L1131 1061.88 L1130.5 1061.09 L1130 1062.84 L1129.5 1063.19 L1129 1062.16 L1128.5 1061.89 L1128 1062.98 L1127.5 1061.99 L1127 1061.04 L1126.5 1060.46 L1126 1059.95 L1125.5 1060.65 L1125 1059.35 L1124.5 1060.02 L1124 1058.89 L1123.5 1058.54 L1123 1059.05 L1122.5 1058.71 L1122 1058.92 L1121.5 1059.02 L1121 1059.3 L1120.5 1060.08 L1120 1059.67 L1119.5 1059.28 L1119 1059.79 L1118.5 1059.65 L1118 1058.56 L1117.5 1059.44 L1117 1059.13 L1116.5 1058.8 L1116 1060.53 L1115.5 1060.66 L1115 1063.5 L1114.5 1061.3 L1114 1061.21 L1113.5 1060.56 L1113 1060.4 L1112.5 1059.82 L1112 1060.19 L1111.5 1060.95 L1111 1060.85 L1110.5 1060.53 L1110 1060.09 L1109.5 1060.59 L1109 1059.85 L1108.5 1060.55 L1108 1060.62 L1107.5 1059.49 L1107 1059.31 L1106.5 1060.15 L1106 1060.08 L1105.5 1060.19 L1105 1060.47 L1104.5 1060.83 L1104 1061.57 L1103.5 1061.53 L1103 1062.03 L1102.5 1062.19 L1102 1061.66 L1101.5 1062.49 L1101 1062.24 L1100.5 1062.08 L1100 1063.64 L1099.5 1061.79 L1099 1062.65 L1098.5 1062.39 L1098 1062.56 L1097.5 1061.39 L1097 1060.83 L1096.5 1060.64 L1096 1060.74 L1095.5 1060.56 L1095 1059.9 L1094.5 1060.52 L1094 1059.26 L1093.5 1059.27 L1093 1059.39 L1092.5 1059.99 L1092 1059.93 L1091.5 1059.42 L1091 1059.96 L1090.5 1059.13 L1090 1059.43 L1089.5 1059.24 L1089 1060.04 L1088.5 1059.61 L1088 1059.88 L1087.5 1060.72 L1087 1060.49 L1086.5 1061.2 L1086 1062.73 L1085.5 1061.93 L1085 1062.69 L1084.5 1061.46 L1084 1060.8 L1083.5 1060.59 L1083 1061.96 L1082.5 1061.98 L1082 1062.11 L1081.5 1062.05 L1081 1061.14 L1080.5 1060.63 L1080 1060.74 L1079.5 1060.46 L1079 1061.86 L1078.5 1060.69 L1078 1060.88 L1077.5 1062.23 L1077 1061.43 L1076.5 1062.03 L1076 1062.68 L1075.5 1063 L1075 1064.67 L1074.5 1063.99 L1074 1063.18 L1073.5 1062.78 L1073 1062.7 L1072.5 1062.14 L1072 1061.67 L1071.5 1061.5 L1071 1061.86 L1070.5 1062.14 L1070 1063.01 L1069.5 1061.54 L1069 1061.97 L1068.5 1062.54 L1068 1062.04 L1067.5 1061.46 L1067 1061.23 L1066.5 1061.63 L1066 1061.49 L1065.5 1061.98 L1065 1061.65 L1064.5 1061.87 L1064 1062.42 L1063.5 1062.66 L1063 1062.93 L1062.5 1063.36 L1062 1062.66 L1061.5 1062.51 L1061 1062.61 L1060.5 1062.54 L1060 1062.08 L1059.5 1061.52 L1059 1060.66 L1058.5 1061.42 L1058 1061.7 L1057.5 1060.58 L1057 1061.75 L1056.5 1060.88 L1056 1060.32 L1055.5 1061.36 L1055 1061.17 L1054.5 1060.53 L1054 1060.95 L1053.5 1060.55 L1053 1061.03 L1052.5 1060.05 L1052 1060.61 L1051.5 1060.02 L1051 1061.37 L1050.5 1061.62 L1050 1060.97 L1049.5 1061.45 L1049 1062.28 L1048.5 1061.33 L1048 1061.93 L1047.5 1061.84 L1047 1061.38 L1046.5 1061.89 L1046 1062.44 L1045.5 1061.91 L1045 1061.16 L1044.5 1061.16 L1044 1061.47 L1043.5 1062.59 L1043 1061.66 L1042.5 1061.86 L1042 1060.77 L1041.5 1060.67 L1041 1060.22 L1040.5 1060.32 L1040 1060.76 L1039.5 1060.82 L1039 1060.99 L1038.5 1061.14 L1038 1061.57 L1037.5 1062.65 L1037 1063.03 L1036.5 1065.47 L1036 1062.55 L1035.5 1062.81 L1035 1061.8 L1034.5 1060.63 L1034 1061.39 L1033.5 1060.48 L1033 1060.45 L1032.5 1060.86 L1032 1060.73 L1031.5 1060.62 L1031 1060.8 L1030.5 1061.18 L1030 1061.11 L1029.5 1061.05 L1029 1060.9 L1028.5 1060.73 L1028 1060.78 L1027.5 1060.46 L1027 1060.42 L1026.5 1060.37 L1026 1060.69 L1025.5 1060.59 L1025 1060.89 L1024.5 1060.65 L1024 1061.02 L1023.5 1060.68 L1023 1060.2 L1022.5 1061.29 L1022 1060.31 L1021.5 1060.4 L1021 1059.9 L1020.5 1059.77 L1020 1060.58 L1019.5 1064.34 L1019 1061.29 L1018.5 1062.24 L1018 1063.5 L1017.5 1063.6 L1017 1062.99 L1016.5 1062.91 L1016 1063.13 L1015.5 1063.75 L1015 1063.04 L1014.5 1063.68 L1014 1067.48 L1013.5 1064.42 L1013 1063.5 L1012.5 1063.8 L1012 1063.49 L1011.5 1063 L1011 1062.8 L1010.5 1063.11 L1010 1062.72 L1009.5 1062.72 L1009 1062.9 L1008.5 1062.55 L1008 1062.33 L1007.5 1062.04 L1007 1061.91 L1006.5 1063.64 L1006 1062.18 L1005.5 1063.66 L1005 1061.83 L1004.5 1061.67 L1004 1062.97 L1003.5 1063.4 L1003 1062.51 L1002.5 1062.51 L1002 1062.88 L1001.5 1062.24 L1001 1061.43 L1000.5 1060.93 L1000 1061.48 L999.5 1062.29 L999 1061.75 L998.5 1061.67 L998 1062.43 L997.5 1061.15 L997 1061.09 L996.5 1061.66 L996 1062.03 L995.5 1062.6 L995 1063.02 L994.5 1062.69 L994 1061.7 L993.5 1061.46 L993 1061.85 L992.5 1061.25 L992 1061.25 L991.5 1060.81 L991 1061.41 L990.5 1061.9 L990 1060.81 L989.5 1060.69 L989 1060.68 L988.5 1060.83 L988 1061.58 L987.5 1061.93 L987 1060.64 L986.5 1061.54 L986 1060.16 L985.5 1060.26 L985 1061.13 L984.5 1061.11 L984 1060.93 L983.5 1061 L983 1061.68 L982.5 1062.54 L982 1062.66 L981.5 1063.21 L981 1062.28 L980.5 1061.92 L980 1061.96 L979.5 1063.57 L979 1062.73 L978.5 1062.73 L978 1063.01 L977.5 1062.79 L977 1062.54 L976.5 1062.79 L976 1063.65 L975.5 1063.17 L975 1063.01 L974.5 1063.01 L974 1062.86 L973.5 1062.75 L973 1061.78 L972.5 1060.87 L972 1061.12 L971.5 1061.57 L971 1060.63 L970.5 1062.65 L970 1060.62 L969.5 1060.86 L969 1061.44 L968.5 1061.83 L968 1061.85 L967.5 1061.86 L967 1061.99 L966.5 1062.3 L966 1061.67 L965.5 1062.56 L965 1061.69 L964.5 1061.37 L964 1061.07 L963.5 1061.77 L963 1061.82 L962.5 1062.67 L962 1061.37 L961.5 1061.71 L961 1061.31 L960.5 1060.9 L960 1060.84 L959.5 1061.98 L959 1061.33 L958.5 1061.7 L958 1061.93 L957.5 1061.26 L957 1061.7 L956.5 1062.72 L956 1061.33 L955.5 1061.96 L955 1061.86 L954.5 1061.11 L954 1061.62 L953.5 1062.85 L953 1062.98 L952.5 1062.22 L952 1062.38 L951.5 1062.02 L951 1063.17 L950.5 1063.41 L950 1063.33 L949.5 1063.1 L949 1062.96 L948.5 1062.19 L948 1062.29 L947.5 1061.65 L947 1061.95 L946.5 1064.82 L946 1061.78 L945.5 1061.52 L945 1062.71 L944.5 1061.38 L944 1061.59 L943.5 1060.74 L943 1060.7 L942.5 1059.87 L942 1060.05 L941.5 1059.71 L941 1059.71 L940.5 1060.51 L940 1060.77 L939.5 1061.04 L939 1061.04 L938.5 1060.2 L938 1060.33 L937.5 1059.91 L937 1059.57 L936.5 1060.73 L936 1059.01 L935.5 1060.53 L935 1060.04 L934.5 1060.88 L934 1061.19 L933.5 1061.5 L933 1061.54 L932.5 1061.34 L932 1061.71 L931.5 1060.38 L931 1060.17 L930.5 1060.36 L930 1061.08 L929.5 1060.71 L929 1060.63 L928.5 1061.28 L928 1060.56 L927.5 1061.18 L927 1061.69 L926.5 1061.91 L926 1062.19 L925.5 1061.91 L925 1061.49 L924.5 1062.1 L924 1061.22 L923.5 1065.8 L923 1061.06 L922.5 1061.72 L922 1061.51 L921.5 1061.46 L921 1062.16 L920.5 1061.48 L920 1061.08 L919.5 1060.77 L919 1061.39 L918.5 1061.63 L918 1061.43 L917.5 1062.53 L917 1061.87 L916.5 1061.71 L916 1061.7 L915.5 1061.66 L915 1061.93 L914.5 1061.09 L914 1061.04 L913.5 1061.62 L913 1061.29 L912.5 1061.25 L912 1061.08 L911.5 1060.75 L911 1060.8 L910.5 1059.99 L910 1060.35 L909.5 1060.79 L909 1061.05 L908.5 1060.21 L908 1061.55 L907.5 1061.68 L907 1061.32 L906.5 1062.05 L906 1061.74 L905.5 1061.25 L905 1061.66 L904.5 1061.19 L904 1061.45 L903.5 1061.39 L903 1062.12 L902.5 1063.16 L902 1062.27 L901.5 1061.93 L901 1061.95 L900.5 1060.4 L900 1059.94 L899.5 1061.11 L899 1060.69 L898.5 1060.87 L898 1061.36 L897.5 1060.68 L897 1060.8 L896.5 1061.91 L896 1061.47 L895.5 1062.36 L895 1061.02 L894.5 1061.17 L894 1061.08 L893.5 1062.72 L893 1061.17 L892.5 1061.03 L892 1064.2 L891.5 1061.44 L891 1060.53 L890.5 1061.97 L890 1060.81 L889.5 1061.47 L889 1060.71 L888.5 1061.25 L888 1060.88 L887.5 1060.93 L887 1061.66 L886.5 1061.69 L886 1063.35 L885.5 1063.47 L885 1061.67 L884.5 1061.19 L884 1061.51 L883.5 1062.55 L883 1063.95 L882.5 1062.22 L882 1061.63 L881.5 1061.54 L881 1062.64 L880.5 1060.51 L880 1061.47 L879.5 1061.04 L879 1061.03 L878.5 1060.68 L878 1060.87 L877.5 1061.13 L877 1060.72 L876.5 1060.65 L876 1061.39 L875.5 1060.56 L875 1060.16 L874.5 1060.21 L874 1060.47 L873.5 1061.46 L873 1063.69 L872.5 1060.87 L872 1060.68 L871.5 1061.25 L871 1061.67 L870.5 1062.11 L870 1061.6 L869.5 1060.71 L869 1060.83 L868.5 1060.08 L868 1059.84 L867.5 1060.37 L867 1060.06 L866.5 1060.87 L866 1060.64 L865.5 1060.2 L865 1061.32 L864.5 1061.68 L864 1061.79 L863.5 1062.59 L863 1062.87 L862.5 1062.93 L862 1065.87 L861.5 1063.07 L861 1062.16 L860.5 1062.34 L860 1060.98 L859.5 1061.3 L859 1061.23 L858.5 1061.54 L858 1061.85 L857.5 1061.41 L857 1061.87 L856.5 1061.96 L856 1062.09 L855.5 1062.09 L855 1061.63 L854.5 1061.13 L854 1060.5 L853.5 1061.57 L853 1060.91 L852.5 1060.63 L852 1060.53 L851.5 1060.83 L851 1060.27 L850.5 1060.36 L850 1060.51 L849.5 1061.58 L849 1060.91 L848.5 1060.58 L848 1060.28 L847.5 1060.25 L847 1061.75 L846.5 1060.37 L846 1060.82 L845.5 1061.32 L845 1060.64 L844.5 1060.75 L844 1061.04 L843.5 1060.41 L843 1061.06 L842.5 1063.01 L842 1062.33 L841.5 1062.05 L841 1063.01 L840.5 1061.73 L840 1061.87 L839.5 1062.67 L839 1062.04 L838.5 1061.92 L838 1061.01 L837.5 1062.43 L837 1062.32 L836.5 1062.42 L836 1061.89 L835.5 1061.1 L835 1062.08 L834.5 1061.08 L834 1060.28 L833.5 1060.48 L833 1061.84 L832.5 1061.48 L832 1061.56 L831.5 1061.12 L831 1062.27 L830.5 1060.72 L830 1061.92 L829.5 1061.31 L829 1061.43 L828.5 1061.55 L828 1063.33 L827.5 1061.45 L827 1062.11 L826.5 1062.05 L826 1061.82 L825.5 1060.99 L825 1063.89 L824.5 1061.12 L824 1062.47 L823.5 1063.37 L823 1063.58 L822.5 1062.54 L822 1062.55 L821.5 1061.79 L821 1060.58 L820.5 1059.87 L820 1059.28 L819.5 1060.42 L819 1059.78 L818.5 1060.57 L818 1061.37 L817.5 1061.8 L817 1062.95 L816.5 1061.8 L816 1063.04 L815.5 1061.93 L815 1061.09 L814.5 1060.8 L814 1061.54 L813.5 1061.08 L813 1060.56 L812.5 1060.96 L812 1060.62 L811.5 1062.38 L811 1061.06 L810.5 1062.15 L810 1060.19 L809.5 1063.61 L809 1061.71 L808.5 1061.4 L808 1062.57 L807.5 1062.86 L807 1062.82 L806.5 1063.59 L806 1062.35 L805.5 1062.64 L805 1063.16 L804.5 1062.86 L804 1062.64 L803.5 1062.29 L803 1062.21 L802.5 1061.84 L802 1062.5 L801.5 1062.31 L801 1061.63 L800.5 1062.64 L800 1062.23 L799.5 1061.21 L799 1061.73 L798.5 1061.31 L798 1061.73 L797.5 1061.44 L797 1061.51 L796.5 1062.02 L796 1062.4 L795.5 1062.07 L795 1062.53 L794.5 1062.28 L794 1061.37 L793.5 1060.97 L793 1060.65 L792.5 1060.68 L792 1060.99 L791.5 1061.32 L791 1061.75 L790.5 1061.87 L790 1062.74 L789.5 1060.9 L789 1060.28 L788.5 1060.18 L788 1060.44 L787.5 1060.9 L787 1062.25 L786.5 1061.81 L786 1062.28 L785.5 1062.76 L785 1063.1 L784.5 1062.82 L784 1062.56 L783.5 1061.83 L783 1060.92 L782.5 1060.75 L782 1060.86 L781.5 1061.81 L781 1061.77 L780.5 1061.76 L780 1062.31 L779.5 1061.14 L779 1060.8 L778.5 1061.12 L778 1060.51 L777.5 1061.19 L777 1061.92 L776.5 1061.5 L776 1061.56 L775.5 1061.84 L775 1062.9 L774.5 1062.26 L774 1062.02 L773.5 1062.47 L773 1062.16 L772.5 1062.04 L772 1063.11 L771.5 1061.69 L771 1061.68 L770.5 1062.17 L770 1063.86 L769.5 1060.57 L769 1060.62 L768.5 1060.77 L768 1060.39 L767.5 1060.84 L767 1060.66 L766.5 1060.74 L766 1061.1 L765.5 1061.15 L765 1061.38 L764.5 1061.95 L764 1062.56 L763.5 1061.95 L763 1062.71 L762.5 1063.19 L762 1062.55 L761.5 1062.66 L761 1067 L760.5 1063.17 L760 1062.46 L759.5 1063.11 L759 1062.99 L758.5 1063.67 L758 1062.96 L757.5 1062.54 L757 1063.77 L756.5 1063.75 L756 1062.75 L755.5 1062.77 L755 1062.83 L754.5 1062.26 L754 1060.79 L753.5 1062 L753 1061.66 L752.5 1062.36 L752 1062.5 L751.5 1063.43 L751 1062.58 L750.5 1062.71 L750 1062.84 L749.5 1063.42 L749 1063.22 L748.5 1064.38 L748 1063.32 L747.5 1063.26 L747 1063.17 L746.5 1062.88 L746 1062.56 L745.5 1063.07 L745 1063.03 L744.5 1063.92 L744 1063.1 L743.5 1063.58 L743 1064.05 L742.5 1063.14 L742 1062.99 L741.5 1062.66 L741 1061.36 L740.5 1061.67 L740 1060.78 L739.5 1061.45 L739 1061.06 L738.5 1061.89 L738 1061.52 L737.5 1061.15 L737 1061.07 L736.5 1061.35 L736 1062.59 L735.5 1062.48 L735 1063.54 L734.5 1062.9 L734 1063.34 L733.5 1063.28 L733 1063.57 L732.5 1062.32 L732 1061.91 L731.5 1062.08 L731 1062.27 L730.5 1061.73 L730 1062.76 L729.5 1061.87 L729 1062.62 L728.5 1062.42 L728 1063.91 L727.5 1063.23 L727 1062.41 L726.5 1062.38 L726 1062.64 L725.5 1061.67 L725 1062.9 L724.5 1062.51 L724 1061.72 L723.5 1062.43 L723 1063.02 L722.5 1064.17 L722 1064.58 L721.5 1066.01 L721 1063.14 L720.5 1062.94 L720 1064.06 L719.5 1063.29 L719 1063.31 L718.5 1063.95 L718 1062.8 L717.5 1063.62 L717 1061.16 L716.5 1060.96 L716 1060.7 L715.5 1060.4 L715 1060.91 L714.5 1063.88 L714 1060.85 L713.5 1061.87 L713 1061.26 L712.5 1061.17 L712 1062.74 L711.5 1060.96 L711 1063.66 L710.5 1063.47 L710 1061.57 L709.5 1061.33 L709 1061.86 L708.5 1061.52 L708 1060.89 L707.5 1062.52 L707 1061.29 L706.5 1060.69 L706 1060.59 L705.5 1060.74 L705 1060.58 L704.5 1060.13 L704 1059.78 L703.5 1060.44 L703 1059.82 L702.5 1060.75 L702 1060.91 L701.5 1059.15 L701 1059.39 L700.5 1060.43 L700 1061.29 L699.5 1061.35 L699 1061.53 L698.5 1061.05 L698 1061.05 L697.5 1060.96 L697 1062.23 L696.5 1061.14 L696 1061.2 L695.5 1061.4 L695 1061.41 L694.5 1062.42 L694 1062.01 L693.5 1061.04 L693 1060.74 L692.5 1060.49 L692 1061.46 L691.5 1060.17 L691 1060.28 L690.5 1061.02 L690 1061.4 L689.5 1061.84 L689 1061.31 L688.5 1060.94 L688 1061.42 L687.5 1060.62 L687 1060.54 L686.5 1060.85 L686 1060.34 L685.5 1061.27 L685 1060.15 L684.5 1060.42 L684 1060.29 L683.5 1059.86 L683 1061.16 L682.5 1061.18 L682 1060.48 L681.5 1061.21 L681 1062.47 L680.5 1061.1 L680 1062.37 L679.5 1061.81 L679 1063.19 L678.5 1063.07 L678 1061.38 L677.5 1060.99 L677 1060.86 L676.5 1061.11 L676 1061.63 L675.5 1060.8 L675 1060.61 L674.5 1061.59 L674 1061.4 L673.5 1061.24 L673 1061.59 L672.5 1061.46 L672 1061.92 L671.5 1061.52 L671 1061.37 L670.5 1060.99 L670 1064.74 L669.5 1061.54 L669 1061.28 L668.5 1061.4 L668 1061.56 L667.5 1061.48 L667 1061.54 L666.5 1062.3 L666 1061.97 L665.5 1062.15 L665 1061.81 L664.5 1062.11 L664 1062.08 L663.5 1061.46 L663 1061.07 L662.5 1061.94 L662 1061.63 L661.5 1061.48 L661 1060.75 L660.5 1060.64 L660 1060.92 L659.5 1061.05 L659 1060.99 L658.5 1060.84 L658 1061.44 L657.5 1061.28 L657 1061.46 L656.5 1063.21 L656 1061.95 L655.5 1061.45 L655 1061.53 L654.5 1061.85 L654 1061.95 L653.5 1061.28 L653 1060.33 L652.5 1061.37 L652 1061.61 L651.5 1061.44 L651 1061.46 L650.5 1061.8 L650 1061.95 L649.5 1061.51 L649 1063.74 L648.5 1062.62 L648 1062.53 L647.5 1062.4 L647 1063.18 L646.5 1062.37 L646 1063.25 L645.5 1062.38 L645 1061.67 L644.5 1062.69 L644 1062.06 L643.5 1061.33 L643 1062.31 L642.5 1064.79 L642 1062.72 L641.5 1062.7 L641 1062.46 L640.5 1062.51 L640 1061.95 L639.5 1061.18 L639 1060.29 L638.5 1060.59 L638 1060.72 L637.5 1060.41 L637 1060.63 L636.5 1060.37 L636 1060.22 L635.5 1061.2 L635 1060.68 L634.5 1061.5 L634 1061.18 L633.5 1061.78 L633 1062.35 L632.5 1061.9 L632 1061.46 L631.5 1061.19 L631 1060.55 L630.5 1060.45 L630 1060.33 L629.5 1060.1 L629 1060.47 L628.5 1060.23 L628 1061.63 L627.5 1061.7 L627 1061.74 L626.5 1062.46 L626 1062.58 L625.5 1062.22 L625 1064.85 L624.5 1062.79 L624 1062.46 L623.5 1061.5 L623 1062.26 L622.5 1060.54 L622 1060.82 L621.5 1061.42 L621 1061.56 L620.5 1060.56 L620 1059.88 L619.5 1059.92 L619 1060.39 L618.5 1059.58 L618 1060.44 L617.5 1059.52 L617 1060.22 L616.5 1059.36 L616 1061.31 L615.5 1059.8 L615 1059.67 L614.5 1060.24 L614 1060.91 L613.5 1062.6 L613 1059.78 L612.5 1059.81 L612 1060.31 L611.5 1060.65 L611 1061.39 L610.5 1060.99 L610 1061.23 L609.5 1061.06 L609 1061 L608.5 1059.95 L608 1059.98 L607.5 1060.13 L607 1059.81 L606.5 1060.27 L606 1062.26 L605.5 1061.33 L605 1061.84 L604.5 1063.05 L604 1062.8 L603.5 1063 L603 1062.55 L602.5 1062.07 L602 1061.73 L601.5 1060.55 L601 1061.42 L600.5 1061.32 L600 1061.56 L599.5 1061.03 L599 1061.31 L598.5 1060.37 L598 1060.8 L597.5 1061.47 L597 1061.9 L596.5 1064.5 L596 1063.07 L595.5 1063.94 L595 1061.97 L594.5 1061.93 L594 1062.17 L593.5 1062.72 L593 1062.68 L592.5 1063.02 L592 1062.57 L591.5 1062.94 L591 1063.25 L590.5 1062.34 L590 1062.39 L589.5 1061.53 L589 1061.08 L588.5 1060.58 L588 1061.43 L587.5 1060.94 L587 1061.22 L586.5 1061.3 L586 1061.73 L585.5 1062.55 L585 1061.49 L584.5 1061.96 L584 1065.6 L583.5 1062.44 L583 1062.3 L582.5 1063.22 L582 1062.22 L581.5 1061.86 L581 1061.92 L580.5 1062.24 L580 1064.23 L579.5 1061.86 L579 1062.41 L578.5 1061.72 L578 1062.21 L577.5 1062.88 L577 1061.72 L576.5 1061.52 L576 1063.03 L575.5 1061.85 L575 1064.53 L574.5 1061.65 L574 1061.17 L573.5 1061.67 L573 1060.87 L572.5 1060.39 L572 1060.62 L571.5 1060.58 L571 1061.52 L570.5 1061.54 L570 1062.3 L569.5 1061.43 L569 1061.1 L568.5 1062.27 L568 1060.63 L567.5 1061.15 L567 1061.4 L566.5 1061.53 L566 1062.59 L565.5 1060.7 L565 1060.56 L564.5 1060.73 L564 1061.56 L563.5 1061.86 L563 1062.34 L562.5 1062.92 L562 1064.08 L561.5 1063.22 L561 1063.21 L560.5 1063.21 L560 1062.27 L559.5 1061.36 L559 1062.78 L558.5 1061.82 L558 1062.04 L557.5 1061.68 L557 1063.75 L556.5 1063.8 L556 1061.99 L555.5 1061.55 L555 1063.89 L554.5 1062.05 L554 1061.64 L553.5 1062.3 L553 1062.84 L552.5 1062.08 L552 1062.8 L551.5 1062.11 L551 1062.69 L550.5 1062.38 L550 1062.28 L549.5 1061.89 L549 1062.39 L548.5 1062.46 L548 1062.3 L547.5 1062.91 L547 1062.47 L546.5 1061.79 L546 1062.17 L545.5 1062.13 L545 1061.89 L544.5 1061.98 L544 1061.99 L543.5 1062.18 L543 1062.08 L542.5 1061.53 L542 1061.43 L541.5 1062.18 L541 1061.17 L540.5 1062.18 L540 1060.93 L539.5 1061.73 L539 1061.16 L538.5 1060.41 L538 1060.67 L537.5 1060.86 L537 1062.34 L536.5 1061.71 L536 1063.31 L535.5 1063.09 L535 1062.58 L534.5 1062.07 L534 1061.82 L533.5 1062.05 L533 1061.49 L532.5 1061.92 L532 1061.48 L531.5 1061.6 L531 1061.19 L530.5 1061.5 L530 1061.66 L529.5 1061.41 L529 1060.32 L528.5 1060.42 L528 1060.72 L527.5 1060.56 L527 1061.43 L526.5 1063.12 L526 1061.87 L525.5 1062.26 L525 1061.94 L524.5 1061.77 L524 1060.78 L523.5 1062.5 L523 1062.3 L522.5 1061.26 L522 1061.64 L521.5 1061.8 L521 1061.97 L520.5 1062.78 L520 1061.65 L519.5 1061.6 L519 1061.69 L518.5 1062.26 L518 1061.64 L517.5 1062 L517 1061.63 L516.5 1062.21 L516 1061.76 L515.5 1061.66 L515 1063.66 L514.5 1062.29 L514 1062.56 L513.5 1062.6 L513 1062.5 L512.5 1063.38 L512 1063.09 L511.5 1062.67 L511 1061.71 L510.5 1061.71 L510 1062.66 L509.5 1062.41 L509 1063.27 L508.5 1063.15 L508 1063.75 L507.5 1063.35 L507 1062.82 L506.5 1062.48 L506 1062.37 L505.5 1062.79 L505 1062.72 L504.5 1063.19 L504 1062.97 L503.5 1063.57 L503 1063.37 L502.5 1063.37 L502 1062.18 L501.5 1062.58 L501 1061.71 L500.5 1061.19 L500 1062.31 L499.5 1062.46 L499 1062.95 L498.5 1061.3 L498 1060.92 L497.5 1060.69 L497 1061.06 L496.5 1061.23 L496 1062.61 L495.5 1061.76 L495 1061.89 L494.5 1061.22 L494 1061.26 L493.5 1064.25 L493 1062.03 L492.5 1061.36 L492 1060.81 L491.5 1061.54 L491 1060.88 L490.5 1061.42 L490 1060.85 L489.5 1060.58 L489 1060.67 L488.5 1062.75 L488 1062.54 L487.5 1062.01 L487 1060.98 L486.5 1060.3 L486 1062.01 L485.5 1061.41 L485 1061.98 L484.5 1061.96 L484 1061.68 L483.5 1061.05 L483 1061.32 L482.5 1061.83 L482 1061.02 L481.5 1061.21 L481 1061.75 L480.5 1062.47 L480 1062.12 L479.5 1061.98 L479 1062.71 L478.5 1061.41 L478 1061.66 L477.5 1060.87 L477 1061.02 L476.5 1061.68 L476 1061.34 L475.5 1061.22 L475 1061.26 L474.5 1061.52 L474 1061.16 L473.5 1060.91 L473 1062.22 L472.5 1061.95 L472 1062.12 L471.5 1060.95 L471 1061.97 L470.5 1061.77 L470 1061.87 L469.5 1062.09 L469 1061.39 L468.5 1060.66 L468 1059.97 L467.5 1059.62 L467 1058.97 L466.5 1059.05 L466 1059.95 L465.5 1060.3 L465 1061.29 L464.5 1061.47 L464 1061.33 L463.5 1061.13 L463 1062.14 L462.5 1060.88 L462 1060.99 L461.5 1060.89 L461 1060.55 L460.5 1060.77 L460 1060.99 L459.5 1060.34 L459 1060.77 L458.5 1060.79 L458 1060.18 L457.5 1060.01 L457 1061.18 L456.5 1060.52 L456 1061.32 L455.5 1060.81 L455 1061.48 L454.5 1060.95 L454 1060.83 L453.5 1062.07 L453 1061.99 L452.5 1061.52 L452 1062.09 L451.5 1062.75 L451 1061.16 L450.5 1061.12 L450 1061.74 L449.5 1061.42 L449 1063.93 L448.5 1060.99 L448 1059.7 L447.5 1060.38 L447 1060.91 L446.5 1059.81 L446 1059.89 L445.5 1060.15 L445 1059.71 L444.5 1060.17 L444 1061.43 L443.5 1060.86 L443 1061.52 L442.5 1061.65 L442 1062.33 L441.5 1061.57 L441 1061.17 L440.5 1061.01 L440 1061.85 L439.5 1061.34 L439 1061.18 L438.5 1061.13 L438 1062.32 L437.5 1061.63 L437 1061.89 L436.5 1061.59 L436 1060.66 L435.5 1061.08 L435 1061.83 L434.5 1060.46 L434 1060.82 L433.5 1061.53 L433 1061.59 L432.5 1060.15 L432 1060.08 L431.5 1060.44 L431 1060.86 L430.5 1061.97 L430 1062.28 L429.5 1062.19 L429 1061.71 L428.5 1061.07 L428 1060.55 L427.5 1060.38 L427 1059.45 L426.5 1059.52 L426 1061.08 L425.5 1060.61 L425 1061.19 L424.5 1060.34 L424 1060.95 L423.5 1061 L423 1061.42 L422.5 1061.3 L422 1060.85 L421.5 1061.07 L421 1063.49 L420.5 1062.29 L420 1061.78 L419.5 1061.76 L419 1061.85 L418.5 1063.37 L418 1062.34 L417.5 1062.24 L417 1062.36 L416.5 1062.08 L416 1063 L415.5 1061.84 L415 1061.53 L414.5 1061.39 L414 1061.67 L413.5 1061.72 L413 1061.91 L412.5 1062.43 L412 1062.62 L411.5 1061.75 L411 1061.93 L410.5 1062.13 L410 1060.59 L409.5 1061.06 L409 1060.13 L408.5 1060.47 L408 1060.66 L407.5 1060.93 L407 1060.72 L406.5 1062.57 L406 1063.17 L405.5 1062.45 L405 1061.66 L404.5 1062.14 L404 1061.3 L403.5 1061.44 L403 1062.01 L402.5 1063.56 L402 1061.91 L401.5 1061.1 L401 1061.02 L400.5 1060.08 L400 1060.32 L399.5 1060.82 L399 1061 L398.5 1061.73 L398 1061.02 L397.5 1061.31 L397 1059.81 L396.5 1060.36 L396 1060.53 L395.5 1063.31 L395 1061.72 L394.5 1061.41 L394 1062.08 L393.5 1061.42 L393 1062.17 L392.5 1060.96 L392 1060.46 L391.5 1059.87 L391 1060.42 L390.5 1060.95 L390 1060.29 L389.5 1064.74 L389 1060.65 L388.5 1060.82 L388 1060.97 L387.5 1060.12 L387 1060.56 L386.5 1060.13 L386 1059.77 L385.5 1060.11 L385 1061.41 L384.5 1061.45 L384 1061.83 L383.5 1060.95 L383 1061.41 L382.5 1061.31 L382 1060.04 L381.5 1060.2 L381 1060.29 L380.5 1060.74 L380 1061.17 L379.5 1060.51 L379 1060.61 L378.5 1060.54 L378 1060.73 L377.5 1060.04 L377 1059.81 L376.5 1060.79 L376 1059.69 L375.5 1060.82 L375 1060.77 L374.5 1061.17 L374 1061.44 L373.5 1061.61 L373 1061.71 L372.5 1061.61 L372 1061.35 L371.5 1060.43 L371 1061.08 L370.5 1060.54 L370 1060.76 L369.5 1060.65 L369 1060.37 L368.5 1059.97 L368 1060.59 L367.5 1060.86 L367 1061.29 L366.5 1061.2 L366 1060.97 L365.5 1061.57 L365 1061.02 L364.5 1060.41 L364 1061.08 L363.5 1060.92 L363 1062.3 L362.5 1061.9 L362 1062.31 L361.5 1060.93 L361 1061.01 L360.5 1061.73 L360 1061.9 L359.5 1061.96 L359 1061.62 L358.5 1065.56 L358 1063.64 L357.5 1063.19 L357 1063.64 L356.5 1064.98 L356 1063.26 L355.5 1062.71 L355 1064.4 L354.5 1062.72 L354 1062.23 L353.5 1061.94 L353 1061.67 L352.5 1060.78 L352 1060.39 L351.5 1060.88 L351 1060.72 L350.5 1060.69 L350 1060.17 L349.5 1062.51 L349 1061.14 L348.5 1061.4 L348 1061.29 L347.5 1061.27 L347 1061.11 L346.5 1060.23 L346 1060.99 L345.5 1060.32 L345 1061.51 L344.5 1061.24 L344 1061.64 L343.5 1061.68 L343 1061.73 L342.5 1062.18 L342 1062.48 L341.5 1061.88 L341 1061.53 L340.5 1061.05 L340 1061.53 L339.5 1061.86 L339 1061.31 L338.5 1061.48 L338 1061.86 L337.5 1062.14 L337 1061.84 L336.5 1061.12 L336 1061.16 L335.5 1062.24 L335 1061.93 L334.5 1062.54 L334 1062.26 L333.5 1063.29 L333 1064.08 L332.5 1064.04 L332 1062.93 L331.5 1062.36 L331 1060.9 L330.5 1061.67 L330 1060.94 L329.5 1061.18 L329 1061.69 L328.5 1061.84 L328 1061.09 L327.5 1061.74 L327 1061.23 L326.5 1060.48 L326 1060.69 L325.5 1061.25 L325 1060.53 L324.5 1060.59 L324 1060.46 L323.5 1060.73 L323 1061 L322.5 1061.41 L322 1062.23 L321.5 1062.66 L321 1062.91 L320.5 1062.34 L320 1063.08 L319.5 1062.76 L319 1063.18 L318.5 1062.73 L318 1063.7 L317.5 1061.92 L317 1062.11 L316.5 1061.56 L316 1061.17 L315.5 1061.31 L315 1062.07 L314.5 1062.76 L314 1063.18 L313.5 1061.78 L313 1061.27 L312.5 1061.14 L312 1062.02 L311.5 1062.37 L311 1061.29 L310.5 1061.56 L310 1062.06 L309.5 1062.3 L309 1062.68 L308.5 1062.22 L308 1061.77 L307.5 1061.13 L307 1061.17 L306.5 1062.17 L306 1062.59 L305.5 1063.14 L305 1063.69 L304.5 1063.46 L304 1062.41 L303.5 1062.69 L303 1062.98 L302.5 1062.13 L302 1062.49 L301.5 1065.58 L301 1061.12 L300.5 1061.13 L300 1060.75 L299.5 1060.97 L299 1062.17 L298.5 1061.6 L298 1062.63 L297.5 1061.02 L297 1060.45 L296.5 1060.61 L296 1060.71 L295.5 1061.26 L295 1062.96 L294.5 1061.85 L294 1061.93 L293.5 1061.52 L293 1061.43 L292.5 1062.27 L292 1062.03 L291.5 1062.22 L291 1062.46 L290.5 1062.73 L290 1063.11 L289.5 1061.95 L289 1062.44 L288.5 1061.01 L288 1060.41 L287.5 1060.41 L287 1061.21 L286.5 1061.65 L286 1060.88 L285.5 1061.37 L285 1061.52 L284.5 1064.36 L284 1061.77 L283.5 1062.03 L283 1061.64 L282.5 1062.26 L282 1062.26 L281.5 1063.76 L281 1062.83 L280.5 1062.11 L280 1063.18 L279.5 1062.29 L279 1060.7 L278.5 1060.45 L278 1060.37 L277.5 1061.69 L277 1060.49 L276.5 1060.98 L276 1061.45 L275.5 1062.17 L275 1064.67 L274.5 1061.25 L274 1062.61 L273.5 1062.67 L273 1062.66 L272.5 1062.17 L272 1063.03 L271.5 1061.92 L271 1062.09 L270.5 1061.8 L270 1063.69 L269.5 1061.29 L269 1061.2 L268.5 1060.8 L268 1061.2 L267.5 1060.35 L267 1060.64 L266.5 1060.7 L266 1061.16 L265.5 1060.65 L265 1062.49 L264.5 1061.84 L264 1063.17 L263.5 1061.62 L263 1062.73 L262.5 1061.58 L262 1061.82 L261.5 1062.22 L261 1061.61 L260.5 1062.25 L260 1062.11 L259.5 1060.61 L259 1060.18 L258.5 1060.45 L258 1060.86 L257.5 1061.36 L257 1061.43 L256.5 1064.95 L256 1060.83 L255.5 1062.02 L255 1061.57 L254.5 1061.62 L254 1061.73 L253.5 1061.32 L253 1060.95 L252.5 1061.21 L252 1060.48 L251.5 1060.6 L251 1061.28 L250.5 1060.79 L250 1061.37 L249.5 1061.25 L249 1061.78 L248.5 1061.85 L248 1062.71 L247.5 1063.19 L247 1063.82 L246.5 1063.48 L246 1063.09 L245.5 1063.41 L245 1063.29 L244.5 1062.86 L244 1063.46 L243.5 1062.23 L243 1061.13 L242.5 1060.85 L242 1060.69 L241.5 1061.47 L241 1061.49 L240.5 1060.45 L240 1060.65 L239.5 1059.87 L239 1060.34 L238.5 1059.49 L238 1059.13 L237.5 1059.4 L237 1059.88 L236.5 1059.48 L236 1059.82 L235.5 1061.24 L235 1061.24 L234.5 1060.81 L234 1061.1 L233.5 1061.23 L233 1061.62 L232.5 1061.45 L232 1061.39 L231.5 1062.74 L231 1062.53 L230.5 1061.5 L230 1062.48 L229.5 1062.02 L229 1061.58 L228.5 1062.59 L228 1061.68 L227.5 1062.35 L227 1061.66 L226.5 1061.2 L226 1061.51 L225.5 1061.22 L225 1061.81 L224.5 1062.04 L224 1065.29 L223.5 1062.29 L223 1065.92 L222.5 1063.39 L222 1062.69 L221.5 1061.98 L221 1061.88 L220.5 1061.94 L220 1062.32 L219.5 1061.53 L219 1064.27 L218.5 1061.55 L218 1060.59 L217.5 1061.47 L217 1060.15 L216.5 1059.77 L216 1061.26 L215.5 1060.21 L215 1060.05 L214.5 1059.56 L214 1060.19 L213.5 1060.47 L213 1059.91 L212.5 1061.66 L212 1061.05 L211.5 1060.02 L211 1059.88 L210.5 1059.87 L210 1063.85 L209.5 1060.38 L209 1060.76 L208.5 1060.97 L208 1059.82 L207.5 1060.2 L207 1060.27 L206.5 1061.82 L206 1060.09 L205.5 1061.06 L205 1061.1 L204.5 1061.8 L204 1061.76 L203.5 1061.99 L203 1061.82 L202.5 1062.37 L202 1061.45 L201.5 1061.99 L201 1061.24 L200.5 1061.82 L200 1060.86 L199.5 1061.24 L199 1063.49 L198.5 1061.01 L198 1062.69 L197.5 1061.9 L197 1061.42 L196.5 1061.02 L196 1061.34 L195.5 1060.12 L195 1060.41 L194.5 1061.01 L194 1063.68 L193.5 1060.5 L193 1060.86 L192.5 1060.79 L192 1059.8 L191.5 1060.2 L191 1060.01 L190.5 1060.35 L190 1060.58 L189.5 1060.59 L189 1061.22 L188.5 1060.26 L188 1060.98 L187.5 1059.88 L187 1060.08 L186.5 1060.31 L186 1060.21 L185.5 1063.59 L185 1062.06 L184.5 1061.13 L184 1060.9 L183.5 1060.55 L183 1061.36 L182.5 1061.07 L182 1060.83 L181.5 1060.86 L181 1060.67 L180.5 1061.24 L180 1060.26 L179.5 1061.62 L179 1060.38 L178.5 1061.17 L178 1062.93 L177.5 1062.08 L177 1063.21 L176.5 1062.93 L176 1063.94 L175.5 1064.35 L175 1063.31 L174.5 1063.73 L174 1063.43 L173.5 1062.97 L173 1062.89 L172.5 1062.36 L172 1062.53 L171.5 1063.63 L171 1062.81 L170.5 1063.42 L170 1063.71 L169.5 1063.27 L169 1062.56 L168.5 1063.22 L168 1062.85 L167.5 1063.63 L167 1062.75 L166.5 1061.62 L166 1065.14 L165.5 1060.92 L165 1061.06 L164.5 1060.72 L164 1060.5 L163.5 1060.74 L163 1061.96 L162.5 1063.51 L162 1061.86 L161.5 1062.04 L161 1061.54 L160.5 1059.51 L160 1059.02 L159.5 1059.39 L159 1058.81 L158.5 1059.4 L158 1059.8 L157.5 1060.32 L157 1059.39 L156.5 1059.85 L156 1061 L155.5 1060.71 L155 1060.69 L154.5 1060.62 L154 1060.83 L153.5 1060.63 L153 1060.09 L152.5 1060.12 L152 1060.46 L151.5 1060.42 L151 1060.65 L150.5 1061.51 L150 1060.18 L149.5 1059.59 L149 1059.42 L148.5 1059.45 L148 1059.27 L147.5 1059.47 L147 1061.11 L146.5 1060.48 L146 1061.21 L145.5 1060.41 L145 1061.96 L144.5 1062.66 L144 1062.08 L143.5 1061.82 L143 1061.29 L142.5 1061.23 L142 1061.49 L141.5 1060.99 L141 1060.62 L140.5 1061.03 L140 1060.92 L139.5 1062.34 L139 1061.19 L138.5 1061.64 L138 1061.42 L137.5 1060.36 L137 1060.29 L136.5 1060.57 L136 1060.96 L135.5 1061.44 L135 1060.72 L134.5 1060.82 L134 1061.49 L133.5 1061.59 L133 1062.1 L132.5 1062.08 L132 1062 L131.5 1062.43 L131 1061.6 L130.5 1061.25 L130 1061.06 L129.5 1061.19 L129 1060.66 L128.5 1060.43 L128 1059.07 L127.5 1058.53 L127 1058.47 L126.5 1060.46 L126 1059.19 L125.5 1060.83 L125 1060.13 L124.5 1061.05 L124 1060.54 L123.5 1062.36 L123 1059.58 L122.5 1059.88 L122 1059.5 L121.5 1059.81 L121 1060.58 L120.5 1061.5 L120 1062.48 L119.5 1061.17 L119 1061.35 L118.5 1061.02 L118 1060.94 L117.5 1060.87 L117 1061.38 L116.5 1061.86 L116 1062.68 L115.5 1062.48 L115 1062.95 L114.5 1063.66 L114 1062.37 L113.5 1062.13 L113 1062.63 L112.5 1061.74 L112 1062.98 L111.5 1062.85 L111 1062.69 L110.5 1062.55 L110 1062.97 L109.5 1062.93 L109 1063.14 L108.5 1062.34 L108 1062.39 L107.5 1062.68 L107 1063.29 L106.5 1063.76 L106 1064.43 L105.5 1063.47 L105 1063.27 L104.5 1062.05 L104 1061.45 L103.5 1061.71 L103 1060.91 L102.5 1061.44 L102 1061.67 L101.5 1061.51 L101 1060.57 L100.5 1060.65 L100 1061.67 L99.5 1062.43 L99 1062.64 L98.5 1062.2 L98 1063.48 L97.5 1062.63 L97 1063.14 L96.5 1062.93 L96 1066.33 L95.5 1063.79 L95 1063.39 L94.5 1062.29 L94 1062.13 L93.5 1061.75 L93 1061.55 L92.5 1062.37 L92 1061.99 L91.5 1062.16 L91 1063.32 L90.5 1062.2 L90 1061.95 L89.5 1061.14 L89 1060.93 L88.5 1061.95 L88 1063.14 L87.5 1064.02 L87 1065.19 L86.5 1063.92 L86 1063.11 L85.5 1064.76 L85 1063.2 L84.5 1062.92 L84 1063.01 L83.5 1062.86 L83 1063.15 L82.5 1063.68 L82 1063.83 L81.5 1063.97 L81 1063.87 L80.5 1062.55 L80 1063.2 L79.5 1063.66 L79 1061.94 L78.5 1061.29 L78 1061.95 L77.5 1062.99 L77 1061.58 L76.5 1063.73 L76 1065.47 L75.5 1063.01 L75 1064.61 L74.5 1061.84 L74 1061.71 L73.5 1061.81 L73 1062.42 L72.5 1061.84 L72 1061.65 L71.5 1062.45 L71 1061.94 L70.5 1061.75 L70 1061.64 L69.5 1061.27 L69 1061.23 L68.5 1061.5 L68 1061.14 L67.5 1061.83 L67 1061.52 L66.5 1061.9 L66 1061.84 L65.5 1062.69 L65 1062.17 L64.5 1062 L64 1063.02 L63.5 1062.79 L63 1061.95 L62.5 1062.72 L62 1062.62 L61.5 1061.61 L61 1062.71 L60.5 1062.13 L60 1062.34 L59.5 1062.11 L59 1062.36 L58.5 1064.29 L58 1064.26 L57.5 1062.93 L57 1062.64 L56.5 1062.19 L56 1063.14 L55.5 1063.31 L55 1063.2 L54.5 1062.34 L54 1062.28 L53.5 1061.65 L53 1062.15 L52.5 1062.14 L52 1060.85 L51.5 1060.94 L51 1061.04 L50.5 1061.46 L50 1062.09 L49.5 1062.02 L49 1061.99 L48.5 1062.67 L48 1062.49 L47.5 1061.65 L47 1061.43 L46.5 1061.99 L46 1061.8 L45.5 1062.58 L45 1062.92 L44.5 1061.96 L44 1062.23 L43.5 1062.88 L43 1061.67 L42.5 1064.51 L42 1062.66 L41.5 1061.76 L41 1062.68 L40.5 1063.46 L40 1062.41 L39.5 1062.66 L39 1062.29 L38.5 1061.88 L38 1061.19 L37.5 1060.04 L37 1060.14 L36.5 1061.07 L36 1061.2 L35.5 1060.13 L35 1061.16 L34.5 1060.49 L34 1060.79 L33.5 1060.59 L33 1061.43 L32.5 1061.56 L32 1061.5 L31.5 1061.55 L31 1062.7 L30.5 1061.89 L30 1061.87 L29.5 1062.08 L29 1062.23 L28.5 1063.49 L28 1065.25 L27.5 1061.68 L27 1061.67 L26.5 1061.49 L26 1061.31 L25.5 1062.39 L25 1061.5 L24.5 1062.36 L24 1061.88 L23.5 1062.35 L23 1063.17 L22.5 1062.83 L22 1063.31 L21.5 1062.91 L21 1063.77 L20.5 1062.93 L20 1062.27 L19.5 1063.02 L19 1063.32 L18.5 1062.72 L18 1062.98 L17.5 1063.04 L17 1062.76 L16.5 1062.62 L16 1062.74 L15.5 1062.45 L15 1063.29 L14.5 1062.46 L14 1062.1 L13.5 1061.96 L13 1063.15 L12.5 1062.23 L12 1062.01 L11.5 1063.08Z" fill="#000"/>
<path d="M11.5 1057.78L12 1058.26L12.5 1057.77L13 1056.14L13.5 1058.35L14 1057.89L14.5 1056.91L15 1058.03L15.5 1057.81L16 1057.74L16.5 1057.47L17 1057.99L17.5 1056.71L18 1057.28L18.5 1056.96L19 1058.03L19.5 1057.47L20 1057.14L20.5 1056.64L21 1057.16L21.5 1057.42L22 1057.13L22.5 1058.7L23 1058.41L23.5 1054.68L24 1055.5L24.5 1057.21L25 1056.96L25.5 1057.59L26 1057.58L26.5 1059.48L27 1056.24L27.5 1056.97L28 1059.38L28.5 1057.98L29 1057.99L29.5 1056.81L30 1055.66L30.5 1057.47L31 1057.41L31.5 1056.07L32 1056.6L32.5 1057.21L33 1056.33L33.5 1057.17L34 1057.36L34.5 1057.29L35 1056.74L35.5 1057.84L36 1058.13L36.5 1057.55L37 1056.41L37.5 1057.95L38 1056.72L38.5 1058.09L39 1056.14L39.5 1058.12L40 1057.18L40.5 1055.95L41 1056.88L41.5 1057.24L42 1057.46L42.5 1056.2L43 1056.08L43.5 1057.38L44 1056.71L44.5 1057.41L45 1057.94L45.5 1055.53L46 1057.43L46.5 1058.4L47 1056.88L47.5 1056.37L48 1057.93L48.5 1057.44L49 1058.08L49.5 1056.84L50 1055.71L50.5 1057.08L51 1056.75L51.5 1057.98L52 1057.4L52.5 1055.58L53 1056.02L53.5 1058.1L54 1057.91L54.5 1056.59L55 1057.24L55.5 1057.69L56 1057.72L56.5 1058.13L57 1057.52L57.5 1057.18L58 1057.02L58.5 1058.34L59 1055.05L59.5 1057.17L60 1057.35L60.5 1055.9L61 1057.66L61.5 1056.69L62 1058.21L62.5 1057.23L63 1058.04L63.5 1058.6L64 1057.77L64.5 1056.52L65 1055.89L65.5 1059.17L66 1057.32L66.5 1056.75L67 1057.59L67.5 1057.27L68 1058.32L68.5 1057.51L69 1057.5L69.5 1056.78L70 1057.97L70.5 1056.48L71 1058.19L71.5 1059.06L72 1056.02L72.5 1055.08L73 1058.17L73.5 1060.11L74 1056.57L74.5 1056.33L75 1058.18L75.5 1056.76L76 1057.1L76.5 1057.26L77 1058.15L77.5 1057.22L78 1057.9L78.5 1057.46L79 1056.79L79.5 1057.32L80 1056.69L80.5 1057.65L81 1056.53L81.5 1056.56L82 1059.11L82.5 1057.6L83 1057.6L83.5 1058.17L84 1057.24L84.5 1057.43L85 1058.08L85.5 1057.94L86 1056.5L86.5 1058.49L87 1057.06L87.5 1056.59L88 1056.74L88.5 1057.25L89 1059.26L89.5 1056.46L90 1057.78L90.5 1055.48L91 1057.61L91.5 1058.5L92 1057.36L92.5 1056.96L93 1057.81L93.5 1058.27L94 1058.23L94.5 1059.52L95 1057.75L95.5 1056.94L96 1057.39L96.5 1057.43L97 1057.6L97.5 1057.45L98 1057.64L98.5 1055.78L99 1058.27L99.5 1056.85L100 1056.24L100.5 1058.04L101 1058.7L101.5 1057.86L102 1057.51L102.5 1056.4L103 1060.19L103.5 1058.18L104 1056.15L104.5 1056.49L105 1057.34L105.5 1055.68L106 1057.39L106.5 1056.74L107 1058.41L107.5 1058.13L108 1054.43L108.5 1057.17L109 1055.49L109.5 1058.2L110 1057.24L110.5 1057.6L111 1055.97L111.5 1058.85L112 1059.02L112.5 1055.92L113 1057.34L113.5 1056.27L114 1056.91L114.5 1055.65L115 1058.76L115.5 1055.91L116 1056.56L116.5 1057.34L117 1056.18L117.5 1056.57L118 1056.23L118.5 1056.64L119 1055.59L119.5 1056.31L120 1056.53L120.5 1056.38L121 1056.76L121.5 1056.4L122 1057.43L122.5 1056.34L123 1056.51L123.5 1055.97L124 1056.1L124.5 1055.35L125 1057.12L125.5 1055.45L126 1055.84L126.5 1056.93L127 1056.97L127.5 1056.16L128 1054.53L128.5 1056.96L129 1056.79L129.5 1055.11L130 1057.29L130.5 1055.81L131 1055.38L131.5 1056.6L132 1056.32L132.5 1056.7L133 1054.88L133.5 1058.3L134 1055.88L134.5 1054.94L135 1057.1L135.5 1056.12L136 1056.8L136.5 1056.14L137 1056.42L137.5 1056.72L138 1055.73L138.5 1057.16L139 1056.01L139.5 1055.61L140 1056.56L140.5 1056.93L141 1056.26L141.5 1055.63L142 1057.12L142.5 1054.74L143 1055.48L143.5 1056.55L144 1055.16L144.5 1056.55L145 1056.47L145.5 1057.43L146 1055.63L146.5 1055.92L147 1056.89L147.5 1054.1L148 1059.67L148.5 1055.88L149 1055.85L149.5 1057.45L150 1056.56L150.5 1054.82L151 1057.24L151.5 1057.47L152 1056.18L152.5 1056.35L153 1057.13L153.5 1055.74L154 1057.1L154.5 1056.86L155 1056L155.5 1055.29L156 1056.46L156.5 1055.82L157 1057.7L157.5 1056.85L158 1057.5L158.5 1056.86L159 1056.99L159.5 1055.95L160 1057.41L160.5 1058.53L161 1056.44L161.5 1056.16L162 1056.6L162.5 1056.29L163 1056.07L163.5 1056.91L164 1056.49L164.5 1058.22L165 1056.79L165.5 1057.11L166 1057.74L166.5 1056.49L167 1058.23L167.5 1056.17L168 1055.99L168.5 1056.44L169 1056.69L169.5 1055.4L170 1056.77L170.5 1055.14L171 1058.19L171.5 1056.72L172 1056.16L172.5 1055.89L173 1056.41L173.5 1056.57L174 1055.75L174.5 1055.87L175 1056.6L175.5 1056.26L176 1057.72L176.5 1057.91L177 1056.78L177.5 1057.24L178 1055.42L178.5 1057.39L179 1056.72L179.5 1057.22L180 1058.33L180.5 1054.45L181 1056.98L181.5 1055.61L182 1057.3L182.5 1055.38L183 1056.2L183.5 1056.89L184 1057.29L184.5 1056.74L185 1055.87L185.5 1056.1L186 1057.53L186.5 1056.63L187 1054.94L187.5 1057.46L188 1057.02L188.5 1057.47L189 1056.25L189.5 1057.41L190 1055.51L190.5 1057.13L191 1056.06L191.5 1057.22L192 1057.54L192.5 1055.79L193 1056.47L193.5 1056.55L194 1057.69L194.5 1057.21L195 1055.27L195.5 1056.94L196 1057.22L196.5 1058.59L197 1054.78L197.5 1055.92L198 1057.78L198.5 1055.09L199 1055.24L199.5 1056.95L200 1057.45L200.5 1055.75L201 1056.96L201.5 1056.53L202 1057.93L202.5 1056.41L203 1057.4L203.5 1055.5L204 1056.22L204.5 1056.3L205 1057.54L205.5 1056.98L206 1055.65L206.5 1057.08L207 1057.17L207.5 1056.29L208 1056.15L208.5 1056.21L209 1054.71L209.5 1056.6L210 1056.65L210.5 1055.56L211 1057.17L211.5 1055.06L212 1055.89L212.5 1055.97L213 1058.44L213.5 1054.86L214 1057.03L214.5 1057.42L215 1056.85L215.5 1057.55L216 1054.69L216.5 1051.03L217 1049.67L217.5 1044.45L217.6 1045.21L218 1046.02L218.5 1052.8L219 1055.95L219.5 1055.59L220 1057.47L220.5 1056.73L221 1056.48L221.5 1056.69L222 1056.45L222.5 1057.28L223 1056.99L223.5 1056.35L224 1057.72L224.5 1056.12L225 1052.5L225.3 1023.68L225.5 1044.47L226 1056.27L226.5 1058.54L227 1056.99L227.5 1056.64L228 1056.18L228.5 1057.45L229 1056.93L229.5 1055.8L230 1055.79L230.5 1056.38L231 1056.28L231.5 1058.06L232 1058.37L232.5 1057.88L233 1057.39L233.5 1056.62L234 1057.12L234.5 1057.97L235 1059.23L235.5 1058.03L236 1056.86L236.5 1057.19L237 1056.69L237.5 1056.41L238 1057.02L238.5 1057.42L239 1059.08L239.5 1057.31L240 1058.63L240.5 1059.06L241 1057.38L241.5 1058.93L242 1058.05L242.5 1056.93L243 1057.63L243.5 1057.4L244 1057.16L244.5 1057.21L245 1057.56L245.5 1057.86L246 1056.56L246.5 1057.44L247 1055.94L247.5 1057.74L248 1058.11L248.5 1057.66L249 1057.79L249.5 1058.1L250 1056.86L250.5 1057.29L251 1058.05L251.5 1058.55L252 1057.95L252.5 1060.11L253 1057.47L253.5 1058.57L254 1058.84L254.5 1057.44L255 1056.76L255.5 1056.4L256 1057.75L256.5 1058.7L257 1057.86L257.5 1057.76L258 1057.21L258.5 1058.15L259 1055.46L259.5 1057.82L260 1057.62L260.5 1056.22L261 1059.76L261.5 1056.2L262 1056.5L262.5 1056.38L263 1058.68L263.5 1056.68L264 1058.23L264.5 1058.15L265 1057.82L265.5 1056.24L266 1056.93L266.5 1059.21L267 1056.24L267.5 1056.69L268 1057.36L268.5 1058.32L269 1057.76L269.5 1058.24L270 1056.42L270.5 1058.43L271 1058.04L271.5 1055.87L272 1059L272.5 1059.74L273 1056.67L273.5 1057.49L274 1058.82L274.5 1055.94L275 1055.42L275.5 1056.1L276 1056.82L276.5 1056.8L277 1057.98L277.5 1057.63L278 1056.11L278.5 1057.92L279 1059.21L279.5 1058.53L280 1058.31L280.5 1057.34L281 1058.29L281.5 1056.33L282 1058.04L282.5 1057.2L283 1058.41L283.5 1057.74L284 1056.18L284.5 1057.39L285 1058.47L285.5 1056.12L286 1056.68L286.5 1056.47L287 1055.74L287.5 1058.19L288 1058.53L288.5 1058.02L289 1057.46L289.5 1057.16L290 1057.45L290.5 1056.48L291 1058.1L291.5 1058.25L292 1058.13L292.5 1056.67L293 1057.28L293.5 1057.03L294 1058.99L294.5 1057.38L295 1055.32L295.5 1057.6L296 1059.08L296.5 1057.89L297 1058.08L297.5 1057.24L298 1055.24L298.5 1055.4L299 1055.97L299.5 1057.09L300 1057.53L300.5 1057.92L301 1056.89L301.5 1058.19L302 1056.96L302.5 1056.54L303 1058.1L303.5 1056.34L304 1054.53L304.5 1056.21L305 1057.37L305.5 1054.2L306 1056.93L306.5 1056.96L307 1055.88L307.5 1055.83L308 1056.86L308.5 1056.78L309 1058.59L309.5 1057.72L310 1055.77L310.5 1056.5L311 1058.07L311.5 1059.27L312 1057.77L312.5 1057.7L313 1059.26L313.5 1057.38L314 1057.1L314.5 1056L315 1056.91L315.5 1059.61L316 1056.02L316.5 1057.46L317 1056.04L317.5 1057.59L318 1058.35L318.5 1057.23L319 1058.21L319.5 1058.2L320 1057.94L320.5 1059.21L321 1058.28L321.5 1057.2L322 1056.83L322.5 1056.67L323 1057.99L323.5 1057.2L324 1060.25L324.5 1059.37L325 1057.31L325.5 1057.2L326 1059.22L326.5 1055.65L327 1057.08L327.5 1058.48L328 1056.62L328.5 1057.06L329 1057.18L329.5 1058.19L330 1057.66L330.5 1057.93L331 1058.12L331.5 1057.55L332 1058.62L332.5 1056.78L333 1056.07L333.5 1055.72L334 1055.87L334.5 1056.94L335 1058.51L335.5 1057.65L336 1056.87L336.5 1056.39L337 1056.92L337.5 1057.04L338 1056.86L338.5 1055.99L339 1056.93L339.5 1058.42L340 1055.21L340.5 1057.13L341 1055.24L341.5 1057.53L342 1056.59L342.5 1055.24L343 1057.41L343.5 1059.11L344 1057.39L344.5 1058.43L345 1057.18L345.5 1055.08L346 1057.71L346.5 1056.79L347 1055.73L347.5 1057.96L348 1057.44L348.5 1056.61L349 1057.99L349.5 1056.23L350 1057.73L350.5 1056.13L351 1057.58L351.5 1055.93L352 1058.5L352.5 1057.25L353 1058.41L353.5 1056.14L354 1056.47L354.5 1057.76L355 1054.16L355.5 1055.82L356 1057.9L356.5 1057.32L357 1057.81L357.5 1056.51L358 1057.36L358.5 1056.05L359 1055.39L359.5 1055.05L360 1056.18L360.5 1056.16L361 1056.07L361.5 1053.13L362 1054.66L362.5 1056.11L363 1056.92L363.5 1056.04L364 1055.72L364.5 1054.28L365 1058.59L365.5 1055.46L366 1058.23L366.5 1058.09L367 1056.79L367.5 1055.93L368 1056.63L368.5 1055.33L369 1056.73L369.5 1056.46L370 1056.98L370.5 1057.39L371 1058.16L371.5 1056.03L372 1057.46L372.5 1055.61L373 1055.5L373.5 1055.77L374 1055.4L374.5 1057.36L375 1057.3L375.5 1057.64L376 1056.34L376.5 1056.64L377 1055.78L377.5 1055.2L378 1056.8L378.5 1056.62L379 1055.24L379.5 1056.93L380 1054.61L380.5 1056.17L381 1055.72L381.5 1055.82L382 1055.27L382.5 1057.31L383 1056.92L383.5 1057.54L384 1056.49L384.5 1055.07L385 1055.99L385.5 1055.18L386 1056.83L386.5 1057.58L387 1056.71L387.5 1055.78L388 1056.02L388.5 1056.6L389 1054.95L389.5 1056.56L390 1056.61L390.5 1055.88L391 1056.01L391.5 1056.61L392 1055.62L392.5 1055.63L393 1057.24L393.5 1056.69L394 1058.16L394.5 1055.5L395 1054.72L395.5 1057.44L396 1057.47L396.5 1055.78L397 1055.06L397.5 1056.49L398 1054.8L398.5 1056.21L399 1054.38L399.5 1056.33L400 1054.46L400.5 1056.35L401 1058.12L401.5 1056.34L402 1057.39L402.5 1055.98L403 1055.74L403.5 1055.14L404 1057.69L404.5 1056.6L405 1058.28L405.5 1055.49L406 1056.45L406.5 1056.76L407 1058.1L407.5 1058.52L408 1056.05L408.5 1055.57L409 1054.98L409.5 1058.06L410 1056.64L410.5 1056.08L411 1056.68L411.5 1054.18L412 1055.02L412.5 1057.68L413 1057.14L413.5 1056.9L414 1055.75L414.5 1057.34L415 1058.54L415.5 1055.54L416 1056.78L416.5 1056.33L417 1057.13L417.5 1056.78L418 1056.62L418.5 1055.88L419 1056.75L419.5 1056.15L420 1056.62L420.5 1056.7L421 1057.41L421.5 1056.17L422 1056.43L422.5 1057.82L423 1056.53L423.5 1056.48L424 1057.61L424.5 1057.01L425 1056.82L425.5 1056.95L426 1055.49L426.5 1057.18L427 1058.04L427.5 1057.29L428 1055.15L428.5 1056.99L429 1055.79L429.5 1056.47L430 1056.82L430.5 1055.49L431 1058.01L431.5 1056.6L432 1057.46L432.5 1057.29L433 1058L433.5 1057.84L434 1055.17L434.5 1056.68L435 1054.49L435.5 1056.18L436 1057.33L436.5 1057.52L437 1057.89L437.5 1056.22L438 1056.91L438.5 1056.68L439 1057.85L439.5 1058.16L440 1056.21L440.5 1060.35L441 1056.56L441.5 1056.19L442 1057.15L442.5 1057.3L443 1057.09L443.5 1055.89L444 1058.01L444.5 1056.59L445 1058.07L445.5 1057.92L446 1055.25L446.5 1055.54L447 1055.52L447.5 1056.77L448 1056.58L448.5 1056.79L449 1055.71L449.5 1056.95L450 1057.93L450.5 1055.19L451 1056.33L451.5 1056.78L452 1056.4L452.5 1056.34L453 1058.31L453.5 1057.82L454 1057.39L454.5 1055.79L455 1058.8L455.5 1056.92L456 1055.99L456.5 1056.23L457 1056.09L457.5 1058.71L458 1056.8L458.5 1056.67L459 1054.46L459.5 1057.36L460 1055.57L460.5 1055.51L461 1057.26L461.5 1055.8L462 1057.51L462.5 1057.81L463 1054.91L463.5 1056.57L464 1055.15L464.5 1056.67L465 1057.66L465.5 1055.4L466 1058.58L466.5 1056.48L467 1055.62L467.5 1056.69L468 1057.62L468.5 1055.47L469 1056.87L469.5 1055.51L470 1058.1L470.5 1057.07L471 1056.5L471.5 1057.98L472 1055.67L472.5 1056.59L473 1058.84L473.5 1056.89L474 1058.39L474.5 1057.24L475 1056.37L475.5 1056.84L476 1057.18L476.5 1056.71L477 1056.31L477.5 1056.37L478 1055.69L478.5 1057.3L479 1057.6L479.5 1057.97L480 1055.44L480.5 1058.07L481 1057.26L481.5 1055.87L482 1057.41L482.5 1058.14L483 1057.87L483.5 1058.09L484 1058.32L484.5 1058.29L485 1057.37L485.5 1055.34L486 1056.68L486.5 1057.81L487 1057L487.5 1058.17L488 1058.29L488.5 1057.56L489 1059.4L489.5 1056.56L490 1058.48L490.5 1057.08L491 1056.79L491.5 1058.17L492 1056.97L492.5 1058.46L493 1056.44L493.5 1057.65L494 1056.78L494.5 1057.4L495 1057.27L495.5 1056.52L496 1058.31L496.5 1056.41L497 1056.68L497.5 1058.56L498 1058.64L498.5 1058.34L499 1058.02L499.5 1059.96L500 1056.47L500.5 1056.94L501 1056.69L501.5 1058.58L502 1057.97L502.5 1058.8L503 1058.66L503.5 1057.46L504 1056.86L504.5 1056.69L505 1059.89L505.5 1058.64L506 1058.26L506.5 1057.33L507 1057.46L507.5 1057.31L508 1057.33L508.5 1055.24L509 1057.58L509.5 1057.25L510 1057.92L510.5 1057.83L511 1058.46L511.5 1057.59L512 1058.39L512.5 1055.03L513 1056.48L513.5 1059.3L514 1056.34L514.5 1057.27L515 1058.25L515.5 1056.65L516 1058.24L516.5 1056.08L517 1055.59L517.5 1056.16L518 1055.83L518.5 1057.45L519 1057.14L519.5 1057.78L520 1056.4L520.5 1059.97L521 1057.32L521.5 1057.36L522 1057.85L522.5 1057.14L523 1056.74L523.5 1057.45L524 1058.27L524.5 1058.01L525 1058.27L525.5 1056.76L526 1056.54L526.5 1059.31L527 1057.05L527.5 1057.76L528 1058.01L528.5 1058.69L529 1055.9L529.5 1056.77L530 1056.81L530.5 1056.93L531 1054.81L531.5 1057.12L532 1054.32L532.5 1057.5L533 1057.73L533.5 1057.79L534 1055.98L534.5 1058.13L535 1056.31L535.5 1055.94L536 1056.18L536.5 1056.31L537 1057.33L537.5 1057.98L538 1055.05L538.5 1056.61L539 1058.05L539.5 1057.35L540 1057.65L540.5 1055.64L541 1058.1L541.5 1055.58L542 1057.34L542.5 1058.51L543 1059.03L543.5 1057.66L544 1058.03L544.5 1056.55L545 1056.67L545.5 1058.32L546 1057.16L546.5 1057.03L547 1055.75L547.5 1057.32L548 1057.82L548.5 1056.38L549 1056.67L549.5 1058.76L550 1057.36L550.5 1056.9L551 1056.06L551.5 1056.58L552 1056.96L552.5 1058.58L553 1056.61L553.5 1059.02L554 1056.3L554.5 1056.88L555 1058.08L555.5 1057.01L556 1056.42L556.5 1057.13L557 1057.71L557.5 1055.55L558 1057.03L558.5 1057.17L559 1056.88L559.5 1058.03L560 1056.73L560.5 1056.94L561 1057.35L561.5 1058.05L562 1057.1L562.5 1058.84L563 1056.42L563.5 1058.62L564 1056.48L564.5 1057.18L565 1057.71L565.5 1059.41L566 1058.25L566.5 1056.96L567 1058.66L567.5 1057.15L568 1056.58L568.5 1057.82L569 1057.47L569.5 1058.33L570 1056.83L570.5 1057.76L571 1058.01L571.5 1057.66L572 1057.35L572.5 1056.68L573 1058.28L573.5 1057.51L574 1057.87L574.5 1057.02L575 1057.38L575.5 1056.33L576 1057.45L576.5 1058.12L577 1057.45L577.5 1058.21L578 1057.65L578.5 1058.7L579 1057.14L579.5 1055.68L580 1057.75L580.5 1057.14L581 1056.33L581.5 1057.94L582 1057.55L582.5 1057.72L583 1056.93L583.5 1057.45L584 1057.5L584.5 1059.01L585 1056.54L585.5 1057.2L586 1057.56L586.5 1055.46L587 1055.57L587.5 1059.32L588 1055.38L588.5 1057.7L589 1056.27L589.5 1056.34L590 1055.1L590.5 1056.17L591 1057.84L591.5 1055.65L592 1057.62L592.5 1057.32L593 1059.01L593.5 1056.5L594 1058.22L594.5 1057.83L595 1056.64L595.5 1055.24L596 1058.4L596.5 1055.51L597 1056.38L597.5 1057.72L598 1057.93L598.5 1055.95L599 1056.75L599.5 1056.51L600 1057.93L600.5 1059.23L601 1054.88L601.5 1057.61L602 1053.82L602.5 1056.68L603 1055.54L603.5 1058.62L604 1056.78L604.5 1055.86L605 1056.08L605.5 1055.99L606 1056.74L606.5 1056.37L607 1057.17L607.5 1058.04L608 1057.19L608.5 1055.25L609 1054.84L609.5 1055.69L610 1057.49L610.5 1056.09L611 1055.74L611.5 1056.54L612 1054.97L612.5 1055.24L613 1056.87L613.5 1056.05L614 1055.89L614.5 1056.65L615 1055.74L615.5 1055.63L616 1055.85L616.5 1056.91L617 1056.36L617.5 1055.1L618 1055.98L618.5 1056.93L619 1058.15L619.5 1055.13L620 1056.61L620.5 1056L621 1057.09L621.5 1056.71L622 1057.73L622.5 1056.78L623 1055.71L623.5 1055.72L624 1056.66L624.5 1056.65L625 1058.66L625.5 1057.94L626 1055.09L626.5 1056.62L627 1054.94L627.5 1054.62L628 1057.02L628.5 1056.83L629 1055.25L629.5 1057.94L630 1055.32L630.5 1055.14L631 1056.97L631.5 1056.54L632 1056.17L632.5 1056.27L633 1056.57L633.5 1056.21L634 1056.19L634.5 1054.48L635 1055.04L635.5 1057L636 1055.7L636.5 1056.96L637 1057.66L637.5 1056.08L638 1056.73L638.5 1058.53L639 1057.16L639.5 1058.32L640 1058.02L640.5 1057.25L641 1056.4L641.5 1055.68L642 1055.43L642.5 1057.04L643 1057.03L643.5 1056.4L644 1057.43L644.5 1055.99L645 1057.72L645.5 1056.66L646 1056.6L646.5 1056.64L647 1056.56L647.5 1059.16L648 1055.07L648.5 1056.87L649 1057.94L649.5 1057.43L650 1056.42L650.5 1058.47L651 1055.67L651.5 1055.45L652 1057.33L652.5 1055.32L653 1054.4L653.5 1057.67L654 1057.56L654.5 1057.54L655 1056.33L655.5 1057L656 1055.86L656.5 1058.57L657 1057.63L657.5 1057.59L658 1054.91L658.5 1057.67L659 1058.36L659.5 1058.09L660 1057.66L660.5 1056.88L661 1056.54L661.5 1057.49L662 1057.27L662.5 1057.13L663 1056.59L663.5 1058.58L664 1055.73L664.5 1056.88L665 1056.32L665.5 1057.93L666 1058.33L666.5 1058.15L667 1057.66L667.5 1055.5L668 1058.98L668.5 1057.41L669 1056.79L669.5 1056.92L670 1056.55L670.5 1057.31L671 1057.2L671.5 1056.52L672 1054.31L672.5 1056.84L673 1057.35L673.5 1057.39L674 1056.71L674.5 1057.31L675 1057.88L675.5 1056.38L676 1058.31L676.5 1054.88L677 1055.57L677.5 1055.92L678 1054.38L678.5 1055.82L679 1058.06L679.5 1058.05L680 1056.9L680.5 1058.52L681 1057.03L681.5 1056.29L682 1057.02L682.5 1056.64L683 1057.51L683.5 1055.26L684 1057.76L684.5 1056.3L685 1057.61L685.5 1055.21L686 1056.32L686.5 1056.82L687 1057.63L687.5 1055.51L688 1058.39L688.5 1057.21L689 1056.19L689.5 1057.93L690 1056.82L690.5 1057.87L691 1059.03L691.5 1057.48L692 1056.18L692.5 1056.28L693 1057.29L693.5 1056.99L694 1055.87L694.5 1056.04L695 1057.37L695.5 1059.05L696 1054.08L696.5 1057.44L697 1056.5L697.5 1057.5L698 1057.59L698.5 1056.78L699 1055.71L699.5 1055.34L700 1054.86L700.5 1057.97L701 1056.54L701.5 1056.21L702 1056.48L702.5 1055.43L703 1057.08L703.5 1057.99L704 1054.82L704.5 1037.87L704.8 1035.17L705 1035.75L705.5 1049.93L706 1055.35L706.5 1055.87L707 1056.85L707.5 1055.83L708 1055.36L708.5 1056.58L709 1057.31L709.5 1044.69L709.9 1038.39L710 1038.59L710.5 1053.43L711 1054.62L711.5 1058.06L712 1055.7L712.5 1056.4L713 1056.91L713.5 1060.21L714 1056.28L714.5 1055.17L715 1058.27L715.5 1053.58L716 1035.07L716.5 1005.39L716.6 1004.22L717 1021.26L717.5 1050.25L718 1057.02L718.5 1054.83L719 1030.63L719.5 994.42L719.6 992.56L720 1014.99L720.5 1048.6L721 1057.32L721.5 1057.82L722 1058.99L722.5 1057.53L723 1057.98L723.5 1052.95L724 1030.14L724.5 995.03L724.6 992.57L725 1015.25L725.5 1047.48L726 1057L726.5 1054.99L727 1056.36L727.5 1057.14L728 1057.24L728.5 1055.72L729 1057.64L729.5 1058.52L730 1058.2L730.5 1056.26L731 889L731.5 1055.76L732 1058.22L732.5 1058.06L733 1043.72L733.5 1003.9L733.8 992.85L734 999.48L734.5 1035.56L735 1055.96L735.5 1059.8L736 1058.51L736.5 1058.25L737 1058.11L737.5 1058.73L738 1054.93L738.5 1037.5L739 999.26L739.2 992.06L739.5 1005.96L740 1042.45L740.5 1057.51L741 1058.58L741.5 1057.81L742 1057.93L742.5 1059.39L743 1056.69L743.5 1056.86L744 1056.68L744.5 1057.35L745 1056.08L745.5 880.11L746 1056.44L746.5 1056.3L747 1055.46L747.5 1051.05L748 1033.6L748.2 1030.93L748.5 1036.49L749 1052.2L749.5 1058.1L750 1058.3L750.5 1057.15L751 1056.91L751.5 1056.64L752 1056.42L752.5 1057.81L753 1046.1L753.5 1030.31L753.6 1030.85L754 1039.39L754.5 1054.49L755 1056.58L755.5 1058.19L756 1058.04L756.5 1058.91L757 1059.8L757.5 1060.47L758 1058.96L758.5 1056.44L759 1057.18L759.5 1057.82L760 1051.9L760.3 1001.13L760.5 1035.28L761 1057.36L761.5 1058.12L762 1058.23L762.5 1057.05L763 1058.27L763.5 1058.55L764 1057.3L764.5 1058.47L765 1059.09L765.5 1057.49L766 1057.41L766.5 1057.09L767 1056.77L767.5 1057.53L768 1056.95L768.5 1057.03L769 1056.56L769.5 1055.78L770 1056.37L770.5 1057.62L771 1056.1L771.5 1056.62L772 1058.9L772.5 1058.37L773 1056.54L773.5 1057.83L774 1056.56L774.5 1058.83L775 1056.61L775.5 1057.26L776 1058.56L776.5 1056.34L777 1058.46L777.5 1056.33L778 1057.37L778.5 1056.83L779 1057.03L779.5 1057.27L780 1057.03L780.5 1056.08L781 1057.96L781.5 1057.81L782 1058.37L782.5 1058.46L783 1055.72L783.5 1058.35L784 1058.36L784.5 1056.52L785 1058.09L785.5 1058.52L786 1056.51L786.5 1055.66L787 1056.68L787.5 1059.83L788 1057.27L788.5 1055.82L789 1056.78L789.5 1056.04L790 1056.64L790.5 1057.13L791 1054.48L791.5 1057.4L792 1058.45L792.5 1056.84L793 1056.66L793.5 1058.14L794 1055.78L794.5 1055.8L795 1055.66L795.5 1056.9L796 1057.45L796.5 1056.97L797 1057.62L797.5 1057.9L798 1057.57L798.5 1056.27L799 1056.82L799.5 1058.34L800 1056.05L800.5 1056.85L801 1056.69L801.5 1056.93L802 1056.04L802.5 1055.77L803 1059.68L803.5 1058.07L804 1056.42L804.5 1057.08L805 1057.82L805.5 1056.8L806 1057.77L806.5 1056.54L807 1056.8L807.5 1057.08L808 1056.71L808.5 1054.72L809 1057.2L809.5 1057.44L810 1057.66L810.5 1056.2L811 1057.54L811.5 1057.41L812 1055.43L812.5 1055L813 1057.68L813.5 1056.25L814 1058.21L814.5 1059.35L815 1056.63L815.5 1056.52L816 1057.2L816.5 1057.89L817 1056.07L817.5 1058.45L818 1058.2L818.5 1057.87L819 1056.66L819.5 1058.12L820 1058.06L820.5 1055.99L821 1059.28L821.5 1056.89L822 1057.55L822.5 1056.66L823 1057.56L823.5 1058.33L824 1056.35L824.5 1055.5L825 1056.7L825.5 1055.84L826 1056.38L826.5 1057L827 1057.05L827.5 1058.4L828 1056.08L828.5 1057.44L829 1056.57L829.5 1058.43L830 1059.59L830.5 1057.35L831 1058.71L831.5 1056.49L832 1055.41L832.5 1055.73L833 1055.41L833.5 1056.02L834 1056.72L834.5 1058.09L835 1057.63L835.5 1057.38L836 1056.48L836.5 1056.16L837 1056.91L837.5 1056.99L838 1057.1L838.5 1057.2L839 1056.69L839.5 1054.87L840 1055.66L840.5 1055.94L841 1058.44L841.5 1056.3L842 1057.39L842.5 1058.16L843 1057.02L843.5 1056.27L844 1056.36L844.5 1055.61L845 1056.92L845.5 1057.73L846 1057.16L846.5 1057.34L847 1057.27L847.5 1058.54L848 1055.89L848.5 1056.67L849 1057.2L849.5 1057.73L850 1054.04L850.5 1055.93L851 1056.23L851.5 1055.39L852 1057.26L852.5 1056.62L853 1055.99L853.5 1054.74L854 1055.04L854.5 1055.36L855 1056.79L855.5 1055.11L856 1054.25L856.5 1054.85L857 1055.7L857.5 1057.96L858 1058.78L858.5 1055.79L859 1057.21L859.5 1057.66L860 1057.53L860.5 1056.12L861 1054.93L861.5 1055.74L862 1054.36L862.5 1056.46L863 1057L863.5 1054.32L864 1056.16L864.5 1056.5L865 1057.46L865.5 1057.59L866 1057.01L866.5 1055.52L867 1055.84L867.5 1057.41L868 1055.6L868.5 1056.17L869 1057.78L869.5 1056.35L870 1054.85L870.5 1055.93L871 1056.87L871.5 1056.05L872 1057.4L872.5 1057.53L873 1055.6L873.5 1055.76L874 1056.16L874.5 1055.08L875 1056.66L875.5 1056.11L876 1057.09L876.5 1055.71L877 1055.44L877.5 1058.17L878 1055.46L878.5 1055.77L879 1055.63L879.5 1056.07L880 1055.47L880.5 1056.36L881 1055.71L881.5 1056.01L882 1056.8L882.5 1057.15L883 1056.93L883.5 1055.74L884 1056.89L884.5 1056.39L885 1056.41L885.5 1054.81L886 1057.22L886.5 1056.42L887 1058.28L887.5 1057.23L888 1055.49L888.5 1055.25L889 1057.78L889.5 1055.77L890 1057.35L890.5 1056.37L891 1058.79L891.5 1056.78L892 1058.23L892.5 1058.06L893 1056.28L893.5 1056.43L894 1058.26L894.5 1056.79L895 1055.93L895.5 1058.02L896 1059.4L896.5 1056.81L897 1058.26L897.5 1056.72L898 1058.25L898.5 1056.67L899 1058.25L899.5 1057.48L900 1056.76L900.5 1057.19L901 1056.43L901.5 1055.85L902 1055.93L902.5 1056.94L903 1055.95L903.5 1057.46L904 1057.56L904.5 1057.51L905 1056.55L905.5 1057.11L906 1057.04L906.5 1058.39L907 1056.27L907.5 1056.69L908 1056.85L908.5 1056.95L909 1056.34L909.5 1056.47L910 1058.11L910.5 1056.46L911 1058.02L911.5 1059.14L912 1058.38L912.5 1055.3L913 1057.88L913.5 1057.59L914 1057.65L914.5 1055.48L915 1057.86L915.5 1056.01L916 1058.4L916.5 1058.17L917 1059.65L917.5 1056.7L918 1055.56L918.5 1058.13L919 1057.95L919.5 1056.69L920 1058.43L920.5 1057.76L921 1055.78L921.5 1056.71L922 1056.61L922.5 1056.94L923 1057.24L923.5 1056.34L924 1056.84L924.5 1057.62L925 1056.95L925.5 1056.75L926 1056.71L926.5 1056.91L927 1055.09L927.5 1057.16L928 1055.97L928.5 1057.1L929 1055.51L929.5 1057.9L930 1057.22L930.5 1055.62L931 1057.21L931.5 1056.21L932 1058.76L932.5 1057.45L933 1056.16L933.5 1057.18L934 1056.92L934.5 1058.15L935 1057.3L935.5 1057.46L936 1055.82L936.5 1057.73L937 1059.04L937.5 1057.58L938 1056.9L938.5 1057.1L939 1055.99L939.5 1057.13L940 1055.84L940.5 1056.99L941 1056.56L941.5 1056.12L942 1057.53L942.5 1055.46L943 1056.91L943.5 1055.63L944 1058.79L944.5 1058.94L945 1057.82L945.5 1058.87L946 1057.57L946.5 1057.53L947 1056.57L947.5 1056.1L948 1057.13L948.5 1056.48L949 1056.58L949.5 1057.76L950 1056.91L950.5 1055.48L951 1056.84L951.5 1056.3L952 1056.78L952.5 1055.98L953 1058.29L953.5 1059.01L954 1056L954.5 1057.77L955 1057.73L955.5 1056.07L956 1057.26L956.5 1058.58L957 1058.03L957.5 1058.82L958 1056.04L958.5 1056.48L959 1057.53L959.5 1057.61L960 1057.29L960.5 1056.89L961 1056.88L961.5 1056.7L962 1057.77L962.5 1054.57L963 1058.95L963.5 1056.84L964 1055.95L964.5 1057.94L965 1056L965.5 1057.81L966 1057.03L966.5 1058.04L967 1058.25L967.5 1058.77L968 1057L968.5 1057.21L969 1057.51L969.5 1056.12L970 1058.14L970.5 1057.69L971 1056.23L971.5 1058.8L972 1058.97L972.5 1056.3L973 1058.2L973.5 1058.89L974 1058.49L974.5 1056.68L975 1056.28L975.5 1057.57L976 1057.2L976.5 1057.7L977 1057.61L977.5 1058.25L978 1057.18L978.5 1057.58L979 1060.72L979.5 1057.63L980 1058.5L980.5 1058.06L981 1058L981.5 1056.88L982 1058.32L982.5 1057.75L983 1058.62L983.5 1059.86L984 1058L984.5 1058.58L985 1056.79L985.5 1057.94L986 1059.37L986.5 1057.76L987 1057.19L987.5 1058.03L988 1057.64L988.5 1057.58L989 1057.45L989.5 1059.81L990 1056.95L990.5 1057.4L991 1057.24L991.5 1059.05L992 1057.52L992.5 1059.1L993 1057.96L993.5 1057.76L994 1056.32L994.5 1058.98L995 1058.31L995.5 1058.16L996 1057.63L996.5 1057.32L997 1056.46L997.5 1058.67L998 1057.98L998.5 1057.34L999 1057.06L999.5 1057.8L1000 1057.58L1000.5 1059.3L1001 1058.42L1001.5 1057.04L1002 1056.51L1002.5 1057.37L1003 1056.68L1003.5 1057.66L1004 1057.97L1004.5 1058.19L1005 1057.96L1005.5 1057.34L1006 1058.11L1006.5 1056.61L1007 1057.41L1007.5 1058.28L1008 1057.74L1008.5 1056.17L1009 1056.27L1009.5 1055.8L1010 1059.2L1010.5 1055.83L1011 1057.23L1011.5 1059.19L1012 1058.42L1012.5 1058.64L1013 1056.81L1013.5 1058.03L1014 1060.33L1014.5 1057.23L1015 1057.67L1015.5 1056.91L1016 1056.51L1016.5 1045.54L1017 998.63L1017.4 967.29L1017.5 968.93L1018 1020.32L1018.5 1042.26L1019 977.44L1019.4 924.35L1019.5 927.08L1020 1011.43L1020.5 1024.65L1021 990.38L1021.5 1016.46L1022 980.43L1022.4 933.91L1022.5 936.26L1023 1018.55L1023.5 1051.76L1024 1033.26L1024.5 961.22L1024.7 948.48L1025 975.06L1025.5 1040.92L1026 1056.97L1026.5 1057.01L1027 1057.02L1027.5 1058.04L1028 1058.06L1028.5 1058.3L1029 1058.8L1029.5 1057.4L1030 1055.4L1030.5 1057.15L1031 1056.95L1031.5 1057L1032 1056.32L1032.5 1056.03L1033 1057.69L1033.5 1057.8L1034 1055.54L1034.5 1056.81L1035 1055.29L1035.5 1053.59L1036 1052.31L1036.5 1048.34L1037 1044.07L1037.5 1041.1L1038 1036.58L1038.4 1037.32L1038.5 1037.52L1039 1037.98L1039.5 1042.57L1040 1046.43L1040.5 1049.18L1041 1052.52L1041.5 1055.35L1042 1056.91L1042.5 1055.71L1043 1057.09L1043.5 1057.91L1044 1056.88L1044.5 1056.16L1045 1056.17L1045.5 1056.62L1046 1055.91L1046.5 1058.96L1047 1056.38L1047.5 1057.33L1048 1057.14L1048.5 1057.6L1049 1056.58L1049.5 1055.43L1050 1049.75L1050.5 989.34L1050.9 945.1L1051 947.86L1051.5 995.29L1052 945.85L1052.2 933.67L1052.5 964.23L1053 1040.38L1053.5 1056.63L1054 1056.26L1054.5 1055.08L1055 1056.78L1055.5 1055.95L1056 1059.61L1056.5 1058.59L1057 1058.2L1057.5 1056.48L1058 1059.1L1058.5 1055.1L1059 1047.07L1059.5 989.42L1059.9 945.89L1060 950.37L1060.5 1021.46L1061 1056.45L1061.5 1058.01L1062 1058.27L1062.5 1057.47L1063 1056.9L1063.5 1056.36L1064 1055.54L1064.5 1056.14L1065 1054.9L1065.5 1046.76L1065.7 1042.35L1066 1046.67L1066.5 1056.3L1067 1055.97L1067.5 1057.36L1068 1056.61L1068.5 1056.17L1069 1052.69L1069.5 1044.43L1069.6 1043.28L1070 1049.62L1070.5 1055.88L1071 1057.17L1071.5 1057.13L1072 1055.26L1072.5 1056.8L1073 1057.35L1073.5 1057.99L1074 1057.72L1074.5 1057.14L1075 1055.78L1075.5 1056.14L1076 1057.81L1076.5 1056.19L1077 1057.9L1077.5 1058.14L1078 1055.79L1078.5 1057.28L1079 1056.72L1079.5 1058.85L1080 1057.65L1080.5 1056.28L1081 1057.19L1081.5 1055.85L1082 1056.6L1082.5 1056.95L1083 1056.88L1083.5 1057.02L1084 1055.79L1084.5 1054.83L1085 1056.31L1085.5 1055.77L1086 1055.94L1086.5 1058.77L1087 1057.78L1087.5 1056.43L1088 1055.15L1088.5 1055.27L1089 1056.92L1089.5 1057.61L1090 1056.24L1090.5 1056.65L1091 1056.76L1091.5 1057.55L1092 1054.59L1092.5 1056.62L1093 1056.85L1093.5 1057.38L1094 1056.82L1094.5 1055.31L1095 1055.82L1095.5 1054.86L1096 1056.57L1096.5 1056.55L1097 1056.86L1097.5 1055.37L1098 1055.19L1098.5 1057.84L1099 1056.49L1099.5 1058.04L1100 1056.73L1100.5 1054.82L1101 1057.08L1101.5 1057.5L1102 1055.81L1102.5 1054.33L1103 1056.91L1103.5 1056.1L1104 1056.51L1104.5 1053.54L1105 1056.68L1105.5 1053.47L1106 1055.35L1106.5 1057.1L1107 1054.39L1107.5 1054.34L1108 1055.76L1108.5 1057.85L1109 1057.82L1109.5 1055.6L1110 1057.21L1110.5 1056.79L1111 1056.47L1111.5 1056.57L1112 1055.49L1112.5 1057.02L1113 1057.28L1113.5 1058.93L1114 1057.15L1114.5 1053.78L1115 1055.03L1115.5 1056.58L1116 1056.32L1116.5 1054.4L1117 1056.13L1117.5 1055.92L1118 1056.23L1118.5 1056.17L1119 1057.22L1119.5 1057.78L1120 1057.01L1120.5 1055.22L1121 1055.48L1121.5 1055.69L1122 1056.31L1122.5 1055.95L1123 1056.04L1123.5 1055.48L1124 1057.37L1124.5 1057.29L1125 1057.4L1125.5 1056.38L1126 1056.93L1126.5 1055.58L1127 1055.5L1127.5 1055.98L1128 1057.12L1128.5 1056.4L1129 1055.43L1129.5 1056.68L1130 1057.02L1130.5 1056.78L1131 1055.97L1131.5 1056.71L1132 1056.24L1132.5 1056.36L1133 1056.61L1133.5 1057.47L1134 1058.56L1134.5 1058.3L1135 1057.39L1135.5 1056.38L1136 1056.49L1136.5 1056.54L1137 1057.98L1137.5 1054.08L1138 1057.11L1138.5 1054.88L1139 1056.88L1139.5 1058.23L1140 1056L1140.5 1054.65L1141 1058.24L1141.5 1058.46L1142 1057.47L1142.5 1058.24L1143 1056.19L1143.5 1058.18L1144 1058.72L1144.5 1057.67L1145 1057.32L1145.5 1058.34L1146 1058.2L1146.5 1056.33L1147 1058.44L1147.5 1057.84L1148 1057.26L1148.5 1058.42L1149 1058.05L1149.5 1057.87L1150 1056.63L1150.5 1057.98L1151 1056.04L1151.5 1057.03L1152 1055.47L1152.5 1055.46L1153 1057.61L1153.5 1057.09L1154 1057.26L1154.5 1057.78L1155 1057.54L1155.5 1056.3L1156 1057.27L1156.5 1057.13L1157 1056.68L1157.5 1057.07L1158 1056.83L1158.5 1056.55L1159 1056.86L1159.5 1057.43L1160 1059.26L1160.5 1056.38L1161 1057.72L1161.5 1055.73L1162 1058.78L1162.5 1056.86L1163 1057.33L1163.5 1058.46L1164 1058.17L1164.5 1055.69L1165 1057.73L1165.5 1056.95L1166 1057.79L1166.5 1057.32L1167 1057.9L1167.5 1057.45L1168 1057.01L1168.5 1058.33L1169 1055.6L1169.5 1056.71L1170 1056.18L1170.5 1056.99L1171 1056.69L1171.5 1056.97L1172 1056.62L1172.5 1056.64L1173 1055.46L1173.5 1057.06L1174 1057.4L1174.5 1056.49L1175 1056.43L1175.5 1056.44L1176 1058.75L1176.5 1057.26L1177 1057.45L1177.5 1056.76L1178 1056.56L1178.5 1056.18L1179 1058.59L1179.5 1055.35L1180 1057.34L1180.5 1057.02L1181 1056.78L1181.5 1055.47L1182 1055.8L1182.5 1058.01L1183 1056.34L1183.5 1057.91L1184 1057.7L1184.5 1057.61L1185 1057.79L1185.5 1055.82L1186 1056.55L1186.5 1057.71L1187 1055.77L1187.5 1058.69L1188 1056.47L1188.5 1056.97L1189 1056.01L1189.5 1057.4L1190 1056.31L1190.5 1056.8L1191 1055.91L1191.5 1058.25L1192 1055.43L1192.5 1057.52L1193 1057.31L1193.5 1057.51L1194 1056.06L1194.5 1058.12L1195 1058.06L1195.5 1057.26L1196 1057.42L1196.5 1056.96L1197 1057.77L1197.5 1056.31L1198 1057.7L1198.5 1057.56L1199 1055.75L1199.5 1054.55L1200 1057.07L1200.5 1057.03L1201 1058.42L1201.5 1057.27L1202 1056.73L1202.5 1055.88L1203 1057.16L1203.5 1056.68L1204 1056.17L1204.5 1057.17L1205 1058.36L1205.5 1057.4L1206 1056.27L1206.5 1057.66L1207 1056.25L1207.5 1055.79L1208 1057.87L1208.5 1056.84L1209 1058.52L1209.5 1057.73L1210 1056.62L1210.5 1057.66L1211 1058.75L1211.5 1057.28L1212 1056.42L1212.5 1056.83L1213 1056.69L1213.5 1056.34L1214 1056.24L1214.5 1057.97L1215 1058.67L1215.5 1057.21L1216 1058.37L1216.5 1058.5L1217 1059.29L1217.5 1057.43L1218 1057.21L1218.5 1057.25L1219 1054.11L1219.5 1051.96L1220 1055.32L1220.5 1056.36L1221 1056.89L1221.5 1052.47L1222 1050.55L1222.5 1052.79L1223 1056.02L1223.5 1057.43L1224 1057.28L1224.5 1058.11L1225 1058.55L1225.5 1056.26L1226 1058.76L1226.5 1055.53L1227 1058.01L1227.5 1058.48L1228 1057.12L1228.5 1057.54L1229 1056.99L1229.5 1058.67L1230 1054.61L1230.5 1056.81L1231 1055.84L1231.5 1057.97L1232 1059.07L1232.5 1058.97L1233 1058.44L1233.5 1058.02L1234 1057L1234.5 1058.98L1235 1058.38L1235.5 1056.91L1236 1056.47L1236.5 1057.11L1237 1058.82L1237.5 1058.98L1238 1059.34L1238.5 1056.94L1239 1057.34L1239.5 1059.08L1240 1057.91L1240.5 1058.44L1241 1056.34L1241.5 1057.29L1242 1057.63L1242.5 1057.28L1243 1057.21L1243.5 1055.98L1244 1059.23L1244.5 1057.73L1245 1056.12L1245.5 1058.64L1246 1057.61L1246.5 1058.25L1247 1057.33L1247.5 1056.72L1248 1056.73L1248.5 1057.82L1249 1058.24L1249.5 1057.94L1250 1058.08L1250.5 1058.62L1251 1057.69L1251.5 1058.39L1252 1058.48L1252.5 1057.65L1253 1057.27L1253.5 1056.9L1254 1056.11L1254.5 1055.74L1255 1058.6L1255.5 1057.26L1256 1056.71L1256.5 1058.82L1257 1058.2L1257.5 1057.27L1258 1058.2L1258.5 1056.99L1259 1057.52L1259.5 1058.97L1260 1058.2L1260.5 1056.85L1261 1057.8L1261.5 1058.28L1262 1056.96L1262.5 1056.65L1263 1058.93L1263.5 1056.75L1264 1055.71L1264.5 1057.17L1265 1059.3L1265.5 1057.64L1266 1057.96L1266.5 1054.83L1267 1056.44L1267.5 1058.19L1268 1056.58L1268.5 1058.29L1269 1057.44L1269.5 1057.35L1270 1058.63L1270.5 1056.44L1271 1056.47L1271.5 1057.04L1272 1057.14L1272.5 1055.22L1273 1058.14L1273.5 1057.13L1274 1056.73L1274.5 1057.51L1275 1056.49L1275.5 1058.09L1276 1056.94L1276.5 1057.59L1277 1055.98L1277.5 1056.59L1278 1057.23L1278.5 1055.91L1279 1056.2L1279.5 1056.8L1280 1057.96L1280.5 1057.61L1281 1057.75L1281.5 1048.76L1281.8 995.75L1282 1032.9L1282.5 1057.01L1283 1057.28L1283.5 1057.43L1284 1054.84L1284.5 1056.75L1285 1057.27L1285.5 1057.6L1286 1056.53L1286.5 1057.83L1287 1056.22L1287.5 1056.68L1288 1058.54L1288.5 1055.51L1289 1056.79L1289.5 1056.72L1290 1056.78L1290.5 1056.34L1291 1057.52L1291.5 1055.81L1292 1055.56L1292.5 1057.36L1293 1055.7L1293.5 1057.26L1294 1056.92L1294.5 1056.21L1295 1056.56L1295.5 1056.81L1296 1057.36L1296.5 1056.28L1297 1056.7L1297.5 1055.49L1298 1056.64L1298.5 1055L1299 1056.88L1299.5 1056.47L1300 1059.02L1300.5 1058.21L1301 1056.78L1301.5 1057.88L1302 1057.22L1302.5 1055.79L1303 1054.52L1303.5 1058.05L1304 1057.33L1304.5 1054.99L1305 1057.58L1305.5 1057.86L1306 1056.26L1306.5 1057.73L1307 1055.23L1307.5 1056.73L1308 1056.98L1308.5 1057.73L1309 1057.34L1309.5 1057.16L1310 1057.5L1310.5 1056.29L1311 1058.42L1311.5 1056.59L1312 1057.73L1312.5 1056.93L1313 1056.68L1313.5 1057.51L1314 1057.37L1314.5 1058.26L1315 1057.98L1315.5 1056.34L1316 1057.4L1316.5 1057L1317 1056.09L1317.5 1055.78L1318 1057.13L1318.5 1056.34L1319 1055.48L1319.5 1056.76L1320 1057.07L1320.5 1056.94L1321 1055.63L1321.5 1056.24L1322 1058.18L1322.5 1056.03L1323 1056.47L1323.5 1059.09L1324 1057.12L1324.5 1056.26L1325 1054.81L1325.5 1057.05L1326 1055.34L1326.5 1056.69L1327 1055.83L1327.5 1055.02L1328 1058.33L1328.5 1056.56L1329 1057.57L1329.5 1057.38L1330 1055.9L1330.5 1056.7L1331 1056.24L1331.5 1057.55L1332 1057L1332.5 1056.21L1333 1058.21L1333.5 1057.06L1334 1056.99L1334.5 1055.73L1335 1056.91L1335.5 1055.02L1336 1056.94L1336.5 1055.53L1337 1056.64L1337.5 1056.16L1338 1056.66L1338.5 1056.78L1339 1056.35L1339.5 1056.34L1340 1054.9L1340.5 1054.48L1341 1057.63L1341.5 1056.93L1342 1054.87L1342.5 1058.25L1343 1055.61L1343.5 1056.83L1344 1056.74L1344.5 1056.41L1345 1056.91L1345.5 1054.92L1346 1056.25L1346.5 1056.03L1347 1056.36L1347.5 1056L1348 1055.63L1348.5 1055.53L1349 1057.14L1349.5 1055.41L1350 1056.62L1350.5 1056.6L1351 1056.15L1351.5 1056.67L1352 1056.79L1352.5 1055.72L1353 1056.59L1353.5 1040.19L1353.7 1011.48L1354 1050.04L1354.5 1055.49L1355 1058.24L1355.5 1054.85L1356 1021.28L1356.1 1013.5L1356.5 1054.15L1357 1056.14L1357.5 1055.57L1358 1054.95L1358.5 1056.22L1359 1056.79L1359.5 1055.91L1360 1056.48L1360.5 1057.01L1361 1057.53L1361.5 1055.11L1362 1056.96L1362.5 1055.74L1363 1054.49L1363.5 1055.61L1364 1057.04L1364.5 1056.71L1365 1055.32L1365.5 1058.04L1366 1056.85L1366.5 1056.39L1367 1055.93L1367.5 1056.9L1368 1056.11L1368.5 1057.65L1369 1056.85L1369.5 1057.16L1370 1056.26L1370.5 1055.1L1371 1057.12L1371.5 1055.6L1372 1056.52L1372.5 1056.63L1373 1055.88L1373.5 1057.57L1374 1055.27L1374.5 1058.2L1375 1056.14L1375.5 1057.71L1376 1058.05L1376.5 1055.92L1377 1056.07L1377.5 1057.75L1378 1057.02L1378.5 1056.93L1379 1055.05L1379.5 1055.25L1380 1057.44L1380.5 1058.35L1381 1056.23L1381.5 1056.09L1382 1057.18L1382.5 1057.45L1383 1057.56L1383.5 1056.58L1384 1055.1L1384.5 1058.5L1385 1056.57L1385.5 1058.33L1386 1055.12L1386.5 1057.48L1387 1056.63L1387.5 1056.06L1388 1058.12L1388.5 1058.39L1389 1052.12L1389.5 1015.59L1389.8 995.13L1390 1004.72L1390.5 1044.53L1391 1017.24L1391.3 1000.87L1391.5 1007.63L1392 1050.5L1392.5 1058.06L1393 1057.05L1393.5 1056.1L1394 1054.92L1394.5 1056.22L1395 1019.22L1395.4 966.51L1395.5 970.27L1396 1045.02L1396.5 1057.15L1397 1057.34L1397.5 1057.62L1398 1057.63L1398.5 1058.31L1399 1056.57L1399.5 1058.07L1400 1057.51L1400.5 1056.94L1401 1056.37L1401.5 1058.81L1402 1057.6L1402.5 1054.78L1402.9 984.74L1403 999.16L1403.5 1056.83L1404 1056L1404.5 1057.52L1405 1057.21L1405.5 1057.09L1406 1058.34L1406.5 1056.07L1407 1056.42L1407.5 1057.52L1408 1058.18L1408.5 1057.96L1409 1058.07L1409.5 1055.17L1410 1057.84L1410.5 1057.75L1411 1058.01L1411.5 1056.65L1412 1057.83L1412.5 1058.31L1413 1057.13L1413.4 995.57L1413.5 1006.35L1414 1057.34L1414.5 1057.94L1415 1057.81L1415.5 1059.19L1416 1057.09L1416.5 1056.28L1417 1056.65L1417.5 1023.63L1417.7 973.08L1418 1044.95L1418.5 1056.43L1419 1058.45L1419.5 1057.48L1420 1056.91L1420.5 1058.08L1421 1057.91L1421.5 1056.26L1422 1058.04L1422.5 1057.46L1423 1055.17L1423.5 1056.03L1424 1057.46L1424.5 1057.68L1425 1056.91L1425.5 1056.2L1426 1057.43L1426.5 1055.37L1427 1057.73L1427.5 1057.02L1428 1057.14L1428.5 1056.53L1429 1057.99L1429.5 1054.86L1430 1056.31L1430.5 1057.73L1431 1056.47L1431.5 1058.61L1432 1057.58L1432.5 1056.41L1433 1058.26L1433.5 1057.08L1434 1057.74L1434.5 1056.56L1435 1056.58L1435.5 1057.88L1436 1057.28L1436.5 1056.44L1437 1056.32L1437.5 1057.84L1438 1058.94L1438.5 1056.38L1439 1057.88L1439.5 1054.34L1440 1055.85L1440.5 1057.89L1441 1058.8L1441.5 1057.3L1442 1057.79L1442.5 1057.51L1443 1058.26L1443.5 1056.2L1444 1057.91L1444.5 1056.86L1445 1056.96L1445.5 1057.3L1446 1057.11L1446.5 1056.56L1447 1057.08L1447.5 1056.41L1448 1058.81L1448.5 1058.05L1449 1056.96L1449.5 1058.95L1450 1058.66L1450.5 1057.88L1451 1056.88L1451.5 1057.68L1452 1058L1452.5 1058.82L1453 1057.28L1453.5 1056.91L1454 1059.74L1454.5 1058.86L1455 1057.81L1455.5 1056.6L1456 1058L1456.5 1058.64L1457 1058.29L1457.5 1058.37L1458 1057.61L1458.5 1058.7L1459 1056.99L1459.5 1057.16L1460 1057.11L1460.5 1056.98L1461 1059.55L1461.5 1055.96L1462 1057.88L1462.5 1056.68L1463 1056.43L1463.5 1057.77L1464 1056.12L1464.5 1057.59L1465 1059.96L1465.5 1057.58L1466 1058.15L1466.5 1056.86L1467 1058.19L1467.5 1056.24L1468 1057.91L1468.5 1057.6L1469 1059.88L1469.5 1057.64L1470 1057.37L1470.5 1057.17L1471 1056.54L1471.5 1058.49L1472 1059.17L1472.5 1057.36L1473 1058.44L1473.5 1057.38L1474 1058.13L1474.5 1058.18L1475 1056.3L1475.5 1056.96L1476 1058.65L1476.5 1055.82L1477 1057.72L1477.5 1057.37L1478 1056.78L1478.5 1057.75L1479 1058L1479.5 1058.22L1480 1055.06L1480.5 1059.34L1481 1057.19L1481.5 1058.69L1482 1057.53L1482.5 1057.06L1483 1057.56L1483.5 1060.78L1484 1059.17L1484.5 1057.25L1485 1057.81L1485.5 1058.69L1486 1058.14L1486.5 1057.63L1487 1057.35L1487.5 1056.45L1488 1058.26L1488.5 1058.6L1489 1059.71L1489.5 1056.92L1490 1058.1L1490.5 1057.4L1491 1058.67L1491.5 1057.3L1492 1056.74L1492.5 1055.68L1493 1058L1493.5 1057.05L1494 1056.52L1494.5 1051.4L1495 1050.34L1495.4 1045.56L1495.5 1046.88L1496 1049.68L1496.5 1054.58L1497 1055.92L1497.5 1056.06L1498 1056.16L1498.5 1057.97L1499 918.13L1499.2 719.08L1499.5 1010.51L1500 1057.25L1500.5 1057.31L1501 1057.69L1501.5 1055.55L1502 1054.13L1502.5 1036.49L1503 1008.01L1503.5 1034.62L1504 1053.02L1504.5 1040.76L1505 1023.85L1505.5 1042.63L1506 1054.82L1506.5 1058.88L1507 1055.37L1507.5 1054.91L1508 1056.44L1508.5 1055.61L1509 1058.19L1509.5 1056.36L1510 1057.29L1510.5 1055.35L1511 1057.41L1511.5 1057.37L1512 1057.96L1512.5 1056.93L1513 1057.21L1513.5 1056.85L1514 1057.6L1514.5 1056.25L1515 1057.19L1515.5 1056.07L1516 1057.34L1516.5 1056.34L1517 1055.96L1517.5 1055.93L1518 1058.07L1518.5 1055.03L1519 1055.1L1519.5 1057.22L1520 1055.58L1520.5 1056.1L1521 1056.07L1521.5 1058.84L1522 1055.88L1522.5 1055.83L1523 1056.16L1523.5 1056.78L1524 1057.05L1524.5 1055.07L1525 1056.99L1525.5 1058.5L1526 1054.76L1526.5 1057.12L1527 1057.32L1527.5 1056.7L1528 1056.35L1528.5 1054.2L1529 1057.75L1529.5 1056.23L1530 1056.35L1530.5 1057.79L1531 1054.23L1531.5 1056.5L1532 1057.17L1532.5 1057.3L1533 1057.19L1533.5 1058.63L1534 1056.88L1534.5 1057.62L1535 1057.38L1535.5 1055.13L1536 1055.85L1536.5 1058.71L1537 1056.36L1537.5 1056.57L1538 1055.33L1538.5 1056.31L1539 1055.34L1539.5 1056.06L1540 1057.23L1540.5 1055.85L1541 1056.07L1541.5 1058.03L1542 1057.17L1542.5 1057.22L1543 1057.71L1543.5 1056.17L1544 1056.33L1544.5 1054.67L1545 1057.47L1545.5 1056.54L1546 1056.75L1546.5 1055.67L1547 1057.38L1547.5 1057.39L1548 1056.95L1548.5 1055.19L1549 1055.94L1549.5 1056.75L1550 1055.95L1550.5 1057.18L1551 1057.8L1551.5 1056.05L1552 1056.62L1552.5 1056.12L1553 1057.84L1553.5 1057.71L1554 1059.48L1554.5 1056.83L1555 1055.89L1555.5 1057.23L1556 1056.59L1556.5 1057.01L1557 1058.07L1557.5 1056.54L1558 1057.54L1558.5 1054.7L1559 1057.88L1559.5 1056.95L1560 1056.58L1560.5 1056.31L1561 1058.23L1561.5 1056.3L1562 1058.08L1562.5 1056.3L1563 1056.85L1563.5 1057.15L1564 1058.82L1564.5 1057.04L1565 1057.02L1565.5 1056.71L1566 1056.47L1566.5 1056.16L1567 1058.57L1567.5 1058.22L1568 1056.06L1568.5 1056.9L1569 1055.56L1569.5 1057.67L1570 1057.41L1570.5 1056.82L1571 1055.9L1571.5 1057.46L1572 1057.3L1572.5 1056.5L1573 1057.4L1573.5 1055.31L1574 1056.05L1574.5 1055.69L1575 1056.74L1575.5 1058.29L1576 1056.66L1576.5 1057.74L1577 1056.56L1577.5 1056.17L1578 1057.58L1578.5 1057.1L1579 1057.97L1579.5 1057.51L1580 1055.71L1580.5 1053.97L1581 1056.64L1581.5 1055.32L1582 1055.08L1582.5 1055L1583 1055.83L1583.5 1056.26L1584 1056.46L1584.5 1058.49L1585 1055.22L1585.5 1056.42L1586 1055.18L1586.5 1055.42L1587 1056.47L1587.5 1056.82L1588 1055.11L1588.5 1057.53L1589 1055.45L1589.5 1057.33L1590 1056.32L1590.5 1057.27L1591 1056.93L1591.5 1056.07L1592 1056.83L1592.5 1055.01L1593 1055.05L1593.5 1055.99L1594 1057.72L1594.5 1055.6L1595 1055.74L1595.5 1058.01L1596 1056.39L1596.5 1056.35L1597 1055.3L1597.5 1056.41L1598 1056.94L1598.5 1056.3L1599 1057.12L1599.5 1056.69L1600 1057.42L1600.5 1057.2L1601 1056.24L1601.5 1057.25L1602 1058.19L1602.5 1056.7L1603 1055.18L1603.5 1056.6L1604 1056.22L1604.5 1059.02L1605 1057.19L1605.5 1055.34L1606 1056.27L1606.5 1057.93L1607 1055.32L1607.5 1056L1608 1056.5L1608.5 1056.36L1609 1055.93L1609.5 1056.67L1610 1055.14L1610.5 1055.98L1611 1055.98L1611.5 1056.29L1612 1056.3L1612.5 1056.61L1613 1056.28L1613.5 1056.23L1614 1057.02L1614.5 1057.58L1615 1057.65L1615.5 1055.56L1616 1056.97L1616.5 1057.49L1617 1056.49L1617.5 1057.24L1618 1056.57L1618.5 1057.19L1619 1055.31L1619.5 1057.31L1620 1056.38L1620.5 1056.15L1621 1056.6L1621.5 1057.91L1622 1057.88L1622.5 1057.2L1623 1057.84L1623.5 1056.58L1624 1055.76L1624.5 1055.16L1625 1057.01L1625.5 1056.91L1626 1057.11L1626.5 1057.16L1627 1058.33L1627.5 1056.21L1628 1056.37L1628.5 1059.08L1629 1057.94L1629.5 1056.89L1630 1055.17L1630.5 1056.37L1631 1056.88L1631.5 1057.17L1632 1057.45L1632.5 1057.05L1633 1058.44L1633.5 1056.12L1634 1057.03L1634.5 1056.65L1635 1058.11L1635.5 1057.53L1636 1058.15L1636.5 1057.45L1637 1061.13L1637.5 1058.11L1638 1056.65L1638.5 1057.4L1639 1057.02L1639.5 1058.18L1640 1058.4L1640.5 1057.82L1641 1057.27L1641.5 1056.79L1642 1059.07L1642.5 1058.59L1643 1054.55L1643.5 1057.55L1644 1056.65L1644.5 1057.12L1645 1059.19L1645.5 1056.37L1646 1056.46L1646.5 1059.96L1647 1057.03L1647.5 1057.27" fill="none" stroke="#000" stroke-width="2.9" stroke-linejoin="miter" stroke-miterlimit="2"/>
<polygon points="353.6,1057 354,1041 356.4,1038.5 356.4,53.6 366.6,53.6 366.6,1034.5 369,1035.5 369.4,1057" fill="#000"/>
<polygon points="358.3,1051.5 360.5,1023 361.3,1020.8 362.1,1023 365,1051.5" fill="#fff"/>
<rect x="706" y="53.6" width="3.0" height="995" fill="#000"/>
<rect x="720.8" y="53.6" width="3.0" height="995" fill="#000"/>
<rect x="735.5" y="53.6" width="3.0" height="995" fill="#000"/>
<rect x="749.8" y="53.6" width="3.0" height="995" fill="#000"/>
<polygon points="1015.9,1055 1016.6,1045 1017.1,1040 1017.1,968.6 1017.9,968.6 1017.9,923.6 1020.5,923.6 1020.5,934.1 1022.5,934.1 1022.5,949 1026.3,949 1026.3,1040 1027.5,1053" fill="#000"/>
<polygon points="1018.6,1051 1019.7,1035.3 1020.9,1051" fill="#fff"/>
<polygon points="446.9,1057 446.9,1004 449.6,1004 450.3,900.6 452.2,900.6 452.6,895.2 455.3,895.3 456,1004 457.8,1004 457.8,1057" fill="#000"/>
<path d="M168 1074.5V994H294.5V1074.5Z" fill="none" stroke="#C55A11" stroke-width="7.2" stroke-dasharray="7.4 8.25" stroke-dashoffset="0.9"/>
<path d="M956 1076V912.7H1118V1076Z" fill="none" stroke="#C55A11" stroke-width="7.2" stroke-dasharray="7.4 8.27" stroke-dashoffset="-1"/>
<path d="M1176 1076V913H1451.6V1076Z" fill="none" stroke="#C55A11" stroke-width="7.2" stroke-dasharray="7.4 8.25" stroke-dashoffset="-1.1"/>
<polygon points="233.3,968.23 233.6,923.73 241,923.78 229.75,901.4 218.2,923.62 225.6,923.67 225.3,968.17" fill="#C55A11"/>
<polygon points="920.85,965.66 896.72,919.01 903.2,915.66 883.1,901.4 883.13,926.04 889.61,922.69 913.75,969.34" fill="#C55A11"/>
<polygon points="1317.71,880.05 1369.22,531.81 1376.49,532.88 1368.8,509 1354.53,529.63 1361.8,530.71 1310.29,878.95" fill="#C55A11"/>
<text transform="translate(141.17 482.2) rotate(-90) scale(0.94 1)" font-size="34" font-weight="bold" fill="#000080">180.22</text>
<text transform="translate(178.77 482.2) rotate(-90) scale(0.94 1)" font-size="34" font-weight="bold" fill="#000080">179.26</text>
<path d="M131.8 487 Q131.8 492.4 132.73 492.94 L133.67 499.06 Q134.6 499.6 134.6 505" fill="none" stroke="#000080" stroke-width="1.9"/>
<path d="M169.6 487 Q169.6 492.4 168.8 492.94 L168 499.06 Q167.2 499.6 167.2 505" fill="none" stroke="#000080" stroke-width="1.9"/>
<line x1="134.4" y1="766" x2="134.4" y2="774.5" stroke="#4646a6" stroke-width="2.3"/>
<line x1="167.2" y1="726.3" x2="167.2" y2="735.5" stroke="#4646a6" stroke-width="2.3"/>
<text transform="translate(799.77 517.2) rotate(-90) scale(0.94 1)" font-size="34" font-weight="bold" fill="#000080">76.92</text>
<path d="M790.6 520 Q790.6 525.55 794.6 526.11 L829.6 532.39 Q833.6 532.95 833.6 538.5" fill="none" stroke="#000080" stroke-width="1.9"/>
<text transform="translate(838.57 517.2) rotate(-90) scale(0.94 1)" font-size="34" font-weight="bold" fill="#000080">76.78</text>
<path d="M829.4 520 Q829.4 525.55 832.47 526.11 L835.53 532.39 Q838.6 532.95 838.6 538.5" fill="none" stroke="#000080" stroke-width="1.9"/>
<text transform="translate(875.97 517.2) rotate(-90) scale(0.94 1)" font-size="34" font-weight="bold" fill="#000080">76.42</text>
<path d="M866.8 520 Q866.8 525.55 862.8 526.11 L855.3 532.39 Q851.3 532.95 851.3 538.5" fill="none" stroke="#000080" stroke-width="1.9"/>
<text transform="translate(913.17 517.2) rotate(-90) scale(0.94 1)" font-size="34" font-weight="bold" fill="#000080">76.14</text>
<path d="M904 520 Q904 525.55 900 526.11 L865.5 532.39 Q861.5 532.95 861.5 538.5" fill="none" stroke="#000080" stroke-width="1.9"/>
<text transform="translate(957.27 517.2) rotate(-90) scale(0.94 1)" font-size="34" font-weight="bold" fill="#000080">72.66</text>
<path d="M948.1 520 Q948.1 525.55 952.1 526.11 L980.8 532.39 Q984.8 532.95 984.8 538.5" fill="none" stroke="#000080" stroke-width="1.9"/>
<text transform="translate(995.57 517.2) rotate(-90) scale(0.94 1)" font-size="34" font-weight="bold" fill="#000080">72.52</text>
<path d="M986.4 520 Q986.4 525.55 987.47 526.11 L988.53 532.39 Q989.6 532.95 989.6 538.5" fill="none" stroke="#000080" stroke-width="1.9"/>
<text transform="translate(1032.57 517.2) rotate(-90) scale(0.94 1)" font-size="34" font-weight="bold" fill="#000080">71.61</text>
<path d="M1023.4 520 Q1023.4 525.55 1023 526.11 L1022.6 532.39 Q1022.2 532.95 1022.2 538.5" fill="none" stroke="#000080" stroke-width="1.9"/>
<text transform="translate(1069.67 517.2) rotate(-90) scale(0.94 1)" font-size="34" font-weight="bold" fill="#000080">71.52</text>
<path d="M1060.5 520 Q1060.5 525.55 1056.5 526.11 L1028.8 532.39 Q1024.8 532.95 1024.8 538.5" fill="none" stroke="#000080" stroke-width="1.9"/>
<line x1="833.4" y1="670.5" x2="833.4" y2="679" stroke="#4646a6" stroke-width="2.3"/>
<line x1="838.8" y1="613.5" x2="838.8" y2="622" stroke="#4646a6" stroke-width="2.3"/>
<line x1="851.3" y1="627.5" x2="851.3" y2="636" stroke="#4646a6" stroke-width="2.3"/>
<line x1="861.5" y1="645.5" x2="861.5" y2="654" stroke="#4646a6" stroke-width="2.3"/>
<line x1="984.6" y1="636.5" x2="984.6" y2="645" stroke="#4646a6" stroke-width="2.3"/>
<line x1="989.7" y1="626.5" x2="989.7" y2="635" stroke="#4646a6" stroke-width="2.3"/>
<line x1="1022.4" y1="653" x2="1022.4" y2="661.5" stroke="#4646a6" stroke-width="2.3"/>
<line x1="1025.2" y1="643.8" x2="1025.2" y2="652.3" stroke="#4646a6" stroke-width="2.3"/>
<text transform="translate(1161.67 195.6) rotate(-90) scale(0.92 1)" font-size="34" font-weight="bold" fill="#000080">50.98</text>
<line x1="1153.2" y1="199" x2="1153.2" y2="217.6" stroke="#000080" stroke-width="2.2"/>
<text transform="translate(1306.67 195.6) rotate(-90) scale(0.92 1)" font-size="34" font-weight="bold" fill="#000080">42.88</text>
<line x1="1297.4" y1="199" x2="1297.4" y2="217.6" stroke="#000080" stroke-width="2.2"/>
<text transform="translate(1428.07 195.6) rotate(-90) scale(0.92 1)" font-size="34" font-weight="bold" fill="#000080">33.60</text>
<path d="M1418.7 199 Q1418.7 204.61 1422.7 205.17 L1458.2 211.53 Q1462.2 212.09 1462.2 217.7" fill="none" stroke="#000080" stroke-width="1.9"/>
<text transform="translate(1464.87 195.6) rotate(-90) scale(0.92 1)" font-size="34" font-weight="bold" fill="#000080">33.29</text>
<path d="M1455.5 199 Q1455.5 204.61 1459.5 205.17 L1463.6 211.53 Q1467.6 212.09 1467.6 217.7" fill="none" stroke="#000080" stroke-width="1.9"/>
<text transform="translate(1502.17 195.6) rotate(-90) scale(0.92 1)" font-size="34" font-weight="bold" fill="#000080">28.80</text>
<path d="M1492.8 199 Q1492.8 204.61 1496.8 205.17 L1543.6 211.53 Q1547.6 212.09 1547.6 217.7" fill="none" stroke="#000080" stroke-width="1.9"/>
<text transform="translate(1540.57 195.6) rotate(-90) scale(0.92 1)" font-size="34" font-weight="bold" fill="#000080">28.18</text>
<path d="M1531.2 199 Q1531.2 204.61 1535.2 205.17 L1553.8 211.53 Q1557.8 212.09 1557.8 217.7" fill="none" stroke="#000080" stroke-width="1.9"/>
<text transform="translate(1577.07 195.6) rotate(-90) scale(0.92 1)" font-size="34" font-weight="bold" fill="#000080">27.26</text>
<path d="M1567.7 199 Q1567.7 204.61 1570.13 205.17 L1572.57 211.53 Q1575 212.09 1575 217.7" fill="none" stroke="#000080" stroke-width="1.9"/>
<text transform="translate(1614.47 195.6) rotate(-90) scale(0.92 1)" font-size="34" font-weight="bold" fill="#000080">25.91</text>
<path d="M1605.1 199 Q1605.1 204.61 1602.87 205.17 L1600.63 211.53 Q1598.4 212.09 1598.4 217.7" fill="none" stroke="#000080" stroke-width="1.9"/>
<text transform="translate(1652.57 195.6) rotate(-90) scale(0.92 1)" font-size="34" font-weight="bold" fill="#000080">25.34</text>
<path d="M1643.2 199 Q1643.2 204.61 1639.2 205.17 L1612.7 211.53 Q1608.7 212.09 1608.7 217.7" fill="none" stroke="#000080" stroke-width="1.9"/>
<line x1="1153.4" y1="373.5" x2="1153.4" y2="382.5" stroke="#4646a6" stroke-width="2.3"/>
<line x1="1297.2" y1="293.4" x2="1297.2" y2="302.4" stroke="#4646a6" stroke-width="2.3"/>
<line x1="1462.2" y1="321.9" x2="1462.2" y2="330.9" stroke="#4646a6" stroke-width="2.3"/>
<line x1="1467.9" y1="321.9" x2="1467.9" y2="330.9" stroke="#4646a6" stroke-width="2.3"/>
<line x1="1548" y1="298" x2="1548" y2="307" stroke="#4646a6" stroke-width="2.3"/>
<line x1="1557.9" y1="259" x2="1557.9" y2="268" stroke="#4646a6" stroke-width="2.3"/>
<line x1="1574.8" y1="277.5" x2="1574.8" y2="286.5" stroke="#4646a6" stroke-width="2.3"/>
<line x1="1599" y1="291.3" x2="1599" y2="300.3" stroke="#4646a6" stroke-width="2.3"/>
<line x1="1608.9" y1="259.9" x2="1608.9" y2="268.9" stroke="#4646a6" stroke-width="2.3"/>
<text transform="translate(1507.47 638.6) rotate(-90) scale(0.94 1)" font-size="34" font-weight="bold" fill="#000080">14.81</text>
<line x1="1499" y1="644" x2="1499" y2="660" stroke="#000080" stroke-width="2.2"/>
<line x1="1499.2" y1="710.6" x2="1499.2" y2="718.6" stroke="#4646a6" stroke-width="2.3"/>
<text x="171" y="700" font-size="40" font-weight="bold" fill="#FF0000" text-anchor="middle">11</text>
<text x="851.9" y="604.5" font-size="40" font-weight="bold" fill="#FF0000" text-anchor="middle">4</text>
<text x="1009" y="613.8" font-size="40" font-weight="bold" fill="#FF0000" text-anchor="middle">3</text>
<text x="1158.3" y="338" font-size="40" font-weight="bold" fill="#FF0000" text-anchor="middle">5</text>
<text x="1298" y="277.6" font-size="40" font-weight="bold" fill="#FF0000" text-anchor="middle">2</text>
<text x="1461" y="291.5" font-size="40" font-weight="bold" fill="#FF0000" text-anchor="middle">1</text>
<text x="1583.6" y="254.6" font-size="40" font-weight="bold" fill="#FF0000" text-anchor="middle">9,10</text>
<text x="1526.6" y="818.6" font-size="40" font-weight="bold" fill="#FF0000" text-anchor="middle">6</text>
<text x="9.5" y="193.5" font-size="69" font-weight="bold">(b)</text>
<text transform="translate(589.8 1280) scale(0.958 1)" font-size="53.5" font-weight="bold">Chemical</text>
<text transform="translate(837.3 1280) scale(0.958 1)" font-size="53.5" font-weight="bold">shift</text>
<text transform="translate(961.3 1280) scale(0.958 1)" font-size="53.5" font-weight="bold">(ppm)</text>
<text transform="translate(360.5 53.4) scale(1.1 1)" font-size="56" font-family="IPAGothic, 'Liberation Sans', sans-serif" text-anchor="middle" font-weight="bold">*</text>
<text transform="translate(729.2 52.1) scale(1.1 1)" font-size="56" font-family="IPAGothic, 'Liberation Sans', sans-serif" text-anchor="middle" font-weight="bold">*</text>
<text transform="translate(452.6 894.1) scale(1.1 1)" font-size="56" font-family="IPAGothic, 'Liberation Sans', sans-serif" text-anchor="middle" font-weight="bold">*</text>
</svg>
</body></html>
